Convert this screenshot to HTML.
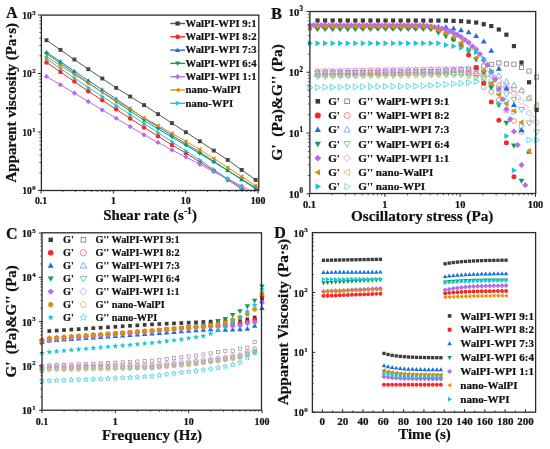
<!DOCTYPE html>
<html><head><meta charset="utf-8"><style>
html,body{margin:0;padding:0;background:#fff;}
svg{display:block;will-change:transform;filter:blur(0.3px);}
text{fill:#111;stroke:#111;stroke-width:0.22px;}
</style></head><body>
<svg width="550" height="449" viewBox="0 0 550 449" style="font-family:&quot;Liberation Serif&quot;,serif;font-weight:bold">
<rect width="550" height="449" fill="#fff"/>
<clipPath id="ca"><rect x="41" y="15" width="217" height="175.5"/></clipPath>
<g clip-path="url(#ca)">
<polyline points="46.50,40.20 87.90,68.90 115.80,87.60 144.00,105.10 171.30,122.70 199.00,140.70 227.80,160.00 255.50,179.80 270.00,190.16" fill="none" stroke="#555555" stroke-width="1.0"/>
<polyline points="46.50,62.40 87.90,90.90 144.00,127.40 171.30,144.60 185.80,153.10 227.80,179.70 241.50,188.70 270.00,207.42" fill="none" stroke="#f52828" stroke-width="1.0"/>
<polyline points="46.50,52.20 87.90,80.40 115.80,98.70 144.00,118.30 185.80,143.80 199.00,151.60 255.50,188.60 270.00,198.10" fill="none" stroke="#1a6fdf" stroke-width="1.0"/>
<polyline points="46.50,53.60 87.90,82.60 144.00,120.40 171.30,136.80 199.00,153.10 227.80,170.60 241.50,179.10 255.50,187.60 270.00,196.40" fill="none" stroke="#0f9d58" stroke-width="1.0"/>
<polyline points="46.50,76.50 144.00,134.90 171.30,149.70 185.80,157.00 241.50,186.00 270.00,200.84" fill="none" stroke="#b46ee8" stroke-width="1.0"/>
<polyline points="46.50,56.60 87.90,83.20 144.00,117.80 171.30,132.90 199.00,148.90 227.80,167.60 255.50,185.60 270.00,195.02" fill="none" stroke="#dc8e0c" stroke-width="1.0"/>
<polyline points="46.50,58.90 87.90,87.30 144.00,123.50 171.30,141.40 199.00,159.40 227.80,179.00 241.50,187.60 270.00,205.49" fill="none" stroke="#19c6d6" stroke-width="1.0"/>
<rect x="44.55" y="38.25" width="3.90" height="3.90" fill="#454545"/>
<rect x="58.49" y="47.91" width="3.90" height="3.90" fill="#454545"/>
<rect x="72.43" y="57.58" width="3.90" height="3.90" fill="#454545"/>
<rect x="86.37" y="67.23" width="3.90" height="3.90" fill="#454545"/>
<rect x="100.31" y="76.57" width="3.90" height="3.90" fill="#454545"/>
<rect x="114.25" y="85.90" width="3.90" height="3.90" fill="#454545"/>
<rect x="128.19" y="94.55" width="3.90" height="3.90" fill="#454545"/>
<rect x="142.13" y="103.20" width="3.90" height="3.90" fill="#454545"/>
<rect x="156.07" y="112.19" width="3.90" height="3.90" fill="#454545"/>
<rect x="170.01" y="121.18" width="3.90" height="3.90" fill="#454545"/>
<rect x="183.95" y="130.24" width="3.90" height="3.90" fill="#454545"/>
<rect x="197.89" y="139.31" width="3.90" height="3.90" fill="#454545"/>
<rect x="211.83" y="148.65" width="3.90" height="3.90" fill="#454545"/>
<rect x="225.77" y="158.00" width="3.90" height="3.90" fill="#454545"/>
<rect x="239.71" y="167.96" width="3.90" height="3.90" fill="#454545"/>
<rect x="253.65" y="177.92" width="3.90" height="3.90" fill="#454545"/>
<circle cx="46.50" cy="62.40" r="2.25" fill="#f52828"/>
<circle cx="60.44" cy="72.00" r="2.25" fill="#f52828"/>
<circle cx="74.38" cy="81.59" r="2.25" fill="#f52828"/>
<circle cx="88.32" cy="91.17" r="2.25" fill="#f52828"/>
<circle cx="102.26" cy="100.24" r="2.25" fill="#f52828"/>
<circle cx="116.20" cy="109.31" r="2.25" fill="#f52828"/>
<circle cx="130.14" cy="118.38" r="2.25" fill="#f52828"/>
<circle cx="144.08" cy="127.45" r="2.25" fill="#f52828"/>
<circle cx="158.02" cy="136.23" r="2.25" fill="#f52828"/>
<circle cx="171.96" cy="144.99" r="2.25" fill="#f52828"/>
<circle cx="185.90" cy="153.16" r="2.25" fill="#f52828"/>
<circle cx="199.84" cy="161.99" r="2.25" fill="#f52828"/>
<circle cx="213.78" cy="170.82" r="2.25" fill="#f52828"/>
<circle cx="227.72" cy="179.65" r="2.25" fill="#f52828"/>
<circle cx="241.66" cy="188.81" r="2.25" fill="#f52828"/>
<polygon points="46.50,49.73 48.86,53.89 44.14,53.89" fill="#1a6fdf"/>
<polygon points="60.44,59.22 62.80,63.38 58.08,63.38" fill="#1a6fdf"/>
<polygon points="74.38,68.72 76.74,72.88 72.02,72.88" fill="#1a6fdf"/>
<polygon points="88.32,78.20 90.68,82.36 85.96,82.36" fill="#1a6fdf"/>
<polygon points="102.26,87.34 104.62,91.51 99.90,91.51" fill="#1a6fdf"/>
<polygon points="116.20,96.50 118.56,100.67 113.84,100.67" fill="#1a6fdf"/>
<polygon points="130.14,106.19 132.50,110.35 127.78,110.35" fill="#1a6fdf"/>
<polygon points="144.08,115.87 146.44,120.04 141.72,120.04" fill="#1a6fdf"/>
<polygon points="158.02,124.38 160.38,128.54 155.66,128.54" fill="#1a6fdf"/>
<polygon points="171.96,132.88 174.32,137.04 169.60,137.04" fill="#1a6fdf"/>
<polygon points="185.90,141.38 188.26,145.55 183.54,145.55" fill="#1a6fdf"/>
<polygon points="199.84,149.68 202.20,153.84 197.48,153.84" fill="#1a6fdf"/>
<polygon points="213.78,158.80 216.14,162.97 211.42,162.97" fill="#1a6fdf"/>
<polygon points="227.72,167.93 230.08,172.10 225.36,172.10" fill="#1a6fdf"/>
<polygon points="241.66,177.06 244.02,181.22 239.30,181.22" fill="#1a6fdf"/>
<polygon points="255.60,186.19 257.96,190.35 253.24,190.35" fill="#1a6fdf"/>
<polygon points="46.50,56.08 48.86,51.91 44.14,51.91" fill="#0f9d58"/>
<polygon points="60.44,65.84 62.80,61.68 58.08,61.68" fill="#0f9d58"/>
<polygon points="74.38,75.60 76.74,71.44 72.02,71.44" fill="#0f9d58"/>
<polygon points="88.32,85.36 90.68,81.20 85.96,81.20" fill="#0f9d58"/>
<polygon points="102.26,94.75 104.62,90.59 99.90,90.59" fill="#0f9d58"/>
<polygon points="116.20,104.14 118.56,99.98 113.84,99.98" fill="#0f9d58"/>
<polygon points="130.14,113.54 132.50,109.37 127.78,109.37" fill="#0f9d58"/>
<polygon points="144.08,122.92 146.44,118.76 141.72,118.76" fill="#0f9d58"/>
<polygon points="158.02,131.30 160.38,127.13 155.66,127.13" fill="#0f9d58"/>
<polygon points="171.96,139.66 174.32,135.50 169.60,135.50" fill="#0f9d58"/>
<polygon points="185.90,147.87 188.26,143.70 183.54,143.70" fill="#0f9d58"/>
<polygon points="199.84,156.09 202.20,151.92 197.48,151.92" fill="#0f9d58"/>
<polygon points="213.78,164.56 216.14,160.39 211.42,160.39" fill="#0f9d58"/>
<polygon points="227.72,173.03 230.08,168.86 225.36,168.86" fill="#0f9d58"/>
<polygon points="241.66,181.67 244.02,177.51 239.30,177.51" fill="#0f9d58"/>
<polygon points="255.60,190.14 257.96,185.97 253.24,185.97" fill="#0f9d58"/>
<polygon points="46.50,73.91 49.09,76.50 46.50,79.09 43.91,76.50" fill="#b46ee8"/>
<polygon points="60.44,82.26 63.03,84.85 60.44,87.44 57.85,84.85" fill="#b46ee8"/>
<polygon points="74.38,90.61 76.97,93.20 74.38,95.79 71.79,93.20" fill="#b46ee8"/>
<polygon points="88.32,98.96 90.91,101.55 88.32,104.14 85.73,101.55" fill="#b46ee8"/>
<polygon points="102.26,107.31 104.85,109.90 102.26,112.49 99.67,109.90" fill="#b46ee8"/>
<polygon points="116.20,115.66 118.79,118.25 116.20,120.84 113.61,118.25" fill="#b46ee8"/>
<polygon points="130.14,124.01 132.73,126.60 130.14,129.19 127.55,126.60" fill="#b46ee8"/>
<polygon points="144.08,132.36 146.67,134.94 144.08,137.53 141.49,134.94" fill="#b46ee8"/>
<polygon points="158.02,139.91 160.61,142.50 158.02,145.09 155.43,142.50" fill="#b46ee8"/>
<polygon points="171.96,147.44 174.55,150.03 171.96,152.62 169.37,150.03" fill="#b46ee8"/>
<polygon points="185.90,154.46 188.49,157.05 185.90,159.64 183.31,157.05" fill="#b46ee8"/>
<polygon points="199.84,161.72 202.43,164.31 199.84,166.90 197.25,164.31" fill="#b46ee8"/>
<polygon points="213.78,168.98 216.37,171.57 213.78,174.16 211.19,171.57" fill="#b46ee8"/>
<polygon points="227.72,176.24 230.31,178.83 227.72,181.41 225.13,178.83" fill="#b46ee8"/>
<polygon points="241.66,183.50 244.25,186.08 241.66,188.67 239.07,186.08" fill="#b46ee8"/>
<polygon points="255.60,190.75 258.19,193.34 255.60,195.93 253.01,193.34" fill="#b46ee8"/>
<polygon points="44.02,56.60 48.19,54.24 48.19,58.96" fill="#dc8e0c"/>
<polygon points="57.96,65.56 62.13,63.19 62.13,67.92" fill="#dc8e0c"/>
<polygon points="71.91,74.51 76.07,72.15 76.07,76.88" fill="#dc8e0c"/>
<polygon points="85.84,83.46 90.01,81.10 90.01,85.82" fill="#dc8e0c"/>
<polygon points="99.78,92.06 103.95,89.69 103.95,94.42" fill="#dc8e0c"/>
<polygon points="113.73,100.65 117.89,98.29 117.89,103.02" fill="#dc8e0c"/>
<polygon points="127.66,109.25 131.83,106.89 131.83,111.61" fill="#dc8e0c"/>
<polygon points="141.60,117.84 145.77,115.48 145.77,120.21" fill="#dc8e0c"/>
<polygon points="155.54,125.55 159.71,123.19 159.71,127.92" fill="#dc8e0c"/>
<polygon points="169.48,133.28 173.65,130.92 173.65,135.64" fill="#dc8e0c"/>
<polygon points="183.43,141.33 187.59,138.97 187.59,143.70" fill="#dc8e0c"/>
<polygon points="197.37,149.45 201.53,147.08 201.53,151.81" fill="#dc8e0c"/>
<polygon points="211.31,158.50 215.47,156.13 215.47,160.86" fill="#dc8e0c"/>
<polygon points="225.25,167.55 229.41,165.19 229.41,169.91" fill="#dc8e0c"/>
<polygon points="239.19,176.61 243.35,174.24 243.35,178.97" fill="#dc8e0c"/>
<polygon points="253.12,185.66 257.29,183.30 257.29,188.03" fill="#dc8e0c"/>
<polygon points="48.98,58.90 44.81,56.54 44.81,61.26" fill="#19c6d6"/>
<polygon points="62.91,68.46 58.75,66.10 58.75,70.83" fill="#19c6d6"/>
<polygon points="76.85,78.03 72.69,75.66 72.69,80.39" fill="#19c6d6"/>
<polygon points="90.79,87.57 86.63,85.21 86.63,89.93" fill="#19c6d6"/>
<polygon points="104.73,96.57 100.57,94.20 100.57,98.93" fill="#19c6d6"/>
<polygon points="118.67,105.56 114.51,103.20 114.51,107.92" fill="#19c6d6"/>
<polygon points="132.61,114.56 128.45,112.19 128.45,116.92" fill="#19c6d6"/>
<polygon points="146.55,123.55 142.39,121.19 142.39,125.91" fill="#19c6d6"/>
<polygon points="160.49,132.69 156.33,130.33 156.33,135.06" fill="#19c6d6"/>
<polygon points="174.43,141.83 170.27,139.47 170.27,144.19" fill="#19c6d6"/>
<polygon points="188.38,150.89 184.21,148.52 184.21,153.25" fill="#19c6d6"/>
<polygon points="202.31,159.97 198.15,157.61 198.15,162.33" fill="#19c6d6"/>
<polygon points="216.25,169.46 212.09,167.10 212.09,171.82" fill="#19c6d6"/>
<polygon points="230.19,178.95 226.03,176.58 226.03,181.31" fill="#19c6d6"/>
<polygon points="244.13,187.70 239.97,185.34 239.97,190.06" fill="#19c6d6"/>
</g>
<rect x="41.4" y="15.1" width="217.40" height="175.40" fill="none" stroke="#2a2a2a" stroke-width="1.3"/>
<line x1="41.00" y1="190.50" x2="41.00" y2="193.50" stroke="#262626" stroke-width="1"/>
<line x1="62.77" y1="190.50" x2="62.77" y2="192.10" stroke="#262626" stroke-width="0.8"/>
<line x1="75.51" y1="190.50" x2="75.51" y2="192.10" stroke="#262626" stroke-width="0.8"/>
<line x1="84.55" y1="190.50" x2="84.55" y2="192.10" stroke="#262626" stroke-width="0.8"/>
<line x1="91.56" y1="190.50" x2="91.56" y2="192.10" stroke="#262626" stroke-width="0.8"/>
<line x1="97.29" y1="190.50" x2="97.29" y2="192.10" stroke="#262626" stroke-width="0.8"/>
<line x1="102.13" y1="190.50" x2="102.13" y2="192.10" stroke="#262626" stroke-width="0.8"/>
<line x1="106.32" y1="190.50" x2="106.32" y2="192.10" stroke="#262626" stroke-width="0.8"/>
<line x1="110.02" y1="190.50" x2="110.02" y2="192.10" stroke="#262626" stroke-width="0.8"/>
<line x1="113.33" y1="190.50" x2="113.33" y2="193.50" stroke="#262626" stroke-width="1"/>
<line x1="135.11" y1="190.50" x2="135.11" y2="192.10" stroke="#262626" stroke-width="0.8"/>
<line x1="147.85" y1="190.50" x2="147.85" y2="192.10" stroke="#262626" stroke-width="0.8"/>
<line x1="156.88" y1="190.50" x2="156.88" y2="192.10" stroke="#262626" stroke-width="0.8"/>
<line x1="163.89" y1="190.50" x2="163.89" y2="192.10" stroke="#262626" stroke-width="0.8"/>
<line x1="169.62" y1="190.50" x2="169.62" y2="192.10" stroke="#262626" stroke-width="0.8"/>
<line x1="174.46" y1="190.50" x2="174.46" y2="192.10" stroke="#262626" stroke-width="0.8"/>
<line x1="178.66" y1="190.50" x2="178.66" y2="192.10" stroke="#262626" stroke-width="0.8"/>
<line x1="182.36" y1="190.50" x2="182.36" y2="192.10" stroke="#262626" stroke-width="0.8"/>
<line x1="185.67" y1="190.50" x2="185.67" y2="193.50" stroke="#262626" stroke-width="1"/>
<line x1="207.44" y1="190.50" x2="207.44" y2="192.10" stroke="#262626" stroke-width="0.8"/>
<line x1="220.18" y1="190.50" x2="220.18" y2="192.10" stroke="#262626" stroke-width="0.8"/>
<line x1="229.22" y1="190.50" x2="229.22" y2="192.10" stroke="#262626" stroke-width="0.8"/>
<line x1="236.23" y1="190.50" x2="236.23" y2="192.10" stroke="#262626" stroke-width="0.8"/>
<line x1="241.95" y1="190.50" x2="241.95" y2="192.10" stroke="#262626" stroke-width="0.8"/>
<line x1="246.80" y1="190.50" x2="246.80" y2="192.10" stroke="#262626" stroke-width="0.8"/>
<line x1="250.99" y1="190.50" x2="250.99" y2="192.10" stroke="#262626" stroke-width="0.8"/>
<line x1="254.69" y1="190.50" x2="254.69" y2="192.10" stroke="#262626" stroke-width="0.8"/>
<line x1="258.00" y1="190.50" x2="258.00" y2="193.50" stroke="#262626" stroke-width="1"/>
<line x1="41.00" y1="190.50" x2="38.00" y2="190.50" stroke="#262626" stroke-width="1"/>
<line x1="41.00" y1="172.89" x2="39.40" y2="172.89" stroke="#262626" stroke-width="0.8"/>
<line x1="41.00" y1="162.59" x2="39.40" y2="162.59" stroke="#262626" stroke-width="0.8"/>
<line x1="41.00" y1="155.28" x2="39.40" y2="155.28" stroke="#262626" stroke-width="0.8"/>
<line x1="41.00" y1="149.61" x2="39.40" y2="149.61" stroke="#262626" stroke-width="0.8"/>
<line x1="41.00" y1="144.98" x2="39.40" y2="144.98" stroke="#262626" stroke-width="0.8"/>
<line x1="41.00" y1="141.06" x2="39.40" y2="141.06" stroke="#262626" stroke-width="0.8"/>
<line x1="41.00" y1="137.67" x2="39.40" y2="137.67" stroke="#262626" stroke-width="0.8"/>
<line x1="41.00" y1="134.68" x2="39.40" y2="134.68" stroke="#262626" stroke-width="0.8"/>
<line x1="41.00" y1="132.00" x2="38.00" y2="132.00" stroke="#262626" stroke-width="1"/>
<line x1="41.00" y1="114.39" x2="39.40" y2="114.39" stroke="#262626" stroke-width="0.8"/>
<line x1="41.00" y1="104.09" x2="39.40" y2="104.09" stroke="#262626" stroke-width="0.8"/>
<line x1="41.00" y1="96.78" x2="39.40" y2="96.78" stroke="#262626" stroke-width="0.8"/>
<line x1="41.00" y1="91.11" x2="39.40" y2="91.11" stroke="#262626" stroke-width="0.8"/>
<line x1="41.00" y1="86.48" x2="39.40" y2="86.48" stroke="#262626" stroke-width="0.8"/>
<line x1="41.00" y1="82.56" x2="39.40" y2="82.56" stroke="#262626" stroke-width="0.8"/>
<line x1="41.00" y1="79.17" x2="39.40" y2="79.17" stroke="#262626" stroke-width="0.8"/>
<line x1="41.00" y1="76.18" x2="39.40" y2="76.18" stroke="#262626" stroke-width="0.8"/>
<line x1="41.00" y1="73.50" x2="38.00" y2="73.50" stroke="#262626" stroke-width="1"/>
<line x1="41.00" y1="55.89" x2="39.40" y2="55.89" stroke="#262626" stroke-width="0.8"/>
<line x1="41.00" y1="45.59" x2="39.40" y2="45.59" stroke="#262626" stroke-width="0.8"/>
<line x1="41.00" y1="38.28" x2="39.40" y2="38.28" stroke="#262626" stroke-width="0.8"/>
<line x1="41.00" y1="32.61" x2="39.40" y2="32.61" stroke="#262626" stroke-width="0.8"/>
<line x1="41.00" y1="27.98" x2="39.40" y2="27.98" stroke="#262626" stroke-width="0.8"/>
<line x1="41.00" y1="24.06" x2="39.40" y2="24.06" stroke="#262626" stroke-width="0.8"/>
<line x1="41.00" y1="20.67" x2="39.40" y2="20.67" stroke="#262626" stroke-width="0.8"/>
<line x1="41.00" y1="17.68" x2="39.40" y2="17.68" stroke="#262626" stroke-width="0.8"/>
<line x1="41.00" y1="15.00" x2="38.00" y2="15.00" stroke="#262626" stroke-width="1"/>
<text x="35.50" y="194.37" font-size="9.6" text-anchor="end">10<tspan font-size="6.72" dx="0.4" dy="-4.32">0</tspan></text>
<text x="35.50" y="135.87" font-size="9.6" text-anchor="end">10<tspan font-size="6.72" dx="0.4" dy="-4.32">1</tspan></text>
<text x="35.50" y="77.37" font-size="9.6" text-anchor="end">10<tspan font-size="6.72" dx="0.4" dy="-4.32">2</tspan></text>
<text x="35.50" y="18.87" font-size="9.6" text-anchor="end">10<tspan font-size="6.72" dx="0.4" dy="-4.32">3</tspan></text>
<text x="41.00" y="204.30" font-size="9.8" text-anchor="middle" >0.1</text>
<text x="113.33" y="204.30" font-size="9.8" text-anchor="middle" >1</text>
<text x="185.67" y="204.30" font-size="9.8" text-anchor="middle" >10</text>
<text x="258.00" y="204.30" font-size="9.8" text-anchor="middle" >100</text>
<text x="150.00" y="219.70" font-size="14.9" text-anchor="middle" >Shear rate (s<tspan font-size="9.6" dy="-5.8">-1</tspan><tspan dy="5.8">)</tspan></text>
<text transform="translate(16.40,102.70) rotate(-90)" font-size="14.9" text-anchor="middle" >Apparent viscosity (Pa·s)</text>
<text x="6.00" y="17.70" font-size="16" text-anchor="start" >A</text>
<line x1="170.3" y1="23.50" x2="185" y2="23.50" stroke="#555" stroke-width="1.4"/>
<rect x="175.50" y="21.40" width="4.20" height="4.20" fill="#3a3a3a"/>
<text x="185.60" y="26.70" font-size="10.7" text-anchor="start" >WalPI-WPI 9:1</text>
<line x1="170.3" y1="36.80" x2="185" y2="36.80" stroke="#f52828" stroke-width="1.4"/>
<circle cx="177.60" cy="36.80" r="2.40" fill="#f52828"/>
<text x="185.60" y="40.00" font-size="10.7" text-anchor="start" >WalPI-WPI 8:2</text>
<line x1="170.3" y1="50.10" x2="185" y2="50.10" stroke="#1a6fdf" stroke-width="1.4"/>
<polygon points="177.60,47.46 180.12,51.90 175.08,51.90" fill="#1a6fdf"/>
<text x="185.60" y="53.30" font-size="10.7" text-anchor="start" >WalPI-WPI 7:3</text>
<line x1="170.3" y1="63.40" x2="185" y2="63.40" stroke="#0f9d58" stroke-width="1.4"/>
<polygon points="177.60,66.04 180.12,61.60 175.08,61.60" fill="#0f9d58"/>
<text x="185.60" y="66.60" font-size="10.7" text-anchor="start" >WalPI-WPI 6:4</text>
<line x1="170.3" y1="76.70" x2="185" y2="76.70" stroke="#b46ee8" stroke-width="1.4"/>
<polygon points="177.60,73.94 180.36,76.70 177.60,79.46 174.84,76.70" fill="#b46ee8"/>
<text x="185.60" y="79.90" font-size="10.7" text-anchor="start" >WalPI-WPI 1:1</text>
<line x1="170.3" y1="90.00" x2="185" y2="90.00" stroke="#dc8e0c" stroke-width="1.4"/>
<polygon points="174.96,90.00 179.40,87.48 179.40,92.52" fill="#dc8e0c"/>
<text x="185.60" y="93.20" font-size="10.7" text-anchor="start" >nano-WalPI</text>
<line x1="170.3" y1="103.30" x2="185" y2="103.30" stroke="#19c6d6" stroke-width="1.4"/>
<polygon points="180.24,103.30 175.80,100.78 175.80,105.82" fill="#19c6d6"/>
<text x="185.60" y="106.50" font-size="10.7" text-anchor="start" >nano-WPI</text>
<clipPath id="cb"><rect x="305.5" y="7.5" width="234.0" height="186.3"/></clipPath>
<g clip-path="url(#cb)">
<rect x="315.45" y="70.81" width="4.20" height="4.20" fill="none" stroke="#757575" stroke-width="0.75"/>
<rect x="323.01" y="70.72" width="4.20" height="4.20" fill="none" stroke="#757575" stroke-width="0.75"/>
<rect x="330.56" y="70.63" width="4.20" height="4.20" fill="none" stroke="#757575" stroke-width="0.75"/>
<rect x="338.11" y="70.55" width="4.20" height="4.20" fill="none" stroke="#757575" stroke-width="0.75"/>
<rect x="345.67" y="70.46" width="4.20" height="4.20" fill="none" stroke="#757575" stroke-width="0.75"/>
<rect x="353.22" y="70.37" width="4.20" height="4.20" fill="none" stroke="#757575" stroke-width="0.75"/>
<rect x="360.77" y="70.29" width="4.20" height="4.20" fill="none" stroke="#757575" stroke-width="0.75"/>
<rect x="368.33" y="70.20" width="4.20" height="4.20" fill="none" stroke="#757575" stroke-width="0.75"/>
<rect x="375.88" y="70.11" width="4.20" height="4.20" fill="none" stroke="#757575" stroke-width="0.75"/>
<rect x="383.43" y="70.03" width="4.20" height="4.20" fill="none" stroke="#757575" stroke-width="0.75"/>
<rect x="390.99" y="69.94" width="4.20" height="4.20" fill="none" stroke="#757575" stroke-width="0.75"/>
<rect x="398.54" y="69.85" width="4.20" height="4.20" fill="none" stroke="#757575" stroke-width="0.75"/>
<rect x="406.09" y="69.77" width="4.20" height="4.20" fill="none" stroke="#757575" stroke-width="0.75"/>
<rect x="413.65" y="69.68" width="4.20" height="4.20" fill="none" stroke="#757575" stroke-width="0.75"/>
<rect x="421.20" y="69.59" width="4.20" height="4.20" fill="none" stroke="#757575" stroke-width="0.75"/>
<rect x="428.75" y="69.51" width="4.20" height="4.20" fill="none" stroke="#757575" stroke-width="0.75"/>
<rect x="436.31" y="69.42" width="4.20" height="4.20" fill="none" stroke="#757575" stroke-width="0.75"/>
<rect x="443.86" y="68.90" width="4.20" height="4.20" fill="none" stroke="#757575" stroke-width="0.75"/>
<rect x="451.41" y="68.27" width="4.20" height="4.20" fill="none" stroke="#757575" stroke-width="0.75"/>
<rect x="458.97" y="67.64" width="4.20" height="4.20" fill="none" stroke="#757575" stroke-width="0.75"/>
<rect x="466.52" y="67.02" width="4.20" height="4.20" fill="none" stroke="#757575" stroke-width="0.75"/>
<rect x="474.07" y="65.56" width="4.20" height="4.20" fill="none" stroke="#757575" stroke-width="0.75"/>
<rect x="481.63" y="63.93" width="4.20" height="4.20" fill="none" stroke="#757575" stroke-width="0.75"/>
<rect x="489.18" y="62.29" width="4.20" height="4.20" fill="none" stroke="#757575" stroke-width="0.75"/>
<rect x="496.73" y="60.81" width="4.20" height="4.20" fill="none" stroke="#757575" stroke-width="0.75"/>
<rect x="504.29" y="61.80" width="4.20" height="4.20" fill="none" stroke="#757575" stroke-width="0.75"/>
<rect x="511.84" y="62.08" width="4.20" height="4.20" fill="none" stroke="#757575" stroke-width="0.75"/>
<rect x="519.39" y="65.33" width="4.20" height="4.20" fill="none" stroke="#757575" stroke-width="0.75"/>
<rect x="526.95" y="68.98" width="4.20" height="4.20" fill="none" stroke="#757575" stroke-width="0.75"/>
<rect x="534.50" y="74.90" width="4.20" height="4.20" fill="none" stroke="#757575" stroke-width="0.75"/>
<circle cx="317.55" cy="71.39" r="2.50" fill="none" stroke="#f86868" stroke-width="0.75"/>
<circle cx="325.11" cy="71.29" r="2.50" fill="none" stroke="#f86868" stroke-width="0.75"/>
<circle cx="332.66" cy="71.19" r="2.50" fill="none" stroke="#f86868" stroke-width="0.75"/>
<circle cx="340.21" cy="71.09" r="2.50" fill="none" stroke="#f86868" stroke-width="0.75"/>
<circle cx="347.77" cy="70.99" r="2.50" fill="none" stroke="#f86868" stroke-width="0.75"/>
<circle cx="355.32" cy="70.89" r="2.50" fill="none" stroke="#f86868" stroke-width="0.75"/>
<circle cx="362.87" cy="70.79" r="2.50" fill="none" stroke="#f86868" stroke-width="0.75"/>
<circle cx="370.43" cy="70.69" r="2.50" fill="none" stroke="#f86868" stroke-width="0.75"/>
<circle cx="377.98" cy="70.59" r="2.50" fill="none" stroke="#f86868" stroke-width="0.75"/>
<circle cx="385.53" cy="70.49" r="2.50" fill="none" stroke="#f86868" stroke-width="0.75"/>
<circle cx="393.09" cy="70.39" r="2.50" fill="none" stroke="#f86868" stroke-width="0.75"/>
<circle cx="400.64" cy="70.29" r="2.50" fill="none" stroke="#f86868" stroke-width="0.75"/>
<circle cx="408.19" cy="70.19" r="2.50" fill="none" stroke="#f86868" stroke-width="0.75"/>
<circle cx="415.75" cy="70.09" r="2.50" fill="none" stroke="#f86868" stroke-width="0.75"/>
<circle cx="423.30" cy="69.99" r="2.50" fill="none" stroke="#f86868" stroke-width="0.75"/>
<circle cx="430.85" cy="69.89" r="2.50" fill="none" stroke="#f86868" stroke-width="0.75"/>
<circle cx="438.41" cy="69.79" r="2.50" fill="none" stroke="#f86868" stroke-width="0.75"/>
<circle cx="445.96" cy="69.69" r="2.50" fill="none" stroke="#f86868" stroke-width="0.75"/>
<circle cx="453.51" cy="69.59" r="2.50" fill="none" stroke="#f86868" stroke-width="0.75"/>
<circle cx="461.07" cy="69.77" r="2.50" fill="none" stroke="#f86868" stroke-width="0.75"/>
<circle cx="468.62" cy="71.66" r="2.50" fill="none" stroke="#f86868" stroke-width="0.75"/>
<circle cx="476.17" cy="73.81" r="2.50" fill="none" stroke="#f86868" stroke-width="0.75"/>
<circle cx="483.73" cy="87.16" r="2.50" fill="none" stroke="#f86868" stroke-width="0.75"/>
<circle cx="491.28" cy="91.81" r="2.50" fill="none" stroke="#f86868" stroke-width="0.75"/>
<circle cx="498.83" cy="99.81" r="2.50" fill="none" stroke="#f86868" stroke-width="0.75"/>
<circle cx="506.39" cy="110.53" r="2.50" fill="none" stroke="#f86868" stroke-width="0.75"/>
<circle cx="513.94" cy="120.92" r="2.50" fill="none" stroke="#f86868" stroke-width="0.75"/>
<circle cx="521.49" cy="131.78" r="2.50" fill="none" stroke="#f86868" stroke-width="0.75"/>
<polygon points="317.55,71.31 320.49,76.49 314.61,76.49" fill="none" stroke="#5e9ae8" stroke-width="0.75"/>
<polygon points="325.11,71.21 328.05,76.39 322.17,76.39" fill="none" stroke="#5e9ae8" stroke-width="0.75"/>
<polygon points="332.66,71.11 335.60,76.29 329.72,76.29" fill="none" stroke="#5e9ae8" stroke-width="0.75"/>
<polygon points="340.21,71.01 343.15,76.19 337.27,76.19" fill="none" stroke="#5e9ae8" stroke-width="0.75"/>
<polygon points="347.77,70.91 350.71,76.09 344.83,76.09" fill="none" stroke="#5e9ae8" stroke-width="0.75"/>
<polygon points="355.32,70.81 358.26,75.99 352.38,75.99" fill="none" stroke="#5e9ae8" stroke-width="0.75"/>
<polygon points="362.87,70.71 365.81,75.89 359.93,75.89" fill="none" stroke="#5e9ae8" stroke-width="0.75"/>
<polygon points="370.43,70.61 373.37,75.79 367.49,75.79" fill="none" stroke="#5e9ae8" stroke-width="0.75"/>
<polygon points="377.98,70.51 380.92,75.69 375.04,75.69" fill="none" stroke="#5e9ae8" stroke-width="0.75"/>
<polygon points="385.53,70.41 388.47,75.59 382.59,75.59" fill="none" stroke="#5e9ae8" stroke-width="0.75"/>
<polygon points="393.09,70.31 396.03,75.49 390.15,75.49" fill="none" stroke="#5e9ae8" stroke-width="0.75"/>
<polygon points="400.64,70.21 403.58,75.39 397.70,75.39" fill="none" stroke="#5e9ae8" stroke-width="0.75"/>
<polygon points="408.19,70.11 411.13,75.29 405.25,75.29" fill="none" stroke="#5e9ae8" stroke-width="0.75"/>
<polygon points="415.75,70.01 418.69,75.19 412.81,75.19" fill="none" stroke="#5e9ae8" stroke-width="0.75"/>
<polygon points="423.30,69.91 426.24,75.09 420.36,75.09" fill="none" stroke="#5e9ae8" stroke-width="0.75"/>
<polygon points="430.85,69.81 433.79,74.99 427.91,74.99" fill="none" stroke="#5e9ae8" stroke-width="0.75"/>
<polygon points="438.41,69.71 441.35,74.89 435.47,74.89" fill="none" stroke="#5e9ae8" stroke-width="0.75"/>
<polygon points="445.96,69.61 448.90,74.79 443.02,74.79" fill="none" stroke="#5e9ae8" stroke-width="0.75"/>
<polygon points="453.51,69.51 456.45,74.69 450.57,74.69" fill="none" stroke="#5e9ae8" stroke-width="0.75"/>
<polygon points="461.07,69.47 464.01,74.65 458.13,74.65" fill="none" stroke="#5e9ae8" stroke-width="0.75"/>
<polygon points="468.62,69.85 471.56,75.03 465.68,75.03" fill="none" stroke="#5e9ae8" stroke-width="0.75"/>
<polygon points="476.17,70.23 479.11,75.41 473.23,75.41" fill="none" stroke="#5e9ae8" stroke-width="0.75"/>
<polygon points="483.73,70.61 486.67,75.79 480.79,75.79" fill="none" stroke="#5e9ae8" stroke-width="0.75"/>
<polygon points="491.28,71.18 494.22,76.36 488.34,76.36" fill="none" stroke="#5e9ae8" stroke-width="0.75"/>
<polygon points="498.83,72.82 501.77,78.00 495.89,78.00" fill="none" stroke="#5e9ae8" stroke-width="0.75"/>
<polygon points="506.39,78.75 509.33,83.93 503.45,83.93" fill="none" stroke="#5e9ae8" stroke-width="0.75"/>
<polygon points="513.94,82.34 516.88,87.52 511.00,87.52" fill="none" stroke="#5e9ae8" stroke-width="0.75"/>
<polygon points="521.49,87.13 524.43,92.31 518.55,92.31" fill="none" stroke="#5e9ae8" stroke-width="0.75"/>
<polygon points="529.05,95.21 531.99,100.39 526.11,100.39" fill="none" stroke="#5e9ae8" stroke-width="0.75"/>
<polygon points="536.60,102.92 539.54,108.10 533.66,108.10" fill="none" stroke="#5e9ae8" stroke-width="0.75"/>
<polygon points="317.55,79.47 320.49,74.29 314.61,74.29" fill="none" stroke="#57ba8a" stroke-width="0.75"/>
<polygon points="325.11,79.37 328.05,74.19 322.17,74.19" fill="none" stroke="#57ba8a" stroke-width="0.75"/>
<polygon points="332.66,79.27 335.60,74.09 329.72,74.09" fill="none" stroke="#57ba8a" stroke-width="0.75"/>
<polygon points="340.21,79.17 343.15,73.99 337.27,73.99" fill="none" stroke="#57ba8a" stroke-width="0.75"/>
<polygon points="347.77,79.07 350.71,73.89 344.83,73.89" fill="none" stroke="#57ba8a" stroke-width="0.75"/>
<polygon points="355.32,78.97 358.26,73.79 352.38,73.79" fill="none" stroke="#57ba8a" stroke-width="0.75"/>
<polygon points="362.87,78.87 365.81,73.69 359.93,73.69" fill="none" stroke="#57ba8a" stroke-width="0.75"/>
<polygon points="370.43,78.77 373.37,73.59 367.49,73.59" fill="none" stroke="#57ba8a" stroke-width="0.75"/>
<polygon points="377.98,78.67 380.92,73.49 375.04,73.49" fill="none" stroke="#57ba8a" stroke-width="0.75"/>
<polygon points="385.53,78.57 388.47,73.39 382.59,73.39" fill="none" stroke="#57ba8a" stroke-width="0.75"/>
<polygon points="393.09,78.47 396.03,73.29 390.15,73.29" fill="none" stroke="#57ba8a" stroke-width="0.75"/>
<polygon points="400.64,78.37 403.58,73.19 397.70,73.19" fill="none" stroke="#57ba8a" stroke-width="0.75"/>
<polygon points="408.19,78.27 411.13,73.09 405.25,73.09" fill="none" stroke="#57ba8a" stroke-width="0.75"/>
<polygon points="415.75,78.17 418.69,72.99 412.81,72.99" fill="none" stroke="#57ba8a" stroke-width="0.75"/>
<polygon points="423.30,78.07 426.24,72.89 420.36,72.89" fill="none" stroke="#57ba8a" stroke-width="0.75"/>
<polygon points="430.85,77.97 433.79,72.79 427.91,72.79" fill="none" stroke="#57ba8a" stroke-width="0.75"/>
<polygon points="438.41,77.87 441.35,72.69 435.47,72.69" fill="none" stroke="#57ba8a" stroke-width="0.75"/>
<polygon points="445.96,77.77 448.90,72.59 443.02,72.59" fill="none" stroke="#57ba8a" stroke-width="0.75"/>
<polygon points="453.51,77.67 456.45,72.49 450.57,72.49" fill="none" stroke="#57ba8a" stroke-width="0.75"/>
<polygon points="461.07,77.78 464.01,72.60 458.13,72.60" fill="none" stroke="#57ba8a" stroke-width="0.75"/>
<polygon points="468.62,79.20 471.56,74.02 465.68,74.02" fill="none" stroke="#57ba8a" stroke-width="0.75"/>
<polygon points="476.17,80.61 479.11,75.43 473.23,75.43" fill="none" stroke="#57ba8a" stroke-width="0.75"/>
<polygon points="483.73,82.03 486.67,76.85 480.79,76.85" fill="none" stroke="#57ba8a" stroke-width="0.75"/>
<polygon points="491.28,87.24 494.22,82.06 488.34,82.06" fill="none" stroke="#57ba8a" stroke-width="0.75"/>
<polygon points="498.83,91.49 501.77,86.31 495.89,86.31" fill="none" stroke="#57ba8a" stroke-width="0.75"/>
<polygon points="506.39,97.16 509.33,91.98 503.45,91.98" fill="none" stroke="#57ba8a" stroke-width="0.75"/>
<polygon points="513.94,102.63 516.88,97.45 511.00,97.45" fill="none" stroke="#57ba8a" stroke-width="0.75"/>
<polygon points="521.49,112.69 524.43,107.51 518.55,107.51" fill="none" stroke="#57ba8a" stroke-width="0.75"/>
<polygon points="529.05,126.15 531.99,120.97 526.11,120.97" fill="none" stroke="#57ba8a" stroke-width="0.75"/>
<polygon points="536.60,135.08 539.54,129.90 533.66,129.90" fill="none" stroke="#57ba8a" stroke-width="0.75"/>
<polygon points="314.47,75.39 319.65,72.45 319.65,78.33" fill="none" stroke="#e6af54" stroke-width="0.75"/>
<polygon points="322.03,75.29 327.21,72.35 327.21,78.23" fill="none" stroke="#e6af54" stroke-width="0.75"/>
<polygon points="329.58,75.19 334.76,72.25 334.76,78.13" fill="none" stroke="#e6af54" stroke-width="0.75"/>
<polygon points="337.13,75.09 342.31,72.15 342.31,78.03" fill="none" stroke="#e6af54" stroke-width="0.75"/>
<polygon points="344.69,74.99 349.87,72.05 349.87,77.93" fill="none" stroke="#e6af54" stroke-width="0.75"/>
<polygon points="352.24,74.89 357.42,71.95 357.42,77.83" fill="none" stroke="#e6af54" stroke-width="0.75"/>
<polygon points="359.79,74.79 364.97,71.85 364.97,77.73" fill="none" stroke="#e6af54" stroke-width="0.75"/>
<polygon points="367.35,74.69 372.53,71.75 372.53,77.63" fill="none" stroke="#e6af54" stroke-width="0.75"/>
<polygon points="374.90,74.59 380.08,71.65 380.08,77.53" fill="none" stroke="#e6af54" stroke-width="0.75"/>
<polygon points="382.45,74.49 387.63,71.55 387.63,77.43" fill="none" stroke="#e6af54" stroke-width="0.75"/>
<polygon points="390.01,74.39 395.19,71.45 395.19,77.33" fill="none" stroke="#e6af54" stroke-width="0.75"/>
<polygon points="397.56,74.29 402.74,71.35 402.74,77.23" fill="none" stroke="#e6af54" stroke-width="0.75"/>
<polygon points="405.11,74.19 410.29,71.25 410.29,77.13" fill="none" stroke="#e6af54" stroke-width="0.75"/>
<polygon points="412.67,74.09 417.85,71.15 417.85,77.03" fill="none" stroke="#e6af54" stroke-width="0.75"/>
<polygon points="420.22,73.99 425.40,71.05 425.40,76.93" fill="none" stroke="#e6af54" stroke-width="0.75"/>
<polygon points="427.77,73.89 432.95,70.95 432.95,76.83" fill="none" stroke="#e6af54" stroke-width="0.75"/>
<polygon points="435.33,73.79 440.51,70.85 440.51,76.73" fill="none" stroke="#e6af54" stroke-width="0.75"/>
<polygon points="442.88,73.69 448.06,70.75 448.06,76.63" fill="none" stroke="#e6af54" stroke-width="0.75"/>
<polygon points="450.43,73.59 455.61,70.65 455.61,76.53" fill="none" stroke="#e6af54" stroke-width="0.75"/>
<polygon points="457.99,73.61 463.17,70.67 463.17,76.55" fill="none" stroke="#e6af54" stroke-width="0.75"/>
<polygon points="465.54,74.40 470.72,71.46 470.72,77.34" fill="none" stroke="#e6af54" stroke-width="0.75"/>
<polygon points="473.09,75.18 478.27,72.24 478.27,78.12" fill="none" stroke="#e6af54" stroke-width="0.75"/>
<polygon points="480.65,75.97 485.83,73.03 485.83,78.91" fill="none" stroke="#e6af54" stroke-width="0.75"/>
<polygon points="488.20,80.18 493.38,77.24 493.38,83.12" fill="none" stroke="#e6af54" stroke-width="0.75"/>
<polygon points="495.75,84.90 500.93,81.96 500.93,87.84" fill="none" stroke="#e6af54" stroke-width="0.75"/>
<polygon points="503.31,88.10 508.49,85.16 508.49,91.04" fill="none" stroke="#e6af54" stroke-width="0.75"/>
<polygon points="510.86,89.98 516.04,87.04 516.04,92.92" fill="none" stroke="#e6af54" stroke-width="0.75"/>
<polygon points="518.41,91.24 523.59,88.30 523.59,94.18" fill="none" stroke="#e6af54" stroke-width="0.75"/>
<polygon points="525.97,97.52 531.15,94.58 531.15,100.46" fill="none" stroke="#e6af54" stroke-width="0.75"/>
<polygon points="533.52,105.00 538.70,102.06 538.70,107.94" fill="none" stroke="#e6af54" stroke-width="0.75"/>
<polygon points="313.08,87.49 307.90,84.55 307.90,90.43" fill="none" stroke="#34ccda" stroke-width="0.75"/>
<polygon points="320.63,87.39 315.45,84.45 315.45,90.33" fill="none" stroke="#34ccda" stroke-width="0.75"/>
<polygon points="328.19,87.29 323.01,84.35 323.01,90.23" fill="none" stroke="#34ccda" stroke-width="0.75"/>
<polygon points="335.74,87.19 330.56,84.25 330.56,90.13" fill="none" stroke="#34ccda" stroke-width="0.75"/>
<polygon points="343.29,87.09 338.11,84.15 338.11,90.03" fill="none" stroke="#34ccda" stroke-width="0.75"/>
<polygon points="350.85,86.99 345.67,84.05 345.67,89.93" fill="none" stroke="#34ccda" stroke-width="0.75"/>
<polygon points="358.40,86.89 353.22,83.95 353.22,89.83" fill="none" stroke="#34ccda" stroke-width="0.75"/>
<polygon points="365.95,86.79 360.77,83.85 360.77,89.73" fill="none" stroke="#34ccda" stroke-width="0.75"/>
<polygon points="373.51,86.69 368.33,83.75 368.33,89.63" fill="none" stroke="#34ccda" stroke-width="0.75"/>
<polygon points="381.06,86.59 375.88,83.65 375.88,89.53" fill="none" stroke="#34ccda" stroke-width="0.75"/>
<polygon points="388.61,86.49 383.43,83.55 383.43,89.43" fill="none" stroke="#34ccda" stroke-width="0.75"/>
<polygon points="396.17,86.39 390.99,83.45 390.99,89.33" fill="none" stroke="#34ccda" stroke-width="0.75"/>
<polygon points="403.72,86.28 398.54,83.34 398.54,89.22" fill="none" stroke="#34ccda" stroke-width="0.75"/>
<polygon points="411.27,86.18 406.09,83.24 406.09,89.12" fill="none" stroke="#34ccda" stroke-width="0.75"/>
<polygon points="418.83,86.08 413.65,83.14 413.65,89.02" fill="none" stroke="#34ccda" stroke-width="0.75"/>
<polygon points="426.38,85.91 421.20,82.97 421.20,88.85" fill="none" stroke="#34ccda" stroke-width="0.75"/>
<polygon points="433.93,85.38 428.75,82.44 428.75,88.32" fill="none" stroke="#34ccda" stroke-width="0.75"/>
<polygon points="441.49,84.86 436.31,81.92 436.31,87.80" fill="none" stroke="#34ccda" stroke-width="0.75"/>
<polygon points="449.04,84.33 443.86,81.39 443.86,87.27" fill="none" stroke="#34ccda" stroke-width="0.75"/>
<polygon points="456.59,83.81 451.41,80.87 451.41,86.75" fill="none" stroke="#34ccda" stroke-width="0.75"/>
<polygon points="464.15,83.28 458.97,80.34 458.97,86.22" fill="none" stroke="#34ccda" stroke-width="0.75"/>
<polygon points="471.70,82.69 466.52,79.75 466.52,85.63" fill="none" stroke="#34ccda" stroke-width="0.75"/>
<polygon points="479.25,81.40 474.07,78.46 474.07,84.34" fill="none" stroke="#34ccda" stroke-width="0.75"/>
<polygon points="486.81,81.51 481.63,78.57 481.63,84.45" fill="none" stroke="#34ccda" stroke-width="0.75"/>
<polygon points="494.36,85.25 489.18,82.31 489.18,88.19" fill="none" stroke="#34ccda" stroke-width="0.75"/>
<polygon points="501.91,91.85 496.73,88.91 496.73,94.79" fill="none" stroke="#34ccda" stroke-width="0.75"/>
<polygon points="509.47,100.58 504.29,97.64 504.29,103.52" fill="none" stroke="#34ccda" stroke-width="0.75"/>
<polygon points="517.02,111.91 511.84,108.97 511.84,114.85" fill="none" stroke="#34ccda" stroke-width="0.75"/>
<polygon points="524.57,126.06 519.39,123.12 519.39,129.00" fill="none" stroke="#34ccda" stroke-width="0.75"/>
<polygon points="532.13,140.00 526.95,137.06 526.95,142.94" fill="none" stroke="#34ccda" stroke-width="0.75"/>
<polygon points="539.68,140.00 534.50,137.06 534.50,142.94" fill="none" stroke="#34ccda" stroke-width="0.75"/>
<polygon points="317.55,68.38 320.54,71.37 317.55,74.36 314.56,71.37" fill="none" stroke="#ca99ee" stroke-width="0.75"/>
<polygon points="321.33,68.31 324.32,71.30 321.33,74.29 318.34,71.30" fill="none" stroke="#ca99ee" stroke-width="0.75"/>
<polygon points="325.11,68.25 328.10,71.24 325.11,74.23 322.12,71.24" fill="none" stroke="#ca99ee" stroke-width="0.75"/>
<polygon points="328.88,68.19 331.87,71.18 328.88,74.17 325.89,71.18" fill="none" stroke="#ca99ee" stroke-width="0.75"/>
<polygon points="332.66,68.13 335.65,71.12 332.66,74.11 329.67,71.12" fill="none" stroke="#ca99ee" stroke-width="0.75"/>
<polygon points="336.44,68.06 339.43,71.05 336.44,74.04 333.45,71.05" fill="none" stroke="#ca99ee" stroke-width="0.75"/>
<polygon points="340.21,68.00 343.20,70.99 340.21,73.98 337.22,70.99" fill="none" stroke="#ca99ee" stroke-width="0.75"/>
<polygon points="343.99,67.94 346.98,70.93 343.99,73.92 341.00,70.93" fill="none" stroke="#ca99ee" stroke-width="0.75"/>
<polygon points="347.77,67.87 350.76,70.86 347.77,73.85 344.78,70.86" fill="none" stroke="#ca99ee" stroke-width="0.75"/>
<polygon points="351.54,67.81 354.53,70.80 351.54,73.79 348.55,70.80" fill="none" stroke="#ca99ee" stroke-width="0.75"/>
<polygon points="355.32,67.75 358.31,70.74 355.32,73.73 352.33,70.74" fill="none" stroke="#ca99ee" stroke-width="0.75"/>
<polygon points="359.10,67.69 362.09,70.68 359.10,73.67 356.11,70.68" fill="none" stroke="#ca99ee" stroke-width="0.75"/>
<polygon points="362.87,67.62 365.86,70.61 362.87,73.60 359.88,70.61" fill="none" stroke="#ca99ee" stroke-width="0.75"/>
<polygon points="366.65,67.56 369.64,70.55 366.65,73.54 363.66,70.55" fill="none" stroke="#ca99ee" stroke-width="0.75"/>
<polygon points="370.43,67.50 373.42,70.49 370.43,73.48 367.44,70.49" fill="none" stroke="#ca99ee" stroke-width="0.75"/>
<polygon points="374.20,67.44 377.19,70.43 374.20,73.42 371.21,70.43" fill="none" stroke="#ca99ee" stroke-width="0.75"/>
<polygon points="377.98,67.37 380.97,70.36 377.98,73.35 374.99,70.36" fill="none" stroke="#ca99ee" stroke-width="0.75"/>
<polygon points="381.76,67.31 384.75,70.30 381.76,73.29 378.77,70.30" fill="none" stroke="#ca99ee" stroke-width="0.75"/>
<polygon points="385.53,67.25 388.52,70.24 385.53,73.23 382.54,70.24" fill="none" stroke="#ca99ee" stroke-width="0.75"/>
<polygon points="389.31,67.18 392.30,70.17 389.31,73.16 386.32,70.17" fill="none" stroke="#ca99ee" stroke-width="0.75"/>
<polygon points="393.09,67.12 396.08,70.11 393.09,73.10 390.10,70.11" fill="none" stroke="#ca99ee" stroke-width="0.75"/>
<polygon points="396.86,67.06 399.85,70.05 396.86,73.04 393.87,70.05" fill="none" stroke="#ca99ee" stroke-width="0.75"/>
<polygon points="400.64,67.00 403.63,69.99 400.64,72.98 397.65,69.99" fill="none" stroke="#ca99ee" stroke-width="0.75"/>
<polygon points="404.42,66.93 407.41,69.92 404.42,72.91 401.43,69.92" fill="none" stroke="#ca99ee" stroke-width="0.75"/>
<polygon points="408.19,66.87 411.18,69.86 408.19,72.85 405.20,69.86" fill="none" stroke="#ca99ee" stroke-width="0.75"/>
<polygon points="411.97,66.81 414.96,69.80 411.97,72.79 408.98,69.80" fill="none" stroke="#ca99ee" stroke-width="0.75"/>
<polygon points="415.75,66.75 418.74,69.74 415.75,72.73 412.76,69.74" fill="none" stroke="#ca99ee" stroke-width="0.75"/>
<polygon points="419.52,66.68 422.51,69.67 419.52,72.66 416.53,69.67" fill="none" stroke="#ca99ee" stroke-width="0.75"/>
<polygon points="423.30,66.62 426.29,69.61 423.30,72.60 420.31,69.61" fill="none" stroke="#ca99ee" stroke-width="0.75"/>
<polygon points="427.08,66.56 430.07,69.55 427.08,72.54 424.09,69.55" fill="none" stroke="#ca99ee" stroke-width="0.75"/>
<polygon points="430.85,66.49 433.84,69.48 430.85,72.47 427.86,69.48" fill="none" stroke="#ca99ee" stroke-width="0.75"/>
<polygon points="434.63,66.43 437.62,69.42 434.63,72.41 431.64,69.42" fill="none" stroke="#ca99ee" stroke-width="0.75"/>
<polygon points="438.41,66.37 441.40,69.36 438.41,72.35 435.42,69.36" fill="none" stroke="#ca99ee" stroke-width="0.75"/>
<polygon points="442.18,66.31 445.17,69.30 442.18,72.29 439.19,69.30" fill="none" stroke="#ca99ee" stroke-width="0.75"/>
<polygon points="445.96,66.24 448.95,69.23 445.96,72.22 442.97,69.23" fill="none" stroke="#ca99ee" stroke-width="0.75"/>
<polygon points="449.74,66.18 452.73,69.17 449.74,72.16 446.75,69.17" fill="none" stroke="#ca99ee" stroke-width="0.75"/>
<polygon points="453.51,66.12 456.50,69.11 453.51,72.10 450.52,69.11" fill="none" stroke="#ca99ee" stroke-width="0.75"/>
<polygon points="457.29,66.06 460.28,69.05 457.29,72.04 454.30,69.05" fill="none" stroke="#ca99ee" stroke-width="0.75"/>
<polygon points="461.07,66.14 464.06,69.13 461.07,72.12 458.08,69.13" fill="none" stroke="#ca99ee" stroke-width="0.75"/>
<polygon points="464.84,66.59 467.83,69.58 464.84,72.57 461.85,69.58" fill="none" stroke="#ca99ee" stroke-width="0.75"/>
<polygon points="468.62,67.04 471.61,70.03 468.62,73.02 465.63,70.03" fill="none" stroke="#ca99ee" stroke-width="0.75"/>
<polygon points="472.40,67.50 475.39,70.49 472.40,73.48 469.41,70.49" fill="none" stroke="#ca99ee" stroke-width="0.75"/>
<polygon points="476.17,67.95 479.16,70.94 476.17,73.93 473.18,70.94" fill="none" stroke="#ca99ee" stroke-width="0.75"/>
<polygon points="479.95,68.40 482.94,71.39 479.95,74.38 476.96,71.39" fill="none" stroke="#ca99ee" stroke-width="0.75"/>
<polygon points="483.73,68.86 486.72,71.85 483.73,74.84 480.74,71.85" fill="none" stroke="#ca99ee" stroke-width="0.75"/>
<polygon points="487.50,70.44 490.49,73.43 487.50,76.42 484.51,73.43" fill="none" stroke="#ca99ee" stroke-width="0.75"/>
<polygon points="491.28,72.60 494.27,75.59 491.28,78.58 488.29,75.59" fill="none" stroke="#ca99ee" stroke-width="0.75"/>
<polygon points="495.06,75.24 498.05,78.23 495.06,81.22 492.07,78.23" fill="none" stroke="#ca99ee" stroke-width="0.75"/>
<polygon points="498.83,78.00 501.82,80.99 498.83,83.98 495.84,80.99" fill="none" stroke="#ca99ee" stroke-width="0.75"/>
<polygon points="502.61,81.11 505.60,84.10 502.61,87.09 499.62,84.10" fill="none" stroke="#ca99ee" stroke-width="0.75"/>
<polygon points="506.39,84.65 509.38,87.64 506.39,90.63 503.40,87.64" fill="none" stroke="#ca99ee" stroke-width="0.75"/>
<polygon points="510.16,87.76 513.15,90.75 510.16,93.74 507.17,90.75" fill="none" stroke="#ca99ee" stroke-width="0.75"/>
<polygon points="513.94,90.35 516.93,93.34 513.94,96.33 510.95,93.34" fill="none" stroke="#ca99ee" stroke-width="0.75"/>
<polygon points="517.72,94.25 520.71,97.24 517.72,100.23 514.73,97.24" fill="none" stroke="#ca99ee" stroke-width="0.75"/>
<polygon points="521.49,98.75 524.48,101.74 521.49,104.73 518.50,101.74" fill="none" stroke="#ca99ee" stroke-width="0.75"/>
<polygon points="525.27,104.25 528.26,107.24 525.27,110.23 522.28,107.24" fill="none" stroke="#ca99ee" stroke-width="0.75"/>
<polygon points="529.05,110.04 532.04,113.03 529.05,116.02 526.06,113.03" fill="none" stroke="#ca99ee" stroke-width="0.75"/>
<polygon points="532.82,115.54 535.81,118.53 532.82,121.52 529.83,118.53" fill="none" stroke="#ca99ee" stroke-width="0.75"/>
<polygon points="536.60,119.41 539.59,122.40 536.60,125.39 533.61,122.40" fill="none" stroke="#ca99ee" stroke-width="0.75"/>
<rect x="315.45" y="18.41" width="4.20" height="4.20" fill="#3a3a3a"/>
<rect x="323.01" y="18.41" width="4.20" height="4.20" fill="#3a3a3a"/>
<rect x="330.56" y="18.42" width="4.20" height="4.20" fill="#3a3a3a"/>
<rect x="338.11" y="18.42" width="4.20" height="4.20" fill="#3a3a3a"/>
<rect x="345.67" y="18.43" width="4.20" height="4.20" fill="#3a3a3a"/>
<rect x="353.22" y="18.43" width="4.20" height="4.20" fill="#3a3a3a"/>
<rect x="360.77" y="18.44" width="4.20" height="4.20" fill="#3a3a3a"/>
<rect x="368.33" y="18.44" width="4.20" height="4.20" fill="#3a3a3a"/>
<rect x="375.88" y="18.45" width="4.20" height="4.20" fill="#3a3a3a"/>
<rect x="383.43" y="18.46" width="4.20" height="4.20" fill="#3a3a3a"/>
<rect x="390.99" y="18.46" width="4.20" height="4.20" fill="#3a3a3a"/>
<rect x="398.54" y="18.47" width="4.20" height="4.20" fill="#3a3a3a"/>
<rect x="406.09" y="18.47" width="4.20" height="4.20" fill="#3a3a3a"/>
<rect x="413.65" y="18.48" width="4.20" height="4.20" fill="#3a3a3a"/>
<rect x="421.20" y="18.48" width="4.20" height="4.20" fill="#3a3a3a"/>
<rect x="428.75" y="18.49" width="4.20" height="4.20" fill="#3a3a3a"/>
<rect x="436.31" y="18.50" width="4.20" height="4.20" fill="#3a3a3a"/>
<rect x="443.86" y="18.53" width="4.20" height="4.20" fill="#3a3a3a"/>
<rect x="451.41" y="18.78" width="4.20" height="4.20" fill="#3a3a3a"/>
<rect x="458.97" y="19.07" width="4.20" height="4.20" fill="#3a3a3a"/>
<rect x="466.52" y="19.65" width="4.20" height="4.20" fill="#3a3a3a"/>
<rect x="474.07" y="20.43" width="4.20" height="4.20" fill="#3a3a3a"/>
<rect x="481.63" y="22.12" width="4.20" height="4.20" fill="#3a3a3a"/>
<rect x="489.18" y="23.95" width="4.20" height="4.20" fill="#3a3a3a"/>
<rect x="496.73" y="27.42" width="4.20" height="4.20" fill="#3a3a3a"/>
<rect x="504.29" y="32.57" width="4.20" height="4.20" fill="#3a3a3a"/>
<rect x="511.84" y="43.97" width="4.20" height="4.20" fill="#3a3a3a"/>
<rect x="519.39" y="60.46" width="4.20" height="4.20" fill="#3a3a3a"/>
<rect x="526.95" y="80.18" width="4.20" height="4.20" fill="#3a3a3a"/>
<rect x="534.50" y="107.90" width="4.20" height="4.20" fill="#3a3a3a"/>
<circle cx="317.55" cy="27.52" r="2.50" fill="#f52828"/>
<circle cx="325.11" cy="27.54" r="2.50" fill="#f52828"/>
<circle cx="332.66" cy="27.56" r="2.50" fill="#f52828"/>
<circle cx="340.21" cy="27.58" r="2.50" fill="#f52828"/>
<circle cx="347.77" cy="27.60" r="2.50" fill="#f52828"/>
<circle cx="355.32" cy="27.61" r="2.50" fill="#f52828"/>
<circle cx="362.87" cy="27.63" r="2.50" fill="#f52828"/>
<circle cx="370.43" cy="27.65" r="2.50" fill="#f52828"/>
<circle cx="377.98" cy="27.67" r="2.50" fill="#f52828"/>
<circle cx="385.53" cy="27.69" r="2.50" fill="#f52828"/>
<circle cx="393.09" cy="27.71" r="2.50" fill="#f52828"/>
<circle cx="400.64" cy="27.73" r="2.50" fill="#f52828"/>
<circle cx="408.19" cy="27.75" r="2.50" fill="#f52828"/>
<circle cx="415.75" cy="27.76" r="2.50" fill="#f52828"/>
<circle cx="423.30" cy="27.78" r="2.50" fill="#f52828"/>
<circle cx="430.85" cy="28.10" r="2.50" fill="#f52828"/>
<circle cx="438.41" cy="30.71" r="2.50" fill="#f52828"/>
<circle cx="445.96" cy="33.70" r="2.50" fill="#f52828"/>
<circle cx="453.51" cy="39.24" r="2.50" fill="#f52828"/>
<circle cx="461.07" cy="45.33" r="2.50" fill="#f52828"/>
<circle cx="468.62" cy="54.88" r="2.50" fill="#f52828"/>
<circle cx="476.17" cy="67.85" r="2.50" fill="#f52828"/>
<circle cx="483.73" cy="83.24" r="2.50" fill="#f52828"/>
<circle cx="491.28" cy="101.90" r="2.50" fill="#f52828"/>
<circle cx="498.83" cy="120.21" r="2.50" fill="#f52828"/>
<circle cx="506.39" cy="142.86" r="2.50" fill="#f52828"/>
<circle cx="513.94" cy="176.75" r="2.50" fill="#f52828"/>
<polygon points="317.55,23.42 320.49,28.60 314.61,28.60" fill="#1a6fdf"/>
<polygon points="325.11,23.42 328.05,28.60 322.17,28.60" fill="#1a6fdf"/>
<polygon points="332.66,23.42 335.60,28.60 329.72,28.60" fill="#1a6fdf"/>
<polygon points="340.21,23.42 343.15,28.60 337.27,28.60" fill="#1a6fdf"/>
<polygon points="347.77,23.42 350.71,28.60 344.83,28.60" fill="#1a6fdf"/>
<polygon points="355.32,23.42 358.26,28.60 352.38,28.60" fill="#1a6fdf"/>
<polygon points="362.87,23.42 365.81,28.60 359.93,28.60" fill="#1a6fdf"/>
<polygon points="370.43,23.42 373.37,28.60 367.49,28.60" fill="#1a6fdf"/>
<polygon points="377.98,23.42 380.92,28.60 375.04,28.60" fill="#1a6fdf"/>
<polygon points="385.53,23.42 388.47,28.60 382.59,28.60" fill="#1a6fdf"/>
<polygon points="393.09,23.42 396.03,28.60 390.15,28.60" fill="#1a6fdf"/>
<polygon points="400.64,23.42 403.58,28.60 397.70,28.60" fill="#1a6fdf"/>
<polygon points="408.19,23.42 411.13,28.60 405.25,28.60" fill="#1a6fdf"/>
<polygon points="415.75,23.42 418.69,28.60 412.81,28.60" fill="#1a6fdf"/>
<polygon points="423.30,23.42 426.24,28.60 420.36,28.60" fill="#1a6fdf"/>
<polygon points="430.85,23.46 433.79,28.64 427.91,28.64" fill="#1a6fdf"/>
<polygon points="438.41,23.80 441.35,28.98 435.47,28.98" fill="#1a6fdf"/>
<polygon points="445.96,24.18 448.90,29.36 443.02,29.36" fill="#1a6fdf"/>
<polygon points="453.51,25.41 456.45,30.59 450.57,30.59" fill="#1a6fdf"/>
<polygon points="461.07,27.04 464.01,32.22 458.13,32.22" fill="#1a6fdf"/>
<polygon points="468.62,29.17 471.56,34.35 465.68,34.35" fill="#1a6fdf"/>
<polygon points="476.17,32.92 479.11,38.10 473.23,38.10" fill="#1a6fdf"/>
<polygon points="483.73,38.44 486.67,43.62 480.79,43.62" fill="#1a6fdf"/>
<polygon points="491.28,47.68 494.22,52.86 488.34,52.86" fill="#1a6fdf"/>
<polygon points="498.83,65.68 501.77,70.86 495.89,70.86" fill="#1a6fdf"/>
<polygon points="506.39,85.21 509.33,90.39 503.45,90.39" fill="#1a6fdf"/>
<polygon points="513.94,101.80 516.88,106.98 511.00,106.98" fill="#1a6fdf"/>
<polygon points="521.49,127.00 524.43,132.18 518.55,132.18" fill="#1a6fdf"/>
<polygon points="529.05,148.52 531.99,153.70 526.11,153.70" fill="#1a6fdf"/>
<polygon points="317.55,32.25 320.49,27.07 314.61,27.07" fill="#0f9d58"/>
<polygon points="325.11,32.23 328.05,27.05 322.17,27.05" fill="#0f9d58"/>
<polygon points="332.66,32.20 335.60,27.02 329.72,27.02" fill="#0f9d58"/>
<polygon points="340.21,32.18 343.15,27.00 337.27,27.00" fill="#0f9d58"/>
<polygon points="347.77,32.15 350.71,26.97 344.83,26.97" fill="#0f9d58"/>
<polygon points="355.32,32.13 358.26,26.95 352.38,26.95" fill="#0f9d58"/>
<polygon points="362.87,32.10 365.81,26.92 359.93,26.92" fill="#0f9d58"/>
<polygon points="370.43,32.08 373.37,26.90 367.49,26.90" fill="#0f9d58"/>
<polygon points="377.98,32.05 380.92,26.87 375.04,26.87" fill="#0f9d58"/>
<polygon points="385.53,32.03 388.47,26.85 382.59,26.85" fill="#0f9d58"/>
<polygon points="393.09,32.00 396.03,26.82 390.15,26.82" fill="#0f9d58"/>
<polygon points="400.64,31.98 403.58,26.80 397.70,26.80" fill="#0f9d58"/>
<polygon points="408.19,31.95 411.13,26.77 405.25,26.77" fill="#0f9d58"/>
<polygon points="415.75,31.93 418.69,26.75 412.81,26.75" fill="#0f9d58"/>
<polygon points="423.30,31.90 426.24,26.72 420.36,26.72" fill="#0f9d58"/>
<polygon points="430.85,32.27 433.79,27.09 427.91,27.09" fill="#0f9d58"/>
<polygon points="438.41,35.69 441.35,30.51 435.47,30.51" fill="#0f9d58"/>
<polygon points="445.96,39.14 448.90,33.96 443.02,33.96" fill="#0f9d58"/>
<polygon points="453.51,42.82 456.45,37.64 450.57,37.64" fill="#0f9d58"/>
<polygon points="461.07,47.40 464.01,42.22 458.13,42.22" fill="#0f9d58"/>
<polygon points="468.62,54.25 471.56,49.07 465.68,49.07" fill="#0f9d58"/>
<polygon points="476.17,62.55 479.11,57.37 473.23,57.37" fill="#0f9d58"/>
<polygon points="483.73,75.43 486.67,70.25 480.79,70.25" fill="#0f9d58"/>
<polygon points="491.28,90.45 494.22,85.27 488.34,85.27" fill="#0f9d58"/>
<polygon points="498.83,108.20 501.77,103.02 495.89,103.02" fill="#0f9d58"/>
<polygon points="506.39,126.05 509.33,120.87 503.45,120.87" fill="#0f9d58"/>
<polygon points="513.94,148.74 516.88,143.56 511.00,143.56" fill="#0f9d58"/>
<polygon points="521.49,183.83 524.43,178.65 518.55,178.65" fill="#0f9d58"/>
<polygon points="310.00,22.10 313.11,25.20 310.00,28.31 306.89,25.20" fill="#b46ee8"/>
<polygon points="313.78,22.10 316.88,25.21 313.78,28.31 310.67,25.21" fill="#b46ee8"/>
<polygon points="317.55,22.11 320.66,25.21 317.55,28.32 314.45,25.21" fill="#b46ee8"/>
<polygon points="321.33,22.12 324.44,25.22 321.33,28.33 318.22,25.22" fill="#b46ee8"/>
<polygon points="325.11,22.12 328.21,25.23 325.11,28.33 322.00,25.23" fill="#b46ee8"/>
<polygon points="328.88,22.13 331.99,25.23 328.88,28.34 325.78,25.23" fill="#b46ee8"/>
<polygon points="332.66,22.14 335.77,25.24 332.66,28.35 329.56,25.24" fill="#b46ee8"/>
<polygon points="336.44,22.14 339.54,25.25 336.44,28.35 333.33,25.25" fill="#b46ee8"/>
<polygon points="340.21,22.15 343.32,25.25 340.21,28.36 337.11,25.25" fill="#b46ee8"/>
<polygon points="343.99,22.15 347.09,25.26 343.99,28.36 340.88,25.26" fill="#b46ee8"/>
<polygon points="347.77,22.16 350.87,25.27 347.77,28.37 344.66,25.27" fill="#b46ee8"/>
<polygon points="351.54,22.17 354.65,25.27 351.54,28.38 348.44,25.27" fill="#b46ee8"/>
<polygon points="355.32,22.17 358.43,25.28 355.32,28.38 352.21,25.28" fill="#b46ee8"/>
<polygon points="359.10,22.18 362.20,25.29 359.10,28.39 355.99,25.29" fill="#b46ee8"/>
<polygon points="362.87,22.19 365.98,25.29 362.87,28.40 359.77,25.29" fill="#b46ee8"/>
<polygon points="366.65,22.19 369.75,25.30 366.65,28.40 363.54,25.30" fill="#b46ee8"/>
<polygon points="370.43,22.20 373.53,25.31 370.43,28.41 367.32,25.31" fill="#b46ee8"/>
<polygon points="374.20,22.21 377.31,25.31 374.20,28.42 371.10,25.31" fill="#b46ee8"/>
<polygon points="377.98,22.21 381.09,25.32 377.98,28.42 374.88,25.32" fill="#b46ee8"/>
<polygon points="381.76,22.22 384.86,25.33 381.76,28.43 378.65,25.33" fill="#b46ee8"/>
<polygon points="385.53,22.23 388.64,25.33 385.53,28.44 382.43,25.33" fill="#b46ee8"/>
<polygon points="389.31,22.23 392.42,25.34 389.31,28.44 386.20,25.34" fill="#b46ee8"/>
<polygon points="393.09,22.24 396.19,25.34 393.09,28.45 389.98,25.34" fill="#b46ee8"/>
<polygon points="396.86,22.25 399.97,25.35 396.86,28.46 393.76,25.35" fill="#b46ee8"/>
<polygon points="400.64,22.25 403.75,25.36 400.64,28.46 397.53,25.36" fill="#b46ee8"/>
<polygon points="404.42,22.26 407.52,25.36 404.42,28.47 401.31,25.36" fill="#b46ee8"/>
<polygon points="408.19,22.27 411.30,25.37 408.19,28.48 405.09,25.37" fill="#b46ee8"/>
<polygon points="411.97,22.27 415.07,25.38 411.97,28.48 408.86,25.38" fill="#b46ee8"/>
<polygon points="415.75,22.28 418.85,25.38 415.75,28.49 412.64,25.38" fill="#b46ee8"/>
<polygon points="419.52,22.29 422.63,25.39 419.52,28.50 416.42,25.39" fill="#b46ee8"/>
<polygon points="423.30,22.29 426.41,25.40 423.30,28.50 420.19,25.40" fill="#b46ee8"/>
<polygon points="427.08,22.67 430.18,25.77 427.08,28.88 423.97,25.77" fill="#b46ee8"/>
<polygon points="430.85,23.35 433.96,26.45 430.85,29.56 427.75,26.45" fill="#b46ee8"/>
<polygon points="434.63,24.02 437.74,27.13 434.63,30.23 431.52,27.13" fill="#b46ee8"/>
<polygon points="438.41,24.70 441.51,27.81 438.41,30.91 435.30,27.81" fill="#b46ee8"/>
<polygon points="442.18,25.47 445.29,28.57 442.18,31.68 439.08,28.57" fill="#b46ee8"/>
<polygon points="445.96,26.82 449.07,29.92 445.96,33.03 442.86,29.92" fill="#b46ee8"/>
<polygon points="449.74,28.11 452.84,31.21 449.74,34.32 446.63,31.21" fill="#b46ee8"/>
<polygon points="453.51,29.89 456.62,33.00 453.51,36.10 450.41,33.00" fill="#b46ee8"/>
<polygon points="457.29,31.73 460.39,34.83 457.29,37.94 454.18,34.83" fill="#b46ee8"/>
<polygon points="461.07,33.93 464.17,37.04 461.07,40.14 457.96,37.04" fill="#b46ee8"/>
<polygon points="464.84,36.64 467.95,39.75 464.84,42.85 461.74,39.75" fill="#b46ee8"/>
<polygon points="468.62,39.42 471.73,42.52 468.62,45.63 465.51,42.52" fill="#b46ee8"/>
<polygon points="472.40,43.18 475.50,46.28 472.40,49.39 469.29,46.28" fill="#b46ee8"/>
<polygon points="476.17,46.37 479.28,49.48 476.17,52.58 473.07,49.48" fill="#b46ee8"/>
<polygon points="479.95,50.98 483.06,54.09 479.95,57.19 476.84,54.09" fill="#b46ee8"/>
<polygon points="483.73,57.29 486.83,60.40 483.73,63.50 480.62,60.40" fill="#b46ee8"/>
<polygon points="487.50,61.91 490.61,65.02 487.50,68.12 484.40,65.02" fill="#b46ee8"/>
<polygon points="491.28,69.07 494.39,72.17 491.28,75.28 488.18,72.17" fill="#b46ee8"/>
<polygon points="495.06,76.35 498.16,79.46 495.06,82.56 491.95,79.46" fill="#b46ee8"/>
<polygon points="498.83,86.22 501.94,89.33 498.83,92.43 495.73,89.33" fill="#b46ee8"/>
<polygon points="502.61,96.14 505.72,99.24 502.61,102.35 499.50,99.24" fill="#b46ee8"/>
<polygon points="506.39,106.10 509.49,109.20 506.39,112.31 503.28,109.20" fill="#b46ee8"/>
<polygon points="510.16,116.10 513.27,119.20 510.16,122.31 507.06,119.20" fill="#b46ee8"/>
<polygon points="513.94,128.39 517.04,131.49 513.94,134.60 510.83,131.49" fill="#b46ee8"/>
<polygon points="517.72,141.91 520.82,145.02 517.72,148.12 514.61,145.02" fill="#b46ee8"/>
<polygon points="521.49,161.86 524.60,164.97 521.49,168.07 518.39,164.97" fill="#b46ee8"/>
<polygon points="525.27,182.10 528.38,185.21 525.27,188.31 522.17,185.21" fill="#b46ee8"/>
<polygon points="306.92,28.09 312.10,25.15 312.10,31.03" fill="#dc8e0c"/>
<polygon points="314.47,26.60 319.65,23.66 319.65,29.54" fill="#dc8e0c"/>
<polygon points="322.03,26.61 327.21,23.67 327.21,29.55" fill="#dc8e0c"/>
<polygon points="329.58,26.63 334.76,23.69 334.76,29.57" fill="#dc8e0c"/>
<polygon points="337.13,26.64 342.31,23.70 342.31,29.58" fill="#dc8e0c"/>
<polygon points="344.69,26.65 349.87,23.71 349.87,29.59" fill="#dc8e0c"/>
<polygon points="352.24,26.67 357.42,23.73 357.42,29.61" fill="#dc8e0c"/>
<polygon points="359.79,26.68 364.97,23.74 364.97,29.62" fill="#dc8e0c"/>
<polygon points="367.35,26.69 372.53,23.75 372.53,29.63" fill="#dc8e0c"/>
<polygon points="374.90,26.71 380.08,23.77 380.08,29.65" fill="#dc8e0c"/>
<polygon points="382.45,26.72 387.63,23.78 387.63,29.66" fill="#dc8e0c"/>
<polygon points="390.01,26.73 395.19,23.79 395.19,29.67" fill="#dc8e0c"/>
<polygon points="397.56,26.75 402.74,23.81 402.74,29.69" fill="#dc8e0c"/>
<polygon points="405.11,26.76 410.29,23.82 410.29,29.70" fill="#dc8e0c"/>
<polygon points="412.67,26.77 417.85,23.83 417.85,29.71" fill="#dc8e0c"/>
<polygon points="420.22,26.79 425.40,23.85 425.40,29.73" fill="#dc8e0c"/>
<polygon points="427.77,27.14 432.95,24.20 432.95,30.08" fill="#dc8e0c"/>
<polygon points="435.33,30.16 440.51,27.22 440.51,33.10" fill="#dc8e0c"/>
<polygon points="442.88,33.26 448.06,30.32 448.06,36.20" fill="#dc8e0c"/>
<polygon points="450.43,37.01 455.61,34.07 455.61,39.95" fill="#dc8e0c"/>
<polygon points="457.99,42.72 463.17,39.78 463.17,45.66" fill="#dc8e0c"/>
<polygon points="465.54,49.57 470.72,46.63 470.72,52.51" fill="#dc8e0c"/>
<polygon points="473.09,57.87 478.27,54.93 478.27,60.81" fill="#dc8e0c"/>
<polygon points="480.65,70.66 485.83,67.72 485.83,73.60" fill="#dc8e0c"/>
<polygon points="488.20,83.52 493.38,80.58 493.38,86.46" fill="#dc8e0c"/>
<polygon points="495.75,94.85 500.93,91.91 500.93,97.79" fill="#dc8e0c"/>
<polygon points="503.31,103.78 508.49,100.84 508.49,106.72" fill="#dc8e0c"/>
<polygon points="510.86,110.91 516.04,107.97 516.04,113.85" fill="#dc8e0c"/>
<polygon points="518.41,122.24 523.59,119.30 523.59,125.18" fill="#dc8e0c"/>
<polygon points="525.97,151.03 531.15,148.09 531.15,153.97" fill="#dc8e0c"/>
<polygon points="313.08,43.20 307.90,40.26 307.90,46.14" fill="#19c6d6"/>
<polygon points="320.63,43.20 315.45,40.26 315.45,46.14" fill="#19c6d6"/>
<polygon points="328.19,43.20 323.01,40.26 323.01,46.14" fill="#19c6d6"/>
<polygon points="335.74,43.20 330.56,40.26 330.56,46.14" fill="#19c6d6"/>
<polygon points="343.29,43.20 338.11,40.26 338.11,46.14" fill="#19c6d6"/>
<polygon points="350.85,43.20 345.67,40.26 345.67,46.14" fill="#19c6d6"/>
<polygon points="358.40,43.20 353.22,40.26 353.22,46.14" fill="#19c6d6"/>
<polygon points="365.95,43.20 360.77,40.26 360.77,46.14" fill="#19c6d6"/>
<polygon points="373.51,43.20 368.33,40.26 368.33,46.14" fill="#19c6d6"/>
<polygon points="381.06,43.20 375.88,40.26 375.88,46.14" fill="#19c6d6"/>
<polygon points="388.61,43.20 383.43,40.26 383.43,46.14" fill="#19c6d6"/>
<polygon points="396.17,43.20 390.99,40.26 390.99,46.14" fill="#19c6d6"/>
<polygon points="403.72,43.20 398.54,40.26 398.54,46.14" fill="#19c6d6"/>
<polygon points="411.27,43.20 406.09,40.26 406.09,46.14" fill="#19c6d6"/>
<polygon points="418.83,43.20 413.65,40.26 413.65,46.14" fill="#19c6d6"/>
<polygon points="426.38,43.20 421.20,40.26 421.20,46.14" fill="#19c6d6"/>
<polygon points="433.93,43.20 428.75,40.26 428.75,46.14" fill="#19c6d6"/>
<polygon points="441.49,43.20 436.31,40.26 436.31,46.14" fill="#19c6d6"/>
<polygon points="449.04,44.96 443.86,42.02 443.86,47.90" fill="#19c6d6"/>
<polygon points="456.59,46.14 451.41,43.20 451.41,49.08" fill="#19c6d6"/>
<polygon points="464.15,47.77 458.97,44.83 458.97,50.71" fill="#19c6d6"/>
<polygon points="471.70,49.48 466.52,46.54 466.52,52.42" fill="#19c6d6"/>
<polygon points="479.25,52.29 474.07,49.35 474.07,55.23" fill="#19c6d6"/>
<polygon points="486.81,58.57 481.63,55.63 481.63,61.51" fill="#19c6d6"/>
<polygon points="494.36,70.63 489.18,67.69 489.18,73.57" fill="#19c6d6"/>
<polygon points="501.91,103.78 496.73,100.84 496.73,106.72" fill="#19c6d6"/>
<polygon points="509.47,135.94 504.29,133.00 504.29,138.88" fill="#19c6d6"/>
<polygon points="517.02,170.33 511.84,167.39 511.84,173.27" fill="#19c6d6"/>
</g>
<rect x="309.9" y="11.5" width="225.80" height="182.00" fill="none" stroke="#2a2a2a" stroke-width="1.3"/>
<line x1="309.50" y1="193.80" x2="309.50" y2="196.80" stroke="#262626" stroke-width="1"/>
<line x1="332.18" y1="193.80" x2="332.18" y2="195.40" stroke="#262626" stroke-width="0.8"/>
<line x1="345.44" y1="193.80" x2="345.44" y2="195.40" stroke="#262626" stroke-width="0.8"/>
<line x1="354.86" y1="193.80" x2="354.86" y2="195.40" stroke="#262626" stroke-width="0.8"/>
<line x1="362.16" y1="193.80" x2="362.16" y2="195.40" stroke="#262626" stroke-width="0.8"/>
<line x1="368.12" y1="193.80" x2="368.12" y2="195.40" stroke="#262626" stroke-width="0.8"/>
<line x1="373.16" y1="193.80" x2="373.16" y2="195.40" stroke="#262626" stroke-width="0.8"/>
<line x1="377.53" y1="193.80" x2="377.53" y2="195.40" stroke="#262626" stroke-width="0.8"/>
<line x1="381.39" y1="193.80" x2="381.39" y2="195.40" stroke="#262626" stroke-width="0.8"/>
<line x1="384.83" y1="193.80" x2="384.83" y2="196.80" stroke="#262626" stroke-width="1"/>
<line x1="407.51" y1="193.80" x2="407.51" y2="195.40" stroke="#262626" stroke-width="0.8"/>
<line x1="420.78" y1="193.80" x2="420.78" y2="195.40" stroke="#262626" stroke-width="0.8"/>
<line x1="430.19" y1="193.80" x2="430.19" y2="195.40" stroke="#262626" stroke-width="0.8"/>
<line x1="437.49" y1="193.80" x2="437.49" y2="195.40" stroke="#262626" stroke-width="0.8"/>
<line x1="443.45" y1="193.80" x2="443.45" y2="195.40" stroke="#262626" stroke-width="0.8"/>
<line x1="448.50" y1="193.80" x2="448.50" y2="195.40" stroke="#262626" stroke-width="0.8"/>
<line x1="452.87" y1="193.80" x2="452.87" y2="195.40" stroke="#262626" stroke-width="0.8"/>
<line x1="456.72" y1="193.80" x2="456.72" y2="195.40" stroke="#262626" stroke-width="0.8"/>
<line x1="460.17" y1="193.80" x2="460.17" y2="196.80" stroke="#262626" stroke-width="1"/>
<line x1="482.84" y1="193.80" x2="482.84" y2="195.40" stroke="#262626" stroke-width="0.8"/>
<line x1="496.11" y1="193.80" x2="496.11" y2="195.40" stroke="#262626" stroke-width="0.8"/>
<line x1="505.52" y1="193.80" x2="505.52" y2="195.40" stroke="#262626" stroke-width="0.8"/>
<line x1="512.82" y1="193.80" x2="512.82" y2="195.40" stroke="#262626" stroke-width="0.8"/>
<line x1="518.79" y1="193.80" x2="518.79" y2="195.40" stroke="#262626" stroke-width="0.8"/>
<line x1="523.83" y1="193.80" x2="523.83" y2="195.40" stroke="#262626" stroke-width="0.8"/>
<line x1="528.20" y1="193.80" x2="528.20" y2="195.40" stroke="#262626" stroke-width="0.8"/>
<line x1="532.05" y1="193.80" x2="532.05" y2="195.40" stroke="#262626" stroke-width="0.8"/>
<line x1="535.50" y1="193.80" x2="535.50" y2="196.80" stroke="#262626" stroke-width="1"/>
<line x1="309.50" y1="193.80" x2="306.50" y2="193.80" stroke="#262626" stroke-width="1"/>
<line x1="309.50" y1="175.51" x2="307.90" y2="175.51" stroke="#262626" stroke-width="0.8"/>
<line x1="309.50" y1="164.81" x2="307.90" y2="164.81" stroke="#262626" stroke-width="0.8"/>
<line x1="309.50" y1="157.21" x2="307.90" y2="157.21" stroke="#262626" stroke-width="0.8"/>
<line x1="309.50" y1="151.33" x2="307.90" y2="151.33" stroke="#262626" stroke-width="0.8"/>
<line x1="309.50" y1="146.51" x2="307.90" y2="146.51" stroke="#262626" stroke-width="0.8"/>
<line x1="309.50" y1="142.45" x2="307.90" y2="142.45" stroke="#262626" stroke-width="0.8"/>
<line x1="309.50" y1="138.92" x2="307.90" y2="138.92" stroke="#262626" stroke-width="0.8"/>
<line x1="309.50" y1="135.81" x2="307.90" y2="135.81" stroke="#262626" stroke-width="0.8"/>
<line x1="309.50" y1="133.03" x2="306.50" y2="133.03" stroke="#262626" stroke-width="1"/>
<line x1="309.50" y1="114.74" x2="307.90" y2="114.74" stroke="#262626" stroke-width="0.8"/>
<line x1="309.50" y1="104.04" x2="307.90" y2="104.04" stroke="#262626" stroke-width="0.8"/>
<line x1="309.50" y1="96.45" x2="307.90" y2="96.45" stroke="#262626" stroke-width="0.8"/>
<line x1="309.50" y1="90.56" x2="307.90" y2="90.56" stroke="#262626" stroke-width="0.8"/>
<line x1="309.50" y1="85.75" x2="307.90" y2="85.75" stroke="#262626" stroke-width="0.8"/>
<line x1="309.50" y1="81.68" x2="307.90" y2="81.68" stroke="#262626" stroke-width="0.8"/>
<line x1="309.50" y1="78.16" x2="307.90" y2="78.16" stroke="#262626" stroke-width="0.8"/>
<line x1="309.50" y1="75.05" x2="307.90" y2="75.05" stroke="#262626" stroke-width="0.8"/>
<line x1="309.50" y1="72.27" x2="306.50" y2="72.27" stroke="#262626" stroke-width="1"/>
<line x1="309.50" y1="53.97" x2="307.90" y2="53.97" stroke="#262626" stroke-width="0.8"/>
<line x1="309.50" y1="43.27" x2="307.90" y2="43.27" stroke="#262626" stroke-width="0.8"/>
<line x1="309.50" y1="35.68" x2="307.90" y2="35.68" stroke="#262626" stroke-width="0.8"/>
<line x1="309.50" y1="29.79" x2="307.90" y2="29.79" stroke="#262626" stroke-width="0.8"/>
<line x1="309.50" y1="24.98" x2="307.90" y2="24.98" stroke="#262626" stroke-width="0.8"/>
<line x1="309.50" y1="20.91" x2="307.90" y2="20.91" stroke="#262626" stroke-width="0.8"/>
<line x1="309.50" y1="17.39" x2="307.90" y2="17.39" stroke="#262626" stroke-width="0.8"/>
<line x1="309.50" y1="14.28" x2="307.90" y2="14.28" stroke="#262626" stroke-width="0.8"/>
<line x1="309.50" y1="11.50" x2="306.50" y2="11.50" stroke="#262626" stroke-width="1"/>
<text x="303.20" y="198.00" font-size="10.6" text-anchor="end">10<tspan font-size="7.17" dx="0.4" dy="-4.77">0</tspan></text>
<text x="303.20" y="137.23" font-size="10.6" text-anchor="end">10<tspan font-size="7.17" dx="0.4" dy="-4.77">1</tspan></text>
<text x="303.20" y="76.46" font-size="10.6" text-anchor="end">10<tspan font-size="7.17" dx="0.4" dy="-4.77">2</tspan></text>
<text x="303.20" y="15.70" font-size="10.6" text-anchor="end">10<tspan font-size="7.17" dx="0.4" dy="-4.77">3</tspan></text>
<text x="309.50" y="207.60" font-size="10.4" text-anchor="middle" >0.1</text>
<text x="384.83" y="207.60" font-size="10.4" text-anchor="middle" >1</text>
<text x="460.17" y="207.60" font-size="10.4" text-anchor="middle" >10</text>
<text x="535.50" y="207.60" font-size="10.4" text-anchor="middle" >100</text>
<text x="422.20" y="221.30" font-size="15.2" text-anchor="middle" >Oscillatory stress (Pa)</text>
<text transform="translate(281.70,102.50) rotate(-90)" font-size="15.5" text-anchor="middle" xml:space="preserve">G'  (Pa)&amp;G'' (Pa)</text>
<text x="271.00" y="19.10" font-size="16.5" text-anchor="start" >B</text>
<rect x="315.50" y="99.00" width="4.60" height="4.60" fill="#3a3a3a"/>
<text x="328.20" y="105.00" font-size="11.1" text-anchor="start" >G'</text>
<rect x="344.80" y="99.00" width="4.60" height="4.60" fill="none" stroke="#757575" stroke-width="0.8"/>
<text x="358.30" y="105.00" font-size="11.1" text-anchor="start" xml:space="preserve">G'' WalPI-WPI 9:1</text>
<circle cx="317.80" cy="115.50" r="3.00" fill="#f52828"/>
<text x="328.20" y="119.20" font-size="11.1" text-anchor="start" >G'</text>
<circle cx="347.10" cy="115.50" r="3.00" fill="none" stroke="#f86868" stroke-width="0.8"/>
<text x="358.30" y="119.20" font-size="11.1" text-anchor="start" xml:space="preserve">G'' WalPI-WPI 8:2</text>
<polygon points="317.80,126.40 320.95,131.95 314.65,131.95" fill="#1a6fdf"/>
<text x="328.20" y="133.40" font-size="11.1" text-anchor="start" >G'</text>
<polygon points="347.10,126.40 350.25,131.95 343.95,131.95" fill="none" stroke="#5e9ae8" stroke-width="0.8"/>
<text x="358.30" y="133.40" font-size="11.1" text-anchor="start" xml:space="preserve">G'' WalPI-WPI 7:3</text>
<polygon points="317.80,147.20 320.95,141.65 314.65,141.65" fill="#0f9d58"/>
<text x="328.20" y="147.60" font-size="11.1" text-anchor="start" >G'</text>
<polygon points="347.10,147.20 350.25,141.65 343.95,141.65" fill="none" stroke="#57ba8a" stroke-width="0.8"/>
<text x="358.30" y="147.60" font-size="11.1" text-anchor="start" xml:space="preserve">G'' WalPI-WPI 6:4</text>
<polygon points="317.80,154.65 321.25,158.10 317.80,161.55 314.35,158.10" fill="#b46ee8"/>
<text x="328.20" y="161.80" font-size="11.1" text-anchor="start" >G'</text>
<polygon points="347.10,154.65 350.55,158.10 347.10,161.55 343.65,158.10" fill="none" stroke="#ca99ee" stroke-width="0.8"/>
<text x="358.30" y="161.80" font-size="11.1" text-anchor="start" xml:space="preserve">G'' WalPI-WPI 1:1</text>
<polygon points="314.50,172.30 320.05,169.15 320.05,175.45" fill="#dc8e0c"/>
<text x="328.20" y="176.00" font-size="11.1" text-anchor="start" >G'</text>
<polygon points="343.80,172.30 349.35,169.15 349.35,175.45" fill="none" stroke="#e6af54" stroke-width="0.8"/>
<text x="358.30" y="176.00" font-size="11.1" text-anchor="start" xml:space="preserve">G'' nano-WalPI</text>
<polygon points="321.10,186.50 315.55,183.35 315.55,189.65" fill="#19c6d6"/>
<text x="328.20" y="190.20" font-size="11.1" text-anchor="start" >G'</text>
<polygon points="350.40,186.50 344.85,183.35 344.85,189.65" fill="none" stroke="#5ed7e2" stroke-width="0.8"/>
<text x="358.30" y="190.20" font-size="11.1" text-anchor="start" xml:space="preserve">G'' nano-WPI</text>
<clipPath id="cc"><rect x="38" y="233" width="228" height="177.2"/></clipPath>
<g clip-path="url(#cc)">
<rect x="40.43" y="364.43" width="3.15" height="3.15" fill="none" stroke="#929292" stroke-width="0.7"/>
<rect x="47.76" y="363.95" width="3.15" height="3.15" fill="none" stroke="#929292" stroke-width="0.7"/>
<rect x="55.09" y="363.65" width="3.15" height="3.15" fill="none" stroke="#929292" stroke-width="0.7"/>
<rect x="62.43" y="363.36" width="3.15" height="3.15" fill="none" stroke="#929292" stroke-width="0.7"/>
<rect x="69.76" y="363.07" width="3.15" height="3.15" fill="none" stroke="#929292" stroke-width="0.7"/>
<rect x="77.09" y="362.77" width="3.15" height="3.15" fill="none" stroke="#929292" stroke-width="0.7"/>
<rect x="84.43" y="362.48" width="3.15" height="3.15" fill="none" stroke="#929292" stroke-width="0.7"/>
<rect x="91.76" y="362.19" width="3.15" height="3.15" fill="none" stroke="#929292" stroke-width="0.7"/>
<rect x="99.09" y="361.89" width="3.15" height="3.15" fill="none" stroke="#929292" stroke-width="0.7"/>
<rect x="106.43" y="361.50" width="3.15" height="3.15" fill="none" stroke="#929292" stroke-width="0.7"/>
<rect x="113.76" y="361.10" width="3.15" height="3.15" fill="none" stroke="#929292" stroke-width="0.7"/>
<rect x="121.09" y="360.71" width="3.15" height="3.15" fill="none" stroke="#929292" stroke-width="0.7"/>
<rect x="128.43" y="360.31" width="3.15" height="3.15" fill="none" stroke="#929292" stroke-width="0.7"/>
<rect x="135.76" y="359.92" width="3.15" height="3.15" fill="none" stroke="#929292" stroke-width="0.7"/>
<rect x="143.09" y="359.52" width="3.15" height="3.15" fill="none" stroke="#929292" stroke-width="0.7"/>
<rect x="150.43" y="359.13" width="3.15" height="3.15" fill="none" stroke="#929292" stroke-width="0.7"/>
<rect x="157.76" y="358.28" width="3.15" height="3.15" fill="none" stroke="#929292" stroke-width="0.7"/>
<rect x="165.09" y="357.43" width="3.15" height="3.15" fill="none" stroke="#929292" stroke-width="0.7"/>
<rect x="172.43" y="356.58" width="3.15" height="3.15" fill="none" stroke="#929292" stroke-width="0.7"/>
<rect x="179.76" y="355.73" width="3.15" height="3.15" fill="none" stroke="#929292" stroke-width="0.7"/>
<rect x="187.09" y="354.88" width="3.15" height="3.15" fill="none" stroke="#929292" stroke-width="0.7"/>
<rect x="194.43" y="354.03" width="3.15" height="3.15" fill="none" stroke="#929292" stroke-width="0.7"/>
<rect x="201.76" y="352.95" width="3.15" height="3.15" fill="none" stroke="#929292" stroke-width="0.7"/>
<rect x="209.09" y="351.86" width="3.15" height="3.15" fill="none" stroke="#929292" stroke-width="0.7"/>
<rect x="216.43" y="350.56" width="3.15" height="3.15" fill="none" stroke="#929292" stroke-width="0.7"/>
<rect x="223.76" y="349.33" width="3.15" height="3.15" fill="none" stroke="#929292" stroke-width="0.7"/>
<rect x="231.09" y="349.19" width="3.15" height="3.15" fill="none" stroke="#929292" stroke-width="0.7"/>
<rect x="238.43" y="347.08" width="3.15" height="3.15" fill="none" stroke="#929292" stroke-width="0.7"/>
<rect x="245.76" y="346.07" width="3.15" height="3.15" fill="none" stroke="#929292" stroke-width="0.7"/>
<rect x="253.09" y="340.43" width="3.15" height="3.15" fill="none" stroke="#929292" stroke-width="0.7"/>
<circle cx="42.00" cy="368.00" r="2.04" fill="none" stroke="#f87373" stroke-width="0.7"/>
<circle cx="49.33" cy="367.04" r="2.04" fill="none" stroke="#f87373" stroke-width="0.7"/>
<circle cx="56.67" cy="366.90" r="2.04" fill="none" stroke="#f87373" stroke-width="0.7"/>
<circle cx="64.00" cy="366.79" r="2.04" fill="none" stroke="#f87373" stroke-width="0.7"/>
<circle cx="71.33" cy="366.68" r="2.04" fill="none" stroke="#f87373" stroke-width="0.7"/>
<circle cx="78.67" cy="366.57" r="2.04" fill="none" stroke="#f87373" stroke-width="0.7"/>
<circle cx="86.00" cy="366.47" r="2.04" fill="none" stroke="#f87373" stroke-width="0.7"/>
<circle cx="93.33" cy="366.36" r="2.04" fill="none" stroke="#f87373" stroke-width="0.7"/>
<circle cx="100.67" cy="366.25" r="2.04" fill="none" stroke="#f87373" stroke-width="0.7"/>
<circle cx="108.00" cy="366.14" r="2.04" fill="none" stroke="#f87373" stroke-width="0.7"/>
<circle cx="115.33" cy="366.04" r="2.04" fill="none" stroke="#f87373" stroke-width="0.7"/>
<circle cx="122.67" cy="365.93" r="2.04" fill="none" stroke="#f87373" stroke-width="0.7"/>
<circle cx="130.00" cy="365.82" r="2.04" fill="none" stroke="#f87373" stroke-width="0.7"/>
<circle cx="137.33" cy="365.71" r="2.04" fill="none" stroke="#f87373" stroke-width="0.7"/>
<circle cx="144.67" cy="365.61" r="2.04" fill="none" stroke="#f87373" stroke-width="0.7"/>
<circle cx="152.00" cy="365.50" r="2.04" fill="none" stroke="#f87373" stroke-width="0.7"/>
<circle cx="159.33" cy="364.83" r="2.04" fill="none" stroke="#f87373" stroke-width="0.7"/>
<circle cx="166.67" cy="364.17" r="2.04" fill="none" stroke="#f87373" stroke-width="0.7"/>
<circle cx="174.00" cy="363.50" r="2.04" fill="none" stroke="#f87373" stroke-width="0.7"/>
<circle cx="181.33" cy="362.83" r="2.04" fill="none" stroke="#f87373" stroke-width="0.7"/>
<circle cx="188.67" cy="362.17" r="2.04" fill="none" stroke="#f87373" stroke-width="0.7"/>
<circle cx="196.00" cy="361.50" r="2.04" fill="none" stroke="#f87373" stroke-width="0.7"/>
<circle cx="203.33" cy="360.61" r="2.04" fill="none" stroke="#f87373" stroke-width="0.7"/>
<circle cx="210.67" cy="359.72" r="2.04" fill="none" stroke="#f87373" stroke-width="0.7"/>
<circle cx="218.00" cy="358.84" r="2.04" fill="none" stroke="#f87373" stroke-width="0.7"/>
<circle cx="225.33" cy="357.91" r="2.04" fill="none" stroke="#f87373" stroke-width="0.7"/>
<circle cx="232.67" cy="356.40" r="2.04" fill="none" stroke="#f87373" stroke-width="0.7"/>
<circle cx="240.00" cy="354.80" r="2.04" fill="none" stroke="#f87373" stroke-width="0.7"/>
<circle cx="247.33" cy="351.80" r="2.04" fill="none" stroke="#f87373" stroke-width="0.7"/>
<circle cx="254.67" cy="349.00" r="2.04" fill="none" stroke="#f87373" stroke-width="0.7"/>
<polygon points="42.00,366.57 44.32,370.66 39.68,370.66" fill="none" stroke="#6aa1ea" stroke-width="0.7"/>
<polygon points="49.33,365.60 51.65,369.69 47.01,369.69" fill="none" stroke="#6aa1ea" stroke-width="0.7"/>
<polygon points="56.67,365.50 58.99,369.59 54.35,369.59" fill="none" stroke="#6aa1ea" stroke-width="0.7"/>
<polygon points="64.00,365.43 66.32,369.52 61.68,369.52" fill="none" stroke="#6aa1ea" stroke-width="0.7"/>
<polygon points="71.33,365.36 73.65,369.45 69.01,369.45" fill="none" stroke="#6aa1ea" stroke-width="0.7"/>
<polygon points="78.67,365.29 80.99,369.37 76.35,369.37" fill="none" stroke="#6aa1ea" stroke-width="0.7"/>
<polygon points="86.00,365.21 88.32,369.30 83.68,369.30" fill="none" stroke="#6aa1ea" stroke-width="0.7"/>
<polygon points="93.33,365.14 95.65,369.23 91.01,369.23" fill="none" stroke="#6aa1ea" stroke-width="0.7"/>
<polygon points="100.67,365.07 102.99,369.16 98.35,369.16" fill="none" stroke="#6aa1ea" stroke-width="0.7"/>
<polygon points="108.00,365.00 110.32,369.09 105.68,369.09" fill="none" stroke="#6aa1ea" stroke-width="0.7"/>
<polygon points="115.33,364.93 117.65,369.02 113.01,369.02" fill="none" stroke="#6aa1ea" stroke-width="0.7"/>
<polygon points="122.67,364.86 124.99,368.94 120.35,368.94" fill="none" stroke="#6aa1ea" stroke-width="0.7"/>
<polygon points="130.00,364.78 132.32,368.87 127.68,368.87" fill="none" stroke="#6aa1ea" stroke-width="0.7"/>
<polygon points="137.33,364.71 139.65,368.80 135.01,368.80" fill="none" stroke="#6aa1ea" stroke-width="0.7"/>
<polygon points="144.67,364.64 146.99,368.73 142.35,368.73" fill="none" stroke="#6aa1ea" stroke-width="0.7"/>
<polygon points="152.00,364.57 154.32,368.66 149.68,368.66" fill="none" stroke="#6aa1ea" stroke-width="0.7"/>
<polygon points="159.33,363.90 161.65,367.99 157.01,367.99" fill="none" stroke="#6aa1ea" stroke-width="0.7"/>
<polygon points="166.67,363.24 168.99,367.32 164.35,367.32" fill="none" stroke="#6aa1ea" stroke-width="0.7"/>
<polygon points="174.00,362.57 176.32,366.66 171.68,366.66" fill="none" stroke="#6aa1ea" stroke-width="0.7"/>
<polygon points="181.33,361.90 183.65,365.99 179.01,365.99" fill="none" stroke="#6aa1ea" stroke-width="0.7"/>
<polygon points="188.67,361.24 190.99,365.32 186.35,365.32" fill="none" stroke="#6aa1ea" stroke-width="0.7"/>
<polygon points="196.00,360.57 198.32,364.66 193.68,364.66" fill="none" stroke="#6aa1ea" stroke-width="0.7"/>
<polygon points="203.33,359.55 205.65,363.64 201.01,363.64" fill="none" stroke="#6aa1ea" stroke-width="0.7"/>
<polygon points="210.67,358.54 212.99,362.63 208.35,362.63" fill="none" stroke="#6aa1ea" stroke-width="0.7"/>
<polygon points="218.00,357.52 220.32,361.61 215.68,361.61" fill="none" stroke="#6aa1ea" stroke-width="0.7"/>
<polygon points="225.33,356.49 227.65,360.58 223.01,360.58" fill="none" stroke="#6aa1ea" stroke-width="0.7"/>
<polygon points="232.67,355.24 234.99,359.33 230.35,359.33" fill="none" stroke="#6aa1ea" stroke-width="0.7"/>
<polygon points="240.00,353.88 242.32,357.97 237.68,357.97" fill="none" stroke="#6aa1ea" stroke-width="0.7"/>
<polygon points="247.33,351.14 249.65,355.23 245.01,355.23" fill="none" stroke="#6aa1ea" stroke-width="0.7"/>
<polygon points="254.67,348.57 256.99,352.66 252.35,352.66" fill="none" stroke="#6aa1ea" stroke-width="0.7"/>
<polygon points="42.00,372.43 44.32,368.34 39.68,368.34" fill="none" stroke="#63bf92" stroke-width="0.7"/>
<polygon points="49.33,371.47 51.65,367.38 47.01,367.38" fill="none" stroke="#63bf92" stroke-width="0.7"/>
<polygon points="56.67,371.33 58.99,367.24 54.35,367.24" fill="none" stroke="#63bf92" stroke-width="0.7"/>
<polygon points="64.00,371.22 66.32,367.13 61.68,367.13" fill="none" stroke="#63bf92" stroke-width="0.7"/>
<polygon points="71.33,371.11 73.65,367.02 69.01,367.02" fill="none" stroke="#63bf92" stroke-width="0.7"/>
<polygon points="78.67,371.01 80.99,366.92 76.35,366.92" fill="none" stroke="#63bf92" stroke-width="0.7"/>
<polygon points="86.00,370.90 88.32,366.81 83.68,366.81" fill="none" stroke="#63bf92" stroke-width="0.7"/>
<polygon points="93.33,370.79 95.65,366.70 91.01,366.70" fill="none" stroke="#63bf92" stroke-width="0.7"/>
<polygon points="100.67,370.68 102.99,366.59 98.35,366.59" fill="none" stroke="#63bf92" stroke-width="0.7"/>
<polygon points="108.00,370.58 110.32,366.49 105.68,366.49" fill="none" stroke="#63bf92" stroke-width="0.7"/>
<polygon points="115.33,370.47 117.65,366.38 113.01,366.38" fill="none" stroke="#63bf92" stroke-width="0.7"/>
<polygon points="122.67,370.36 124.99,366.27 120.35,366.27" fill="none" stroke="#63bf92" stroke-width="0.7"/>
<polygon points="130.00,370.25 132.32,366.16 127.68,366.16" fill="none" stroke="#63bf92" stroke-width="0.7"/>
<polygon points="137.33,370.15 139.65,366.06 135.01,366.06" fill="none" stroke="#63bf92" stroke-width="0.7"/>
<polygon points="144.67,370.04 146.99,365.95 142.35,365.95" fill="none" stroke="#63bf92" stroke-width="0.7"/>
<polygon points="152.00,369.93 154.32,365.84 149.68,365.84" fill="none" stroke="#63bf92" stroke-width="0.7"/>
<polygon points="159.33,369.26 161.65,365.18 157.01,365.18" fill="none" stroke="#63bf92" stroke-width="0.7"/>
<polygon points="166.67,368.60 168.99,364.51 164.35,364.51" fill="none" stroke="#63bf92" stroke-width="0.7"/>
<polygon points="174.00,367.93 176.32,363.84 171.68,363.84" fill="none" stroke="#63bf92" stroke-width="0.7"/>
<polygon points="181.33,367.26 183.65,363.18 179.01,363.18" fill="none" stroke="#63bf92" stroke-width="0.7"/>
<polygon points="188.67,366.60 190.99,362.51 186.35,362.51" fill="none" stroke="#63bf92" stroke-width="0.7"/>
<polygon points="196.00,365.93 198.32,361.84 193.68,361.84" fill="none" stroke="#63bf92" stroke-width="0.7"/>
<polygon points="203.33,364.92 205.65,360.83 201.01,360.83" fill="none" stroke="#63bf92" stroke-width="0.7"/>
<polygon points="210.67,363.90 212.99,359.81 208.35,359.81" fill="none" stroke="#63bf92" stroke-width="0.7"/>
<polygon points="218.00,362.89 220.32,358.80 215.68,358.80" fill="none" stroke="#63bf92" stroke-width="0.7"/>
<polygon points="225.33,361.86 227.65,357.77 223.01,357.77" fill="none" stroke="#63bf92" stroke-width="0.7"/>
<polygon points="232.67,360.60 234.99,356.51 230.35,356.51" fill="none" stroke="#63bf92" stroke-width="0.7"/>
<polygon points="240.00,359.26 242.32,355.17 237.68,355.17" fill="none" stroke="#63bf92" stroke-width="0.7"/>
<polygon points="247.33,356.77 249.65,352.68 245.01,352.68" fill="none" stroke="#63bf92" stroke-width="0.7"/>
<polygon points="254.67,354.43 256.99,350.34 252.35,350.34" fill="none" stroke="#63bf92" stroke-width="0.7"/>
<polygon points="42.00,363.46 44.54,366.00 42.00,368.54 39.46,366.00" fill="none" stroke="#cea0f0" stroke-width="0.7"/>
<polygon points="49.33,362.49 51.87,365.04 49.33,367.58 46.79,365.04" fill="none" stroke="#cea0f0" stroke-width="0.7"/>
<polygon points="56.67,362.42 59.21,364.97 56.67,367.51 54.13,364.97" fill="none" stroke="#cea0f0" stroke-width="0.7"/>
<polygon points="64.00,362.39 66.54,364.93 64.00,367.47 61.46,364.93" fill="none" stroke="#cea0f0" stroke-width="0.7"/>
<polygon points="71.33,362.35 73.87,364.89 71.33,367.44 68.79,364.89" fill="none" stroke="#cea0f0" stroke-width="0.7"/>
<polygon points="78.67,362.32 81.21,364.86 78.67,367.40 76.13,364.86" fill="none" stroke="#cea0f0" stroke-width="0.7"/>
<polygon points="86.00,362.28 88.54,364.82 86.00,367.36 83.46,364.82" fill="none" stroke="#cea0f0" stroke-width="0.7"/>
<polygon points="93.33,362.24 95.87,364.79 93.33,367.33 90.79,364.79" fill="none" stroke="#cea0f0" stroke-width="0.7"/>
<polygon points="100.67,362.21 103.21,364.75 100.67,367.29 98.13,364.75" fill="none" stroke="#cea0f0" stroke-width="0.7"/>
<polygon points="108.00,362.17 110.54,364.71 108.00,367.26 105.46,364.71" fill="none" stroke="#cea0f0" stroke-width="0.7"/>
<polygon points="115.33,362.14 117.87,364.68 115.33,367.22 112.79,364.68" fill="none" stroke="#cea0f0" stroke-width="0.7"/>
<polygon points="122.67,362.10 125.21,364.64 122.67,367.18 120.13,364.64" fill="none" stroke="#cea0f0" stroke-width="0.7"/>
<polygon points="130.00,362.07 132.54,364.61 130.00,367.15 127.46,364.61" fill="none" stroke="#cea0f0" stroke-width="0.7"/>
<polygon points="137.33,362.03 139.87,364.57 137.33,367.11 134.79,364.57" fill="none" stroke="#cea0f0" stroke-width="0.7"/>
<polygon points="144.67,361.99 147.21,364.54 144.67,367.08 142.13,364.54" fill="none" stroke="#cea0f0" stroke-width="0.7"/>
<polygon points="152.00,361.96 154.54,364.50 152.00,367.04 149.46,364.50" fill="none" stroke="#cea0f0" stroke-width="0.7"/>
<polygon points="159.33,361.29 161.87,363.83 159.33,366.37 156.79,363.83" fill="none" stroke="#cea0f0" stroke-width="0.7"/>
<polygon points="166.67,360.63 169.21,363.17 166.67,365.71 164.13,363.17" fill="none" stroke="#cea0f0" stroke-width="0.7"/>
<polygon points="174.00,359.96 176.54,362.50 174.00,365.04 171.46,362.50" fill="none" stroke="#cea0f0" stroke-width="0.7"/>
<polygon points="181.33,359.29 183.87,361.83 181.33,364.37 178.79,361.83" fill="none" stroke="#cea0f0" stroke-width="0.7"/>
<polygon points="188.67,358.63 191.21,361.17 188.67,363.71 186.13,361.17" fill="none" stroke="#cea0f0" stroke-width="0.7"/>
<polygon points="196.00,357.96 198.54,360.50 196.00,363.04 193.46,360.50" fill="none" stroke="#cea0f0" stroke-width="0.7"/>
<polygon points="203.33,357.07 205.87,359.61 203.33,362.15 200.79,359.61" fill="none" stroke="#cea0f0" stroke-width="0.7"/>
<polygon points="210.67,356.18 213.21,358.72 210.67,361.27 208.13,358.72" fill="none" stroke="#cea0f0" stroke-width="0.7"/>
<polygon points="218.00,355.29 220.54,357.84 218.00,360.38 215.46,357.84" fill="none" stroke="#cea0f0" stroke-width="0.7"/>
<polygon points="225.33,354.38 227.87,356.93 225.33,359.47 222.79,356.93" fill="none" stroke="#cea0f0" stroke-width="0.7"/>
<polygon points="232.67,353.13 235.21,355.67 232.67,358.21 230.13,355.67" fill="none" stroke="#cea0f0" stroke-width="0.7"/>
<polygon points="240.00,351.75 242.54,354.30 240.00,356.84 237.46,354.30" fill="none" stroke="#cea0f0" stroke-width="0.7"/>
<polygon points="247.33,348.76 249.87,351.30 247.33,353.84 244.79,351.30" fill="none" stroke="#cea0f0" stroke-width="0.7"/>
<polygon points="254.67,345.96 257.21,348.50 254.67,351.04 252.13,348.50" fill="none" stroke="#cea0f0" stroke-width="0.7"/>
<polygon points="42.00,368.68 44.21,370.28 43.36,372.88 40.64,372.88 39.79,370.28" fill="none" stroke="#e8b561" stroke-width="0.7"/>
<polygon points="49.33,367.71 51.54,369.32 50.70,371.91 47.97,371.91 47.13,369.32" fill="none" stroke="#e8b561" stroke-width="0.7"/>
<polygon points="56.67,367.54 58.87,369.14 58.03,371.74 55.30,371.74 54.46,369.14" fill="none" stroke="#e8b561" stroke-width="0.7"/>
<polygon points="64.00,367.40 66.21,369.00 65.36,371.60 62.64,371.60 61.79,369.00" fill="none" stroke="#e8b561" stroke-width="0.7"/>
<polygon points="71.33,367.26 73.54,368.86 72.70,371.45 69.97,371.45 69.13,368.86" fill="none" stroke="#e8b561" stroke-width="0.7"/>
<polygon points="78.67,367.11 80.87,368.72 80.03,371.31 77.30,371.31 76.46,368.72" fill="none" stroke="#e8b561" stroke-width="0.7"/>
<polygon points="86.00,366.97 88.21,368.57 87.36,371.17 84.64,371.17 83.79,368.57" fill="none" stroke="#e8b561" stroke-width="0.7"/>
<polygon points="93.33,366.83 95.54,368.43 94.70,371.02 91.97,371.02 91.13,368.43" fill="none" stroke="#e8b561" stroke-width="0.7"/>
<polygon points="100.67,366.68 102.87,368.29 102.03,370.88 99.30,370.88 98.46,368.29" fill="none" stroke="#e8b561" stroke-width="0.7"/>
<polygon points="108.00,366.54 110.21,368.14 109.36,370.74 106.64,370.74 105.79,368.14" fill="none" stroke="#e8b561" stroke-width="0.7"/>
<polygon points="115.33,366.40 117.54,368.00 116.70,370.59 113.97,370.59 113.13,368.00" fill="none" stroke="#e8b561" stroke-width="0.7"/>
<polygon points="122.67,366.25 124.87,367.86 124.03,370.45 121.30,370.45 120.46,367.86" fill="none" stroke="#e8b561" stroke-width="0.7"/>
<polygon points="130.00,366.11 132.21,367.71 131.36,370.31 128.64,370.31 127.79,367.71" fill="none" stroke="#e8b561" stroke-width="0.7"/>
<polygon points="137.33,365.97 139.54,367.57 138.70,370.16 135.97,370.16 135.13,367.57" fill="none" stroke="#e8b561" stroke-width="0.7"/>
<polygon points="144.67,365.82 146.87,367.43 146.03,370.02 143.30,370.02 142.46,367.43" fill="none" stroke="#e8b561" stroke-width="0.7"/>
<polygon points="152.00,365.68 154.21,367.28 153.36,369.88 150.64,369.88 149.79,367.28" fill="none" stroke="#e8b561" stroke-width="0.7"/>
<polygon points="159.33,365.01 161.54,366.62 160.70,369.21 157.97,369.21 157.13,366.62" fill="none" stroke="#e8b561" stroke-width="0.7"/>
<polygon points="166.67,364.35 168.87,365.95 168.03,368.54 165.30,368.54 164.46,365.95" fill="none" stroke="#e8b561" stroke-width="0.7"/>
<polygon points="174.00,363.68 176.21,365.28 175.36,367.88 172.64,367.88 171.79,365.28" fill="none" stroke="#e8b561" stroke-width="0.7"/>
<polygon points="181.33,363.01 183.54,364.62 182.70,367.21 179.97,367.21 179.13,364.62" fill="none" stroke="#e8b561" stroke-width="0.7"/>
<polygon points="188.67,362.35 190.87,363.95 190.03,366.54 187.30,366.54 186.46,363.95" fill="none" stroke="#e8b561" stroke-width="0.7"/>
<polygon points="196.00,361.68 198.21,363.28 197.36,365.88 194.64,365.88 193.79,363.28" fill="none" stroke="#e8b561" stroke-width="0.7"/>
<polygon points="203.33,360.66 205.54,362.27 204.70,364.86 201.97,364.86 201.13,362.27" fill="none" stroke="#e8b561" stroke-width="0.7"/>
<polygon points="210.67,359.65 212.87,361.25 212.03,363.85 209.30,363.85 208.46,361.25" fill="none" stroke="#e8b561" stroke-width="0.7"/>
<polygon points="218.00,358.63 220.21,360.24 219.36,362.83 216.64,362.83 215.79,360.24" fill="none" stroke="#e8b561" stroke-width="0.7"/>
<polygon points="225.33,357.61 227.54,359.21 226.70,361.80 223.97,361.80 223.13,359.21" fill="none" stroke="#e8b561" stroke-width="0.7"/>
<polygon points="232.67,356.35 234.87,357.95 234.03,360.55 231.30,360.55 230.46,357.95" fill="none" stroke="#e8b561" stroke-width="0.7"/>
<polygon points="240.00,354.99 242.21,356.60 241.36,359.19 238.64,359.19 237.79,356.60" fill="none" stroke="#e8b561" stroke-width="0.7"/>
<polygon points="247.33,352.25 249.54,353.85 248.70,356.45 245.97,356.45 245.13,353.85" fill="none" stroke="#e8b561" stroke-width="0.7"/>
<polygon points="254.67,349.68 256.87,351.28 256.03,353.88 253.30,353.88 252.46,351.28" fill="none" stroke="#e8b561" stroke-width="0.7"/>
<polygon points="42.00,378.35 42.65,380.11 44.52,380.18 43.05,381.34 43.56,383.15 42.00,382.11 40.44,383.15 40.95,381.34 39.48,380.18 41.35,380.11" fill="none" stroke="#34ccda" stroke-width="0.7"/>
<polygon points="49.33,378.06 49.98,379.82 51.86,379.89 50.38,381.05 50.89,382.86 49.33,381.82 47.77,382.86 48.28,381.05 46.81,379.89 48.68,379.82" fill="none" stroke="#34ccda" stroke-width="0.7"/>
<polygon points="56.67,377.81 57.32,379.57 59.19,379.64 57.72,380.80 58.23,382.61 56.67,381.57 55.11,382.61 55.62,380.80 54.14,379.64 56.02,379.57" fill="none" stroke="#34ccda" stroke-width="0.7"/>
<polygon points="64.00,377.56 64.65,379.32 66.52,379.39 65.05,380.56 65.56,382.36 64.00,381.32 62.44,382.36 62.95,380.56 61.48,379.39 63.35,379.32" fill="none" stroke="#34ccda" stroke-width="0.7"/>
<polygon points="71.33,377.31 71.98,379.07 73.86,379.15 72.38,380.31 72.89,382.11 71.33,381.07 69.77,382.11 70.28,380.31 68.81,379.15 70.68,379.07" fill="none" stroke="#34ccda" stroke-width="0.7"/>
<polygon points="78.67,377.07 79.32,378.83 81.19,378.90 79.72,380.06 80.23,381.87 78.67,380.82 77.11,381.87 77.62,380.06 76.14,378.90 78.02,378.83" fill="none" stroke="#34ccda" stroke-width="0.7"/>
<polygon points="86.00,376.82 86.65,378.58 88.52,378.65 87.05,379.81 87.56,381.62 86.00,380.58 84.44,381.62 84.95,379.81 83.48,378.65 85.35,378.58" fill="none" stroke="#34ccda" stroke-width="0.7"/>
<polygon points="93.33,376.57 93.98,378.33 95.86,378.41 94.38,379.57 94.89,381.37 93.33,380.33 91.77,381.37 92.28,379.57 90.81,378.41 92.68,378.33" fill="none" stroke="#34ccda" stroke-width="0.7"/>
<polygon points="100.67,376.31 101.32,378.07 103.19,378.14 101.72,379.31 102.23,381.11 100.67,380.07 99.11,381.11 99.62,379.31 98.14,378.14 100.02,378.07" fill="none" stroke="#34ccda" stroke-width="0.7"/>
<polygon points="108.00,375.92 108.65,377.68 110.52,377.75 109.05,378.91 109.56,380.71 108.00,379.67 106.44,380.71 106.95,378.91 105.48,377.75 107.35,377.68" fill="none" stroke="#34ccda" stroke-width="0.7"/>
<polygon points="115.33,375.52 115.98,377.28 117.86,377.35 116.38,378.52 116.89,380.32 115.33,379.28 113.77,380.32 114.28,378.52 112.81,377.35 114.68,377.28" fill="none" stroke="#34ccda" stroke-width="0.7"/>
<polygon points="122.67,375.13 123.32,376.89 125.19,376.96 123.72,378.12 124.23,379.93 122.67,378.88 121.11,379.93 121.62,378.12 120.14,376.96 122.02,376.89" fill="none" stroke="#34ccda" stroke-width="0.7"/>
<polygon points="130.00,374.73 130.65,376.49 132.52,376.57 131.05,377.73 131.56,379.53 130.00,378.49 128.44,379.53 128.95,377.73 127.48,376.57 129.35,376.49" fill="none" stroke="#34ccda" stroke-width="0.7"/>
<polygon points="137.33,374.34 137.98,376.10 139.86,376.17 138.38,377.33 138.89,379.14 137.33,378.09 135.77,379.14 136.28,377.33 134.81,376.17 136.68,376.10" fill="none" stroke="#34ccda" stroke-width="0.7"/>
<polygon points="144.67,373.94 145.32,375.70 147.19,375.78 145.72,376.94 146.23,378.74 144.67,377.70 143.11,378.74 143.62,376.94 142.14,375.78 144.02,375.70" fill="none" stroke="#34ccda" stroke-width="0.7"/>
<polygon points="152.00,373.55 152.65,375.31 154.52,375.38 153.05,376.54 153.56,378.35 152.00,377.31 150.44,378.35 150.95,376.54 149.48,375.38 151.35,375.31" fill="none" stroke="#34ccda" stroke-width="0.7"/>
<polygon points="159.33,372.62 159.98,374.37 161.86,374.45 160.38,375.61 160.89,377.41 159.33,376.37 157.77,377.41 158.28,375.61 156.81,374.45 158.68,374.37" fill="none" stroke="#34ccda" stroke-width="0.7"/>
<polygon points="166.67,371.68 167.32,373.44 169.19,373.52 167.72,374.68 168.23,376.48 166.67,375.44 165.11,376.48 165.62,374.68 164.14,373.52 166.02,373.44" fill="none" stroke="#34ccda" stroke-width="0.7"/>
<polygon points="174.00,370.75 174.65,372.51 176.52,372.58 175.05,373.74 175.56,375.55 174.00,374.51 172.44,375.55 172.95,373.74 171.48,372.58 173.35,372.51" fill="none" stroke="#34ccda" stroke-width="0.7"/>
<polygon points="181.33,369.82 181.98,371.58 183.86,371.66 182.38,372.82 182.89,374.62 181.33,373.58 179.77,374.62 180.28,372.82 178.81,371.66 180.68,371.58" fill="none" stroke="#34ccda" stroke-width="0.7"/>
<polygon points="188.67,369.04 189.32,370.79 191.19,370.87 189.72,372.03 190.23,373.83 188.67,372.79 187.11,373.83 187.62,372.03 186.14,370.87 188.02,370.79" fill="none" stroke="#34ccda" stroke-width="0.7"/>
<polygon points="196.00,368.25 196.65,370.01 198.52,370.08 197.05,371.24 197.56,373.05 196.00,372.00 194.44,373.05 194.95,371.24 193.48,370.08 195.35,370.01" fill="none" stroke="#34ccda" stroke-width="0.7"/>
<polygon points="203.33,367.32 203.98,369.08 205.86,369.16 204.38,370.32 204.89,372.12 203.33,371.08 201.77,372.12 202.28,370.32 200.81,369.16 202.68,369.08" fill="none" stroke="#34ccda" stroke-width="0.7"/>
<polygon points="210.67,366.39 211.32,368.14 213.19,368.22 211.72,369.38 212.23,371.18 210.67,370.14 209.11,371.18 209.62,369.38 208.14,368.22 210.02,368.14" fill="none" stroke="#34ccda" stroke-width="0.7"/>
<polygon points="218.00,365.13 218.65,366.89 220.52,366.96 219.05,368.12 219.56,369.93 218.00,368.89 216.44,369.93 216.95,368.12 215.48,366.96 217.35,366.89" fill="none" stroke="#34ccda" stroke-width="0.7"/>
<polygon points="225.33,363.85 225.98,365.61 227.86,365.68 226.38,366.84 226.89,368.64 225.33,367.60 223.77,368.64 224.28,366.84 222.81,365.68 224.68,365.61" fill="none" stroke="#34ccda" stroke-width="0.7"/>
<polygon points="232.67,362.11 233.32,363.87 235.19,363.94 233.72,365.10 234.23,366.90 232.67,365.86 231.11,366.90 231.62,365.10 230.14,363.94 232.02,363.87" fill="none" stroke="#34ccda" stroke-width="0.7"/>
<polygon points="240.00,359.72 240.65,361.48 242.52,361.56 241.05,362.72 241.56,364.52 240.00,363.48 238.44,364.52 238.95,362.72 237.48,361.56 239.35,361.48" fill="none" stroke="#34ccda" stroke-width="0.7"/>
<polygon points="247.33,354.95 247.98,356.70 249.86,356.78 248.38,357.94 248.89,359.74 247.33,358.70 245.77,359.74 246.28,357.94 244.81,356.78 246.68,356.70" fill="none" stroke="#34ccda" stroke-width="0.7"/>
<polygon points="254.67,350.15 255.32,351.91 257.19,351.98 255.72,353.14 256.23,354.95 254.67,353.91 253.11,354.95 253.62,353.14 252.14,351.98 254.02,351.91" fill="none" stroke="#34ccda" stroke-width="0.7"/>
<rect x="47.48" y="329.17" width="3.70" height="3.70" fill="#3a3a3a"/>
<rect x="54.82" y="328.69" width="3.70" height="3.70" fill="#3a3a3a"/>
<rect x="62.15" y="328.22" width="3.70" height="3.70" fill="#3a3a3a"/>
<rect x="69.48" y="327.75" width="3.70" height="3.70" fill="#3a3a3a"/>
<rect x="76.82" y="327.28" width="3.70" height="3.70" fill="#3a3a3a"/>
<rect x="84.15" y="326.80" width="3.70" height="3.70" fill="#3a3a3a"/>
<rect x="91.48" y="326.33" width="3.70" height="3.70" fill="#3a3a3a"/>
<rect x="98.82" y="325.86" width="3.70" height="3.70" fill="#3a3a3a"/>
<rect x="106.15" y="325.39" width="3.70" height="3.70" fill="#3a3a3a"/>
<rect x="113.48" y="324.91" width="3.70" height="3.70" fill="#3a3a3a"/>
<rect x="120.82" y="324.44" width="3.70" height="3.70" fill="#3a3a3a"/>
<rect x="128.15" y="323.97" width="3.70" height="3.70" fill="#3a3a3a"/>
<rect x="135.48" y="323.50" width="3.70" height="3.70" fill="#3a3a3a"/>
<rect x="142.82" y="323.02" width="3.70" height="3.70" fill="#3a3a3a"/>
<rect x="150.15" y="322.55" width="3.70" height="3.70" fill="#3a3a3a"/>
<rect x="157.48" y="322.21" width="3.70" height="3.70" fill="#3a3a3a"/>
<rect x="164.82" y="321.87" width="3.70" height="3.70" fill="#3a3a3a"/>
<rect x="172.15" y="321.53" width="3.70" height="3.70" fill="#3a3a3a"/>
<rect x="179.48" y="321.19" width="3.70" height="3.70" fill="#3a3a3a"/>
<rect x="186.82" y="320.85" width="3.70" height="3.70" fill="#3a3a3a"/>
<rect x="194.15" y="320.51" width="3.70" height="3.70" fill="#3a3a3a"/>
<rect x="201.48" y="320.16" width="3.70" height="3.70" fill="#3a3a3a"/>
<rect x="208.82" y="319.82" width="3.70" height="3.70" fill="#3a3a3a"/>
<rect x="216.15" y="319.44" width="3.70" height="3.70" fill="#3a3a3a"/>
<rect x="223.48" y="318.96" width="3.70" height="3.70" fill="#3a3a3a"/>
<rect x="230.82" y="318.49" width="3.70" height="3.70" fill="#3a3a3a"/>
<rect x="238.15" y="318.02" width="3.70" height="3.70" fill="#3a3a3a"/>
<rect x="245.48" y="317.50" width="3.70" height="3.70" fill="#3a3a3a"/>
<rect x="252.82" y="315.62" width="3.70" height="3.70" fill="#3a3a3a"/>
<rect x="260.15" y="296.95" width="3.70" height="3.70" fill="#3a3a3a"/>
<circle cx="42.00" cy="341.00" r="2.40" fill="#f52828"/>
<circle cx="49.33" cy="339.55" r="2.40" fill="#f52828"/>
<circle cx="56.67" cy="338.91" r="2.40" fill="#f52828"/>
<circle cx="64.00" cy="338.29" r="2.40" fill="#f52828"/>
<circle cx="71.33" cy="337.68" r="2.40" fill="#f52828"/>
<circle cx="78.67" cy="337.06" r="2.40" fill="#f52828"/>
<circle cx="86.00" cy="336.45" r="2.40" fill="#f52828"/>
<circle cx="93.33" cy="335.83" r="2.40" fill="#f52828"/>
<circle cx="100.67" cy="335.22" r="2.40" fill="#f52828"/>
<circle cx="108.00" cy="334.60" r="2.40" fill="#f52828"/>
<circle cx="115.33" cy="333.99" r="2.40" fill="#f52828"/>
<circle cx="122.67" cy="333.38" r="2.40" fill="#f52828"/>
<circle cx="130.00" cy="332.76" r="2.40" fill="#f52828"/>
<circle cx="137.33" cy="332.15" r="2.40" fill="#f52828"/>
<circle cx="144.67" cy="331.53" r="2.40" fill="#f52828"/>
<circle cx="152.00" cy="330.92" r="2.40" fill="#f52828"/>
<circle cx="159.33" cy="330.29" r="2.40" fill="#f52828"/>
<circle cx="166.67" cy="329.67" r="2.40" fill="#f52828"/>
<circle cx="174.00" cy="329.05" r="2.40" fill="#f52828"/>
<circle cx="181.33" cy="328.43" r="2.40" fill="#f52828"/>
<circle cx="188.67" cy="327.81" r="2.40" fill="#f52828"/>
<circle cx="196.00" cy="327.19" r="2.40" fill="#f52828"/>
<circle cx="203.33" cy="326.57" r="2.40" fill="#f52828"/>
<circle cx="210.67" cy="325.95" r="2.40" fill="#f52828"/>
<circle cx="218.00" cy="325.25" r="2.40" fill="#f52828"/>
<circle cx="225.33" cy="324.55" r="2.40" fill="#f52828"/>
<circle cx="232.67" cy="323.85" r="2.40" fill="#f52828"/>
<circle cx="240.00" cy="323.13" r="2.40" fill="#f52828"/>
<circle cx="247.33" cy="322.04" r="2.40" fill="#f52828"/>
<circle cx="254.67" cy="319.81" r="2.40" fill="#f52828"/>
<circle cx="262.00" cy="296.00" r="2.40" fill="#f52828"/>
<polygon points="42.00,339.14 44.73,343.95 39.27,343.95" fill="#1a6fdf"/>
<polygon points="49.33,337.69 52.06,342.50 46.60,342.50" fill="#1a6fdf"/>
<polygon points="56.67,337.16 59.40,341.97 53.94,341.97" fill="#1a6fdf"/>
<polygon points="64.00,336.66 66.73,341.47 61.27,341.47" fill="#1a6fdf"/>
<polygon points="71.33,336.16 74.06,340.97 68.60,340.97" fill="#1a6fdf"/>
<polygon points="78.67,335.66 81.40,340.47 75.94,340.47" fill="#1a6fdf"/>
<polygon points="86.00,335.16 88.73,339.97 83.27,339.97" fill="#1a6fdf"/>
<polygon points="93.33,334.66 96.06,339.47 90.60,339.47" fill="#1a6fdf"/>
<polygon points="100.67,334.17 103.40,338.98 97.94,338.98" fill="#1a6fdf"/>
<polygon points="108.00,333.67 110.73,338.48 105.27,338.48" fill="#1a6fdf"/>
<polygon points="115.33,333.17 118.06,337.98 112.60,337.98" fill="#1a6fdf"/>
<polygon points="122.67,332.67 125.40,337.48 119.94,337.48" fill="#1a6fdf"/>
<polygon points="130.00,332.17 132.73,336.98 127.27,336.98" fill="#1a6fdf"/>
<polygon points="137.33,331.67 140.06,336.48 134.60,336.48" fill="#1a6fdf"/>
<polygon points="144.67,331.17 147.40,335.98 141.94,335.98" fill="#1a6fdf"/>
<polygon points="152.00,330.67 154.73,335.48 149.27,335.48" fill="#1a6fdf"/>
<polygon points="159.33,330.13 162.06,334.94 156.60,334.94" fill="#1a6fdf"/>
<polygon points="166.67,329.60 169.40,334.41 163.94,334.41" fill="#1a6fdf"/>
<polygon points="174.00,329.07 176.73,333.88 171.27,333.88" fill="#1a6fdf"/>
<polygon points="181.33,328.53 184.06,333.34 178.60,333.34" fill="#1a6fdf"/>
<polygon points="188.67,328.00 191.40,332.81 185.94,332.81" fill="#1a6fdf"/>
<polygon points="196.00,327.47 198.73,332.28 193.27,332.28" fill="#1a6fdf"/>
<polygon points="203.33,326.93 206.06,331.74 200.60,331.74" fill="#1a6fdf"/>
<polygon points="210.67,326.49 213.40,331.30 207.94,331.30" fill="#1a6fdf"/>
<polygon points="218.00,327.13 220.73,331.94 215.27,331.94" fill="#1a6fdf"/>
<polygon points="225.33,326.88 228.06,331.69 222.60,331.69" fill="#1a6fdf"/>
<polygon points="232.67,326.63 235.40,331.44 229.94,331.44" fill="#1a6fdf"/>
<polygon points="240.00,326.38 242.73,331.19 237.27,331.19" fill="#1a6fdf"/>
<polygon points="247.33,326.03 250.06,330.84 244.60,330.84" fill="#1a6fdf"/>
<polygon points="254.67,322.95 257.40,327.76 251.94,327.76" fill="#1a6fdf"/>
<polygon points="262.00,305.14 264.73,309.95 259.27,309.95" fill="#1a6fdf"/>
<polygon points="42.00,343.86 44.73,339.05 39.27,339.05" fill="#0f9d58"/>
<polygon points="49.33,341.93 52.06,337.12 46.60,337.12" fill="#0f9d58"/>
<polygon points="56.67,341.30 59.40,336.49 53.94,336.49" fill="#0f9d58"/>
<polygon points="64.00,340.72 66.73,335.91 61.27,335.91" fill="#0f9d58"/>
<polygon points="71.33,340.15 74.06,335.34 68.60,335.34" fill="#0f9d58"/>
<polygon points="78.67,339.57 81.40,334.76 75.94,334.76" fill="#0f9d58"/>
<polygon points="86.00,338.99 88.73,334.18 83.27,334.18" fill="#0f9d58"/>
<polygon points="93.33,338.41 96.06,333.60 90.60,333.60" fill="#0f9d58"/>
<polygon points="100.67,337.83 103.40,333.02 97.94,333.02" fill="#0f9d58"/>
<polygon points="108.00,337.25 110.73,332.44 105.27,332.44" fill="#0f9d58"/>
<polygon points="115.33,336.67 118.06,331.86 112.60,331.86" fill="#0f9d58"/>
<polygon points="122.67,336.10 125.40,331.29 119.94,331.29" fill="#0f9d58"/>
<polygon points="130.00,335.52 132.73,330.71 127.27,330.71" fill="#0f9d58"/>
<polygon points="137.33,334.94 140.06,330.13 134.60,330.13" fill="#0f9d58"/>
<polygon points="144.67,334.36 147.40,329.55 141.94,329.55" fill="#0f9d58"/>
<polygon points="152.00,333.76 154.73,328.95 149.27,328.95" fill="#0f9d58"/>
<polygon points="159.33,333.01 162.06,328.20 156.60,328.20" fill="#0f9d58"/>
<polygon points="166.67,332.27 169.40,327.46 163.94,327.46" fill="#0f9d58"/>
<polygon points="174.00,331.52 176.73,326.71 171.27,326.71" fill="#0f9d58"/>
<polygon points="181.33,330.78 184.06,325.97 178.60,325.97" fill="#0f9d58"/>
<polygon points="188.67,330.04 191.40,325.23 185.94,325.23" fill="#0f9d58"/>
<polygon points="196.00,329.29 198.73,324.48 193.27,324.48" fill="#0f9d58"/>
<polygon points="203.33,328.55 206.06,323.74 200.60,323.74" fill="#0f9d58"/>
<polygon points="210.67,327.57 213.40,322.76 207.94,322.76" fill="#0f9d58"/>
<polygon points="218.00,323.81 220.73,319.00 215.27,319.00" fill="#0f9d58"/>
<polygon points="225.33,321.78 228.06,316.97 222.60,316.97" fill="#0f9d58"/>
<polygon points="232.67,317.83 235.40,313.02 229.94,313.02" fill="#0f9d58"/>
<polygon points="240.00,314.12 242.73,309.31 237.27,309.31" fill="#0f9d58"/>
<polygon points="247.33,309.13 250.06,304.32 244.60,304.32" fill="#0f9d58"/>
<polygon points="254.67,303.55 257.40,298.74 251.94,298.74" fill="#0f9d58"/>
<polygon points="262.00,289.36 264.73,284.55 259.27,284.55" fill="#0f9d58"/>
<polygon points="42.00,338.51 44.99,341.50 42.00,344.49 39.01,341.50" fill="#b46ee8"/>
<polygon points="49.33,336.77 52.32,339.76 49.33,342.75 46.34,339.76" fill="#b46ee8"/>
<polygon points="56.67,336.14 59.66,339.13 56.67,342.12 53.68,339.13" fill="#b46ee8"/>
<polygon points="64.00,335.55 66.99,338.54 64.00,341.53 61.01,338.54" fill="#b46ee8"/>
<polygon points="71.33,334.95 74.32,337.94 71.33,340.93 68.34,337.94" fill="#b46ee8"/>
<polygon points="78.67,334.36 81.66,337.35 78.67,340.34 75.68,337.35" fill="#b46ee8"/>
<polygon points="86.00,333.77 88.99,336.76 86.00,339.75 83.01,336.76" fill="#b46ee8"/>
<polygon points="93.33,333.17 96.32,336.16 93.33,339.15 90.34,336.16" fill="#b46ee8"/>
<polygon points="100.67,332.58 103.66,335.57 100.67,338.56 97.68,335.57" fill="#b46ee8"/>
<polygon points="108.00,331.99 110.99,334.98 108.00,337.97 105.01,334.98" fill="#b46ee8"/>
<polygon points="115.33,331.39 118.32,334.38 115.33,337.37 112.34,334.38" fill="#b46ee8"/>
<polygon points="122.67,330.80 125.66,333.79 122.67,336.78 119.68,333.79" fill="#b46ee8"/>
<polygon points="130.00,330.21 132.99,333.20 130.00,336.19 127.01,333.20" fill="#b46ee8"/>
<polygon points="137.33,329.62 140.32,332.61 137.33,335.60 134.34,332.61" fill="#b46ee8"/>
<polygon points="144.67,329.02 147.66,332.01 144.67,335.00 141.68,332.01" fill="#b46ee8"/>
<polygon points="152.00,328.43 154.99,331.42 152.00,334.41 149.01,331.42" fill="#b46ee8"/>
<polygon points="159.33,327.83 162.32,330.82 159.33,333.81 156.34,330.82" fill="#b46ee8"/>
<polygon points="166.67,327.24 169.66,330.23 166.67,333.22 163.68,330.23" fill="#b46ee8"/>
<polygon points="174.00,326.64 176.99,329.63 174.00,332.62 171.01,329.63" fill="#b46ee8"/>
<polygon points="181.33,326.05 184.32,329.04 181.33,332.03 178.34,329.04" fill="#b46ee8"/>
<polygon points="188.67,325.45 191.66,328.44 188.67,331.43 185.68,328.44" fill="#b46ee8"/>
<polygon points="196.00,324.86 198.99,327.85 196.00,330.84 193.01,327.85" fill="#b46ee8"/>
<polygon points="203.33,324.26 206.32,327.25 203.33,330.24 200.34,327.25" fill="#b46ee8"/>
<polygon points="210.67,323.69 213.66,326.68 210.67,329.67 207.68,326.68" fill="#b46ee8"/>
<polygon points="218.00,323.40 220.99,326.39 218.00,329.38 215.01,326.39" fill="#b46ee8"/>
<polygon points="225.33,323.17 228.32,326.16 225.33,329.15 222.34,326.16" fill="#b46ee8"/>
<polygon points="232.67,322.93 235.66,325.92 232.67,328.91 229.68,325.92" fill="#b46ee8"/>
<polygon points="240.00,322.54 242.99,325.53 240.00,328.52 237.01,325.53" fill="#b46ee8"/>
<polygon points="247.33,320.21 250.32,323.20 247.33,326.19 244.34,323.20" fill="#b46ee8"/>
<polygon points="254.67,319.22 257.66,322.21 254.67,325.20 251.68,322.21" fill="#b46ee8"/>
<polygon points="262.00,299.51 264.99,302.50 262.00,305.49 259.01,302.50" fill="#b46ee8"/>
<polygon points="42.00,337.27 44.60,339.16 43.60,342.21 40.40,342.21 39.40,339.16" fill="#dc8e0c"/>
<polygon points="49.33,335.34 51.93,337.23 50.94,340.28 47.73,340.28 46.74,337.23" fill="#dc8e0c"/>
<polygon points="56.67,334.75 59.26,336.64 58.27,339.69 55.06,339.69 54.07,336.64" fill="#dc8e0c"/>
<polygon points="64.00,334.22 66.60,336.11 65.60,339.16 62.40,339.16 61.40,336.11" fill="#dc8e0c"/>
<polygon points="71.33,333.68 73.93,335.57 72.94,338.62 69.73,338.62 68.74,335.57" fill="#dc8e0c"/>
<polygon points="78.67,333.15 81.26,335.04 80.27,338.09 77.06,338.09 76.07,335.04" fill="#dc8e0c"/>
<polygon points="86.00,332.61 88.60,334.50 87.60,337.55 84.40,337.55 83.40,334.50" fill="#dc8e0c"/>
<polygon points="93.33,332.08 95.93,333.96 94.94,337.02 91.73,337.02 90.74,333.96" fill="#dc8e0c"/>
<polygon points="100.67,331.54 103.26,333.43 102.27,336.48 99.06,336.48 98.07,333.43" fill="#dc8e0c"/>
<polygon points="108.00,331.01 110.60,332.89 109.60,335.95 106.40,335.95 105.40,332.89" fill="#dc8e0c"/>
<polygon points="115.33,330.47 117.93,332.36 116.94,335.41 113.73,335.41 112.74,332.36" fill="#dc8e0c"/>
<polygon points="122.67,329.94 125.26,331.82 124.27,334.88 121.06,334.88 120.07,331.82" fill="#dc8e0c"/>
<polygon points="130.00,329.40 132.60,331.29 131.60,334.34 128.40,334.34 127.40,331.29" fill="#dc8e0c"/>
<polygon points="137.33,328.87 139.93,330.75 138.94,333.81 135.73,333.81 134.74,330.75" fill="#dc8e0c"/>
<polygon points="144.67,328.33 147.26,330.22 146.27,333.27 143.06,333.27 142.07,330.22" fill="#dc8e0c"/>
<polygon points="152.00,327.79 154.60,329.67 153.60,332.73 150.40,332.73 149.40,329.67" fill="#dc8e0c"/>
<polygon points="159.33,327.18 161.93,329.07 160.94,332.12 157.73,332.12 156.74,329.07" fill="#dc8e0c"/>
<polygon points="166.67,326.57 169.26,328.46 168.27,331.51 165.06,331.51 164.07,328.46" fill="#dc8e0c"/>
<polygon points="174.00,325.96 176.60,327.85 175.60,330.90 172.40,330.90 171.40,327.85" fill="#dc8e0c"/>
<polygon points="181.33,325.36 183.93,327.24 182.94,330.29 179.73,330.29 178.74,327.24" fill="#dc8e0c"/>
<polygon points="188.67,324.75 191.26,326.63 190.27,329.69 187.06,329.69 186.07,326.63" fill="#dc8e0c"/>
<polygon points="196.00,324.14 198.60,326.03 197.60,329.08 194.40,329.08 193.40,326.03" fill="#dc8e0c"/>
<polygon points="203.33,323.53 205.93,325.42 204.94,328.47 201.73,328.47 200.74,325.42" fill="#dc8e0c"/>
<polygon points="210.67,322.86 213.26,324.75 212.27,327.80 209.06,327.80 208.07,324.75" fill="#dc8e0c"/>
<polygon points="218.00,321.43 220.60,323.32 219.60,326.37 216.40,326.37 215.40,323.32" fill="#dc8e0c"/>
<polygon points="225.33,319.94 227.93,321.82 226.94,324.87 223.73,324.87 222.74,321.82" fill="#dc8e0c"/>
<polygon points="232.67,317.01 235.26,318.90 234.27,321.95 231.06,321.95 230.07,318.90" fill="#dc8e0c"/>
<polygon points="240.00,314.46 242.60,316.35 241.60,319.40 238.40,319.40 237.40,316.35" fill="#dc8e0c"/>
<polygon points="247.33,311.37 249.93,313.26 248.94,316.31 245.73,316.31 244.74,313.26" fill="#dc8e0c"/>
<polygon points="254.67,306.50 257.26,308.38 256.27,311.44 253.06,311.44 252.07,308.38" fill="#dc8e0c"/>
<polygon points="262.00,291.07 264.60,292.96 263.60,296.01 260.40,296.01 259.40,292.96" fill="#dc8e0c"/>
<polygon points="42.00,349.88 42.76,351.95 44.97,352.04 43.24,353.40 43.83,355.52 42.00,354.30 40.17,355.52 40.76,353.40 39.03,352.04 41.24,351.95" fill="#19c6d6"/>
<polygon points="49.33,348.92 50.10,350.98 52.30,351.07 50.57,352.44 51.17,354.56 49.33,353.34 47.50,354.56 48.10,352.44 46.37,351.07 48.57,350.98" fill="#19c6d6"/>
<polygon points="56.67,348.25 57.43,350.32 59.63,350.41 57.90,351.77 58.50,353.90 56.67,352.67 54.83,353.90 55.43,351.77 53.70,350.41 55.90,350.32" fill="#19c6d6"/>
<polygon points="64.00,347.60 64.76,349.67 66.97,349.76 65.24,351.12 65.83,353.25 64.00,352.02 62.17,353.25 62.76,351.12 61.03,349.76 63.24,349.67" fill="#19c6d6"/>
<polygon points="71.33,346.95 72.10,349.02 74.30,349.11 72.57,350.47 73.17,352.60 71.33,351.37 69.50,352.60 70.10,350.47 68.37,349.11 70.57,349.02" fill="#19c6d6"/>
<polygon points="78.67,346.30 79.43,348.37 81.63,348.46 79.90,349.82 80.50,351.94 78.67,350.72 76.83,351.94 77.43,349.82 75.70,348.46 77.90,348.37" fill="#19c6d6"/>
<polygon points="86.00,345.65 86.76,347.72 88.97,347.81 87.24,349.17 87.83,351.29 86.00,350.07 84.17,351.29 84.76,349.17 83.03,347.81 85.24,347.72" fill="#19c6d6"/>
<polygon points="93.33,345.00 94.10,347.07 96.30,347.15 94.57,348.52 95.17,350.64 93.33,349.42 91.50,350.64 92.10,348.52 90.37,347.15 92.57,347.07" fill="#19c6d6"/>
<polygon points="100.67,344.35 101.43,346.42 103.63,346.50 101.90,347.87 102.50,349.99 100.67,348.77 98.83,349.99 99.43,347.87 97.70,346.50 99.90,346.42" fill="#19c6d6"/>
<polygon points="108.00,343.70 108.76,345.76 110.97,345.85 109.24,347.22 109.83,349.34 108.00,348.12 106.17,349.34 106.76,347.22 105.03,345.85 107.24,345.76" fill="#19c6d6"/>
<polygon points="115.33,343.05 116.10,345.11 118.30,345.20 116.57,346.57 117.17,348.69 115.33,347.47 113.50,348.69 114.10,346.57 112.37,345.20 114.57,345.11" fill="#19c6d6"/>
<polygon points="122.67,342.39 123.43,344.46 125.63,344.55 123.90,345.92 124.50,348.04 122.67,346.81 120.83,348.04 121.43,345.92 119.70,344.55 121.90,344.46" fill="#19c6d6"/>
<polygon points="130.00,341.74 130.76,343.81 132.97,343.90 131.24,345.27 131.83,347.39 130.00,346.16 128.17,347.39 128.76,345.27 127.03,343.90 129.24,343.81" fill="#19c6d6"/>
<polygon points="137.33,341.09 138.10,343.16 140.30,343.25 138.57,344.61 139.17,346.74 137.33,345.51 135.50,346.74 136.10,344.61 134.37,343.25 136.57,343.16" fill="#19c6d6"/>
<polygon points="144.67,340.44 145.43,342.51 147.63,342.60 145.90,343.96 146.50,346.09 144.67,344.86 142.83,346.09 143.43,343.96 141.70,342.60 143.90,342.51" fill="#19c6d6"/>
<polygon points="152.00,339.76 152.76,341.83 154.97,341.92 153.24,343.28 153.83,345.40 152.00,344.18 150.17,345.40 150.76,343.28 149.03,341.92 151.24,341.83" fill="#19c6d6"/>
<polygon points="159.33,338.88 160.10,340.95 162.30,341.04 160.57,342.41 161.17,344.53 159.33,343.30 157.50,344.53 158.10,342.41 156.37,341.04 158.57,340.95" fill="#19c6d6"/>
<polygon points="166.67,338.01 167.43,340.07 169.63,340.16 167.90,341.53 168.50,343.65 166.67,342.43 164.83,343.65 165.43,341.53 163.70,340.16 165.90,340.07" fill="#19c6d6"/>
<polygon points="174.00,337.13 174.76,339.20 176.97,339.29 175.24,340.65 175.83,342.77 174.00,341.55 172.17,342.77 172.76,340.65 171.03,339.29 173.24,339.20" fill="#19c6d6"/>
<polygon points="181.33,336.25 182.10,338.31 184.30,338.40 182.57,339.77 183.17,341.89 181.33,340.67 179.50,341.89 180.10,339.77 178.37,338.40 180.57,338.31" fill="#19c6d6"/>
<polygon points="188.67,335.18 189.43,337.25 191.63,337.34 189.90,338.71 190.50,340.83 188.67,339.60 186.83,340.83 187.43,338.71 185.70,337.34 187.90,337.25" fill="#19c6d6"/>
<polygon points="196.00,334.12 196.76,336.19 198.97,336.28 197.24,337.64 197.83,339.77 196.00,338.54 194.17,339.77 194.76,337.64 193.03,336.28 195.24,336.19" fill="#19c6d6"/>
<polygon points="203.33,333.04 204.10,335.10 206.30,335.19 204.57,336.56 205.17,338.68 203.33,337.46 201.50,338.68 202.10,336.56 200.37,335.19 202.57,335.10" fill="#19c6d6"/>
<polygon points="210.67,330.49 211.43,332.56 213.63,332.65 211.90,334.01 212.50,336.14 210.67,334.91 208.83,336.14 209.43,334.01 207.70,332.65 209.90,332.56" fill="#19c6d6"/>
<polygon points="218.00,326.82 218.76,328.89 220.97,328.97 219.24,330.34 219.83,332.46 218.00,331.24 216.17,332.46 216.76,330.34 215.03,328.97 217.24,328.89" fill="#19c6d6"/>
<polygon points="225.33,324.46 226.10,326.53 228.30,326.61 226.57,327.98 227.17,330.10 225.33,328.88 223.50,330.10 224.10,327.98 222.37,326.61 224.57,326.53" fill="#19c6d6"/>
<polygon points="232.67,319.59 233.43,321.65 235.63,321.74 233.90,323.11 234.50,325.23 232.67,324.01 230.83,325.23 231.43,323.11 229.70,321.74 231.90,321.65" fill="#19c6d6"/>
<polygon points="240.00,314.85 240.76,316.91 242.97,317.00 241.24,318.37 241.83,320.49 240.00,319.27 238.17,320.49 238.76,318.37 237.03,317.00 239.24,316.91" fill="#19c6d6"/>
<polygon points="247.33,308.50 248.10,310.57 250.30,310.66 248.57,312.02 249.17,314.15 247.33,312.92 245.50,314.15 246.10,312.02 244.37,310.66 246.57,310.57" fill="#19c6d6"/>
<polygon points="254.67,301.90 255.43,303.97 257.63,304.05 255.90,305.42 256.50,307.54 254.67,306.32 252.83,307.54 253.43,305.42 251.70,304.05 253.90,303.97" fill="#19c6d6"/>
<polygon points="262.00,286.28 262.76,288.35 264.97,288.44 263.24,289.80 263.83,291.92 262.00,290.70 260.17,291.92 260.76,289.80 259.03,288.44 261.24,288.35" fill="#19c6d6"/>
</g>
<rect x="42.0" y="232.8" width="219.50" height="177.40" fill="none" stroke="#2a2a2a" stroke-width="1.3"/>
<line x1="42.00" y1="410.20" x2="42.00" y2="413.20" stroke="#262626" stroke-width="1"/>
<line x1="64.08" y1="410.20" x2="64.08" y2="411.80" stroke="#262626" stroke-width="0.8"/>
<line x1="76.99" y1="410.20" x2="76.99" y2="411.80" stroke="#262626" stroke-width="0.8"/>
<line x1="86.15" y1="410.20" x2="86.15" y2="411.80" stroke="#262626" stroke-width="0.8"/>
<line x1="93.26" y1="410.20" x2="93.26" y2="411.80" stroke="#262626" stroke-width="0.8"/>
<line x1="99.06" y1="410.20" x2="99.06" y2="411.80" stroke="#262626" stroke-width="0.8"/>
<line x1="103.97" y1="410.20" x2="103.97" y2="411.80" stroke="#262626" stroke-width="0.8"/>
<line x1="108.23" y1="410.20" x2="108.23" y2="411.80" stroke="#262626" stroke-width="0.8"/>
<line x1="111.98" y1="410.20" x2="111.98" y2="411.80" stroke="#262626" stroke-width="0.8"/>
<line x1="115.33" y1="410.20" x2="115.33" y2="413.20" stroke="#262626" stroke-width="1"/>
<line x1="137.41" y1="410.20" x2="137.41" y2="411.80" stroke="#262626" stroke-width="0.8"/>
<line x1="150.32" y1="410.20" x2="150.32" y2="411.80" stroke="#262626" stroke-width="0.8"/>
<line x1="159.48" y1="410.20" x2="159.48" y2="411.80" stroke="#262626" stroke-width="0.8"/>
<line x1="166.59" y1="410.20" x2="166.59" y2="411.80" stroke="#262626" stroke-width="0.8"/>
<line x1="172.40" y1="410.20" x2="172.40" y2="411.80" stroke="#262626" stroke-width="0.8"/>
<line x1="177.31" y1="410.20" x2="177.31" y2="411.80" stroke="#262626" stroke-width="0.8"/>
<line x1="181.56" y1="410.20" x2="181.56" y2="411.80" stroke="#262626" stroke-width="0.8"/>
<line x1="185.31" y1="410.20" x2="185.31" y2="411.80" stroke="#262626" stroke-width="0.8"/>
<line x1="188.67" y1="410.20" x2="188.67" y2="413.20" stroke="#262626" stroke-width="1"/>
<line x1="210.74" y1="410.20" x2="210.74" y2="411.80" stroke="#262626" stroke-width="0.8"/>
<line x1="223.66" y1="410.20" x2="223.66" y2="411.80" stroke="#262626" stroke-width="0.8"/>
<line x1="232.82" y1="410.20" x2="232.82" y2="411.80" stroke="#262626" stroke-width="0.8"/>
<line x1="239.92" y1="410.20" x2="239.92" y2="411.80" stroke="#262626" stroke-width="0.8"/>
<line x1="245.73" y1="410.20" x2="245.73" y2="411.80" stroke="#262626" stroke-width="0.8"/>
<line x1="250.64" y1="410.20" x2="250.64" y2="411.80" stroke="#262626" stroke-width="0.8"/>
<line x1="254.89" y1="410.20" x2="254.89" y2="411.80" stroke="#262626" stroke-width="0.8"/>
<line x1="258.64" y1="410.20" x2="258.64" y2="411.80" stroke="#262626" stroke-width="0.8"/>
<line x1="262.00" y1="410.20" x2="262.00" y2="413.20" stroke="#262626" stroke-width="1"/>
<line x1="42.00" y1="410.20" x2="39.00" y2="410.20" stroke="#262626" stroke-width="1"/>
<line x1="42.00" y1="396.86" x2="40.40" y2="396.86" stroke="#262626" stroke-width="0.8"/>
<line x1="42.00" y1="389.06" x2="40.40" y2="389.06" stroke="#262626" stroke-width="0.8"/>
<line x1="42.00" y1="383.53" x2="40.40" y2="383.53" stroke="#262626" stroke-width="0.8"/>
<line x1="42.00" y1="379.24" x2="40.40" y2="379.24" stroke="#262626" stroke-width="0.8"/>
<line x1="42.00" y1="375.73" x2="40.40" y2="375.73" stroke="#262626" stroke-width="0.8"/>
<line x1="42.00" y1="372.76" x2="40.40" y2="372.76" stroke="#262626" stroke-width="0.8"/>
<line x1="42.00" y1="370.19" x2="40.40" y2="370.19" stroke="#262626" stroke-width="0.8"/>
<line x1="42.00" y1="367.93" x2="40.40" y2="367.93" stroke="#262626" stroke-width="0.8"/>
<line x1="42.00" y1="365.90" x2="39.00" y2="365.90" stroke="#262626" stroke-width="1"/>
<line x1="42.00" y1="352.56" x2="40.40" y2="352.56" stroke="#262626" stroke-width="0.8"/>
<line x1="42.00" y1="344.76" x2="40.40" y2="344.76" stroke="#262626" stroke-width="0.8"/>
<line x1="42.00" y1="339.23" x2="40.40" y2="339.23" stroke="#262626" stroke-width="0.8"/>
<line x1="42.00" y1="334.94" x2="40.40" y2="334.94" stroke="#262626" stroke-width="0.8"/>
<line x1="42.00" y1="331.43" x2="40.40" y2="331.43" stroke="#262626" stroke-width="0.8"/>
<line x1="42.00" y1="328.46" x2="40.40" y2="328.46" stroke="#262626" stroke-width="0.8"/>
<line x1="42.00" y1="325.89" x2="40.40" y2="325.89" stroke="#262626" stroke-width="0.8"/>
<line x1="42.00" y1="323.63" x2="40.40" y2="323.63" stroke="#262626" stroke-width="0.8"/>
<line x1="42.00" y1="321.60" x2="39.00" y2="321.60" stroke="#262626" stroke-width="1"/>
<line x1="42.00" y1="308.26" x2="40.40" y2="308.26" stroke="#262626" stroke-width="0.8"/>
<line x1="42.00" y1="300.46" x2="40.40" y2="300.46" stroke="#262626" stroke-width="0.8"/>
<line x1="42.00" y1="294.93" x2="40.40" y2="294.93" stroke="#262626" stroke-width="0.8"/>
<line x1="42.00" y1="290.64" x2="40.40" y2="290.64" stroke="#262626" stroke-width="0.8"/>
<line x1="42.00" y1="287.13" x2="40.40" y2="287.13" stroke="#262626" stroke-width="0.8"/>
<line x1="42.00" y1="284.16" x2="40.40" y2="284.16" stroke="#262626" stroke-width="0.8"/>
<line x1="42.00" y1="281.59" x2="40.40" y2="281.59" stroke="#262626" stroke-width="0.8"/>
<line x1="42.00" y1="279.33" x2="40.40" y2="279.33" stroke="#262626" stroke-width="0.8"/>
<line x1="42.00" y1="277.30" x2="39.00" y2="277.30" stroke="#262626" stroke-width="1"/>
<line x1="42.00" y1="263.96" x2="40.40" y2="263.96" stroke="#262626" stroke-width="0.8"/>
<line x1="42.00" y1="256.16" x2="40.40" y2="256.16" stroke="#262626" stroke-width="0.8"/>
<line x1="42.00" y1="250.63" x2="40.40" y2="250.63" stroke="#262626" stroke-width="0.8"/>
<line x1="42.00" y1="246.34" x2="40.40" y2="246.34" stroke="#262626" stroke-width="0.8"/>
<line x1="42.00" y1="242.83" x2="40.40" y2="242.83" stroke="#262626" stroke-width="0.8"/>
<line x1="42.00" y1="239.86" x2="40.40" y2="239.86" stroke="#262626" stroke-width="0.8"/>
<line x1="42.00" y1="237.29" x2="40.40" y2="237.29" stroke="#262626" stroke-width="0.8"/>
<line x1="42.00" y1="235.03" x2="40.40" y2="235.03" stroke="#262626" stroke-width="0.8"/>
<line x1="42.00" y1="233.00" x2="39.00" y2="233.00" stroke="#262626" stroke-width="1"/>
<text x="35.50" y="414.13" font-size="9.8" text-anchor="end">10<tspan font-size="6.72" dx="0.4" dy="-4.41">1</tspan></text>
<text x="35.50" y="369.83" font-size="9.8" text-anchor="end">10<tspan font-size="6.72" dx="0.4" dy="-4.41">2</tspan></text>
<text x="35.50" y="325.53" font-size="9.8" text-anchor="end">10<tspan font-size="6.72" dx="0.4" dy="-4.41">3</tspan></text>
<text x="35.50" y="281.23" font-size="9.8" text-anchor="end">10<tspan font-size="6.72" dx="0.4" dy="-4.41">4</tspan></text>
<text x="35.50" y="236.93" font-size="9.8" text-anchor="end">10<tspan font-size="6.72" dx="0.4" dy="-4.41">5</tspan></text>
<text x="42.00" y="424.80" font-size="10" text-anchor="middle" >0.1</text>
<text x="115.33" y="424.80" font-size="10" text-anchor="middle" >1</text>
<text x="188.67" y="424.80" font-size="10" text-anchor="middle" >10</text>
<text x="262.00" y="424.80" font-size="10" text-anchor="middle" >100</text>
<text x="152.00" y="439.50" font-size="15" text-anchor="middle" >Frequency (Hz)</text>
<text transform="translate(16.00,321.40) rotate(-90)" font-size="14.9" text-anchor="middle" xml:space="preserve">G'  (Pa)&amp;G'' (Pa)</text>
<text x="6.00" y="238.60" font-size="16" text-anchor="start" >C</text>
<rect x="48.50" y="237.60" width="4.40" height="4.40" fill="#3a3a3a"/>
<text x="63.00" y="243.20" font-size="10.25" text-anchor="start" >G'</text>
<rect x="81.10" y="237.50" width="4.60" height="4.60" fill="none" stroke="#757575" stroke-width="0.8"/>
<text x="95.50" y="243.20" font-size="10.25" text-anchor="start" xml:space="preserve">G'' WalPI-WPI 9:1</text>
<circle cx="50.70" cy="252.75" r="2.80" fill="#f52828"/>
<text x="63.00" y="256.15" font-size="10.25" text-anchor="start" >G'</text>
<circle cx="83.40" cy="252.75" r="3.10" fill="none" stroke="#f86868" stroke-width="0.8"/>
<text x="95.50" y="256.15" font-size="10.25" text-anchor="start" xml:space="preserve">G'' WalPI-WPI 8:2</text>
<polygon points="50.70,262.62 53.64,267.80 47.76,267.80" fill="#1a6fdf"/>
<text x="63.00" y="269.10" font-size="10.25" text-anchor="start" >G'</text>
<polygon points="83.40,262.29 86.66,268.02 80.15,268.02" fill="none" stroke="#5e9ae8" stroke-width="0.8"/>
<text x="95.50" y="269.10" font-size="10.25" text-anchor="start" xml:space="preserve">G'' WalPI-WPI 7:3</text>
<polygon points="50.70,281.73 53.64,276.55 47.76,276.55" fill="#0f9d58"/>
<text x="63.00" y="282.05" font-size="10.25" text-anchor="start" >G'</text>
<polygon points="83.40,282.06 86.66,276.32 80.15,276.32" fill="none" stroke="#57ba8a" stroke-width="0.8"/>
<text x="95.50" y="282.05" font-size="10.25" text-anchor="start" xml:space="preserve">G'' WalPI-WPI 6:4</text>
<polygon points="50.70,288.38 53.92,291.60 50.70,294.82 47.48,291.60" fill="#b46ee8"/>
<text x="63.00" y="295.00" font-size="10.25" text-anchor="start" >G'</text>
<polygon points="83.40,288.04 86.97,291.60 83.40,295.17 79.84,291.60" fill="none" stroke="#ca99ee" stroke-width="0.8"/>
<text x="95.50" y="295.00" font-size="10.25" text-anchor="start" xml:space="preserve">G'' WalPI-WPI 1:1</text>
<polygon points="50.70,301.61 53.50,303.64 52.43,306.93 48.97,306.93 47.90,303.64" fill="#dc8e0c"/>
<text x="63.00" y="307.95" font-size="10.25" text-anchor="start" >G'</text>
<polygon points="83.40,301.30 86.50,303.54 85.31,307.18 81.49,307.18 80.30,303.54" fill="none" stroke="#e6af54" stroke-width="0.8"/>
<text x="95.50" y="307.95" font-size="10.25" text-anchor="start" xml:space="preserve">G'' nano-WalPI</text>
<polygon points="50.70,314.14 51.52,316.37 53.90,316.46 52.03,317.93 52.67,320.22 50.70,318.90 48.73,320.22 49.37,317.93 47.50,316.46 49.88,316.37" fill="#19c6d6"/>
<text x="63.00" y="320.90" font-size="10.25" text-anchor="start" >G'</text>
<polygon points="83.40,313.78 84.31,316.25 86.94,316.35 84.87,317.98 85.59,320.51 83.40,319.05 81.21,320.51 81.93,317.98 79.86,316.35 82.49,316.25" fill="none" stroke="#5ed7e2" stroke-width="0.8"/>
<text x="95.50" y="320.90" font-size="10.25" text-anchor="start" xml:space="preserve">G'' nano-WPI</text>
<clipPath id="cd"><rect x="312.3" y="232.6" width="223.3" height="179.6"/></clipPath>
<g clip-path="url(#cd)">
<rect x="321.82" y="258.65" width="3.30" height="3.30" fill="#3a3a3a"/>
<rect x="325.88" y="258.58" width="3.30" height="3.30" fill="#3a3a3a"/>
<rect x="329.94" y="258.51" width="3.30" height="3.30" fill="#3a3a3a"/>
<rect x="334.00" y="258.44" width="3.30" height="3.30" fill="#3a3a3a"/>
<rect x="338.07" y="258.36" width="3.30" height="3.30" fill="#3a3a3a"/>
<rect x="342.13" y="258.29" width="3.30" height="3.30" fill="#3a3a3a"/>
<rect x="346.19" y="258.22" width="3.30" height="3.30" fill="#3a3a3a"/>
<rect x="350.25" y="258.15" width="3.30" height="3.30" fill="#3a3a3a"/>
<rect x="354.31" y="258.08" width="3.30" height="3.30" fill="#3a3a3a"/>
<rect x="358.38" y="258.01" width="3.30" height="3.30" fill="#3a3a3a"/>
<rect x="362.44" y="257.94" width="3.30" height="3.30" fill="#3a3a3a"/>
<rect x="366.50" y="257.86" width="3.30" height="3.30" fill="#3a3a3a"/>
<rect x="370.56" y="257.79" width="3.30" height="3.30" fill="#3a3a3a"/>
<rect x="374.62" y="257.72" width="3.30" height="3.30" fill="#3a3a3a"/>
<rect x="378.69" y="257.65" width="3.30" height="3.30" fill="#3a3a3a"/>
<circle cx="323.47" cy="295.90" r="1.95" fill="#f52828"/>
<circle cx="327.53" cy="295.74" r="1.95" fill="#f52828"/>
<circle cx="331.59" cy="295.59" r="1.95" fill="#f52828"/>
<circle cx="335.65" cy="295.43" r="1.95" fill="#f52828"/>
<circle cx="339.72" cy="295.27" r="1.95" fill="#f52828"/>
<circle cx="343.78" cy="295.11" r="1.95" fill="#f52828"/>
<circle cx="347.84" cy="294.96" r="1.95" fill="#f52828"/>
<circle cx="351.90" cy="294.80" r="1.95" fill="#f52828"/>
<circle cx="355.96" cy="294.64" r="1.95" fill="#f52828"/>
<circle cx="360.03" cy="294.49" r="1.95" fill="#f52828"/>
<circle cx="364.09" cy="294.33" r="1.95" fill="#f52828"/>
<circle cx="368.15" cy="294.17" r="1.95" fill="#f52828"/>
<circle cx="372.21" cy="294.01" r="1.95" fill="#f52828"/>
<circle cx="376.27" cy="293.86" r="1.95" fill="#f52828"/>
<circle cx="380.34" cy="293.70" r="1.95" fill="#f52828"/>
<polygon points="323.47,269.94 325.72,273.91 321.21,273.91" fill="#1a6fdf"/>
<polygon points="327.53,269.91 329.79,273.89 325.27,273.89" fill="#1a6fdf"/>
<polygon points="331.59,269.89 333.85,273.87 329.33,273.87" fill="#1a6fdf"/>
<polygon points="335.65,269.87 337.91,273.85 333.40,273.85" fill="#1a6fdf"/>
<polygon points="339.72,269.85 341.97,273.83 337.46,273.83" fill="#1a6fdf"/>
<polygon points="343.78,269.83 346.03,273.81 341.52,273.81" fill="#1a6fdf"/>
<polygon points="347.84,269.81 350.10,273.78 345.58,273.78" fill="#1a6fdf"/>
<polygon points="351.90,269.78 354.16,273.76 349.64,273.76" fill="#1a6fdf"/>
<polygon points="355.96,269.76 358.22,273.74 353.71,273.74" fill="#1a6fdf"/>
<polygon points="360.03,269.74 362.28,273.72 357.77,273.72" fill="#1a6fdf"/>
<polygon points="364.09,269.72 366.34,273.70 361.83,273.70" fill="#1a6fdf"/>
<polygon points="368.15,269.70 370.41,273.68 365.89,273.68" fill="#1a6fdf"/>
<polygon points="372.21,269.68 374.47,273.66 369.95,273.66" fill="#1a6fdf"/>
<polygon points="376.27,269.66 378.53,273.63 374.02,273.63" fill="#1a6fdf"/>
<polygon points="380.34,269.63 382.59,273.61 378.08,273.61" fill="#1a6fdf"/>
<polygon points="323.47,285.17 325.72,281.19 321.21,281.19" fill="#0f9d58"/>
<polygon points="327.53,284.96 329.79,280.98 325.27,280.98" fill="#0f9d58"/>
<polygon points="331.59,284.75 333.85,280.77 329.33,280.77" fill="#0f9d58"/>
<polygon points="335.65,284.54 337.91,280.57 333.40,280.57" fill="#0f9d58"/>
<polygon points="339.72,284.34 341.97,280.36 337.46,280.36" fill="#0f9d58"/>
<polygon points="343.78,284.13 346.03,280.15 341.52,280.15" fill="#0f9d58"/>
<polygon points="347.84,283.92 350.10,279.94 345.58,279.94" fill="#0f9d58"/>
<polygon points="351.90,283.72 354.16,279.74 349.64,279.74" fill="#0f9d58"/>
<polygon points="355.96,283.51 358.22,279.53 353.71,279.53" fill="#0f9d58"/>
<polygon points="360.03,283.30 362.28,279.32 357.77,279.32" fill="#0f9d58"/>
<polygon points="364.09,283.09 366.34,279.12 361.83,279.12" fill="#0f9d58"/>
<polygon points="368.15,282.89 370.41,278.91 365.89,278.91" fill="#0f9d58"/>
<polygon points="372.21,282.68 374.47,278.70 369.95,278.70" fill="#0f9d58"/>
<polygon points="376.27,282.47 378.53,278.49 374.02,278.49" fill="#0f9d58"/>
<polygon points="380.34,282.26 382.59,278.29 378.08,278.29" fill="#0f9d58"/>
<polygon points="323.47,288.97 326.00,291.50 323.47,294.03 320.94,291.50" fill="#b46ee8"/>
<polygon points="327.53,288.76 330.06,291.29 327.53,293.82 325.00,291.29" fill="#b46ee8"/>
<polygon points="331.59,288.56 334.12,291.09 331.59,293.62 329.06,291.09" fill="#b46ee8"/>
<polygon points="335.65,288.35 338.18,290.88 335.65,293.41 333.12,290.88" fill="#b46ee8"/>
<polygon points="339.72,288.14 342.25,290.67 339.72,293.20 337.19,290.67" fill="#b46ee8"/>
<polygon points="343.78,287.93 346.31,290.46 343.78,292.99 341.25,290.46" fill="#b46ee8"/>
<polygon points="347.84,287.73 350.37,290.26 347.84,292.79 345.31,290.26" fill="#b46ee8"/>
<polygon points="351.90,287.52 354.43,290.05 351.90,292.58 349.37,290.05" fill="#b46ee8"/>
<polygon points="355.96,287.31 358.49,289.84 355.96,292.37 353.43,289.84" fill="#b46ee8"/>
<polygon points="360.03,287.11 362.56,289.64 360.03,292.17 357.50,289.64" fill="#b46ee8"/>
<polygon points="364.09,286.90 366.62,289.43 364.09,291.96 361.56,289.43" fill="#b46ee8"/>
<polygon points="368.15,286.69 370.68,289.22 368.15,291.75 365.62,289.22" fill="#b46ee8"/>
<polygon points="372.21,286.48 374.74,289.01 372.21,291.54 369.68,289.01" fill="#b46ee8"/>
<polygon points="376.27,286.28 378.80,288.81 376.27,291.34 373.74,288.81" fill="#b46ee8"/>
<polygon points="380.34,286.07 382.87,288.60 380.34,291.13 377.81,288.60" fill="#b46ee8"/>
<polygon points="321.10,291.80 325.08,289.54 325.08,294.06" fill="#dc8e0c"/>
<polygon points="325.16,291.63 329.14,289.37 329.14,293.89" fill="#dc8e0c"/>
<polygon points="329.23,291.46 333.20,289.20 333.20,293.71" fill="#dc8e0c"/>
<polygon points="333.29,291.29 337.27,289.03 337.27,293.54" fill="#dc8e0c"/>
<polygon points="337.35,291.11 341.33,288.86 341.33,293.37" fill="#dc8e0c"/>
<polygon points="341.41,290.94 345.39,288.69 345.39,293.20" fill="#dc8e0c"/>
<polygon points="345.47,290.77 349.45,288.51 349.45,293.03" fill="#dc8e0c"/>
<polygon points="349.54,290.60 353.51,288.34 353.51,292.86" fill="#dc8e0c"/>
<polygon points="353.60,290.43 357.58,288.17 357.58,292.69" fill="#dc8e0c"/>
<polygon points="357.66,290.26 361.64,288.00 361.64,292.51" fill="#dc8e0c"/>
<polygon points="361.72,290.09 365.70,287.83 365.70,292.34" fill="#dc8e0c"/>
<polygon points="365.78,289.91 369.76,287.66 369.76,292.17" fill="#dc8e0c"/>
<polygon points="369.85,289.74 373.82,287.49 373.82,292.00" fill="#dc8e0c"/>
<polygon points="373.91,289.57 377.89,287.31 377.89,291.83" fill="#dc8e0c"/>
<polygon points="377.97,289.40 381.95,287.14 381.95,291.66" fill="#dc8e0c"/>
<polygon points="325.83,279.20 321.85,276.94 321.85,281.46" fill="#19c6d6"/>
<polygon points="329.89,279.19 325.92,276.93 325.92,281.44" fill="#19c6d6"/>
<polygon points="333.96,279.17 329.98,276.91 329.98,281.43" fill="#19c6d6"/>
<polygon points="338.02,279.16 334.04,276.90 334.04,281.41" fill="#19c6d6"/>
<polygon points="342.08,279.14 338.10,276.89 338.10,281.40" fill="#19c6d6"/>
<polygon points="346.14,279.13 342.16,276.87 342.16,281.39" fill="#19c6d6"/>
<polygon points="350.20,279.11 346.23,276.86 346.23,281.37" fill="#19c6d6"/>
<polygon points="354.27,279.10 350.29,276.84 350.29,281.36" fill="#19c6d6"/>
<polygon points="358.33,279.09 354.35,276.83 354.35,281.34" fill="#19c6d6"/>
<polygon points="362.39,279.07 358.41,276.81 358.41,281.33" fill="#19c6d6"/>
<polygon points="366.45,279.06 362.47,276.80 362.47,281.31" fill="#19c6d6"/>
<polygon points="370.51,279.04 366.54,276.79 366.54,281.30" fill="#19c6d6"/>
<polygon points="374.58,279.03 370.60,276.77 370.60,281.29" fill="#19c6d6"/>
<polygon points="378.64,279.01 374.66,276.76 374.66,281.27" fill="#19c6d6"/>
<polygon points="382.70,279.00 378.72,276.74 378.72,281.26" fill="#19c6d6"/>
<rect x="382.34" y="351.75" width="3.30" height="3.30" fill="#3a3a3a"/>
<rect x="386.40" y="352.84" width="3.30" height="3.30" fill="#3a3a3a"/>
<rect x="390.46" y="353.66" width="3.30" height="3.30" fill="#3a3a3a"/>
<rect x="394.53" y="354.27" width="3.30" height="3.30" fill="#3a3a3a"/>
<rect x="398.59" y="354.73" width="3.30" height="3.30" fill="#3a3a3a"/>
<rect x="402.65" y="355.08" width="3.30" height="3.30" fill="#3a3a3a"/>
<rect x="406.71" y="355.34" width="3.30" height="3.30" fill="#3a3a3a"/>
<rect x="410.77" y="355.54" width="3.30" height="3.30" fill="#3a3a3a"/>
<rect x="414.84" y="355.68" width="3.30" height="3.30" fill="#3a3a3a"/>
<rect x="418.90" y="355.80" width="3.30" height="3.30" fill="#3a3a3a"/>
<rect x="422.96" y="355.88" width="3.30" height="3.30" fill="#3a3a3a"/>
<rect x="427.02" y="355.94" width="3.30" height="3.30" fill="#3a3a3a"/>
<rect x="431.08" y="355.99" width="3.30" height="3.30" fill="#3a3a3a"/>
<rect x="435.15" y="356.02" width="3.30" height="3.30" fill="#3a3a3a"/>
<rect x="439.21" y="356.05" width="3.30" height="3.30" fill="#3a3a3a"/>
<circle cx="383.99" cy="384.70" r="1.95" fill="#f52828"/>
<circle cx="388.05" cy="384.70" r="1.95" fill="#f52828"/>
<circle cx="392.11" cy="384.70" r="1.95" fill="#f52828"/>
<circle cx="396.18" cy="384.70" r="1.95" fill="#f52828"/>
<circle cx="400.24" cy="384.70" r="1.95" fill="#f52828"/>
<circle cx="404.30" cy="384.70" r="1.95" fill="#f52828"/>
<circle cx="408.36" cy="384.70" r="1.95" fill="#f52828"/>
<circle cx="412.42" cy="384.70" r="1.95" fill="#f52828"/>
<circle cx="416.49" cy="384.70" r="1.95" fill="#f52828"/>
<circle cx="420.55" cy="384.70" r="1.95" fill="#f52828"/>
<circle cx="424.61" cy="384.70" r="1.95" fill="#f52828"/>
<circle cx="428.67" cy="384.70" r="1.95" fill="#f52828"/>
<circle cx="432.73" cy="384.70" r="1.95" fill="#f52828"/>
<circle cx="436.80" cy="384.70" r="1.95" fill="#f52828"/>
<circle cx="440.86" cy="384.70" r="1.95" fill="#f52828"/>
<polygon points="383.99,363.24 386.25,367.21 381.73,367.21" fill="#1a6fdf"/>
<polygon points="388.05,364.27 390.31,368.25 385.80,368.25" fill="#1a6fdf"/>
<polygon points="392.11,365.05 394.37,369.03 389.86,369.03" fill="#1a6fdf"/>
<polygon points="396.18,365.64 398.43,369.62 393.92,369.62" fill="#1a6fdf"/>
<polygon points="400.24,366.08 402.50,370.06 397.98,370.06" fill="#1a6fdf"/>
<polygon points="404.30,366.41 406.56,370.39 402.04,370.39" fill="#1a6fdf"/>
<polygon points="408.36,366.66 410.62,370.64 406.11,370.64" fill="#1a6fdf"/>
<polygon points="412.42,366.85 414.68,370.82 410.17,370.82" fill="#1a6fdf"/>
<polygon points="416.49,366.99 418.74,370.96 414.23,370.96" fill="#1a6fdf"/>
<polygon points="420.55,367.09 422.81,371.07 418.29,371.07" fill="#1a6fdf"/>
<polygon points="424.61,367.17 426.87,371.15 422.35,371.15" fill="#1a6fdf"/>
<polygon points="428.67,367.23 430.93,371.21 426.42,371.21" fill="#1a6fdf"/>
<polygon points="432.73,367.28 434.99,371.25 430.48,371.25" fill="#1a6fdf"/>
<polygon points="436.80,367.31 439.05,371.29 434.54,371.29" fill="#1a6fdf"/>
<polygon points="440.86,367.33 443.12,371.31 438.60,371.31" fill="#1a6fdf"/>
<polygon points="383.99,373.87 386.25,369.89 381.73,369.89" fill="#0f9d58"/>
<polygon points="388.05,374.88 390.31,370.90 385.80,370.90" fill="#0f9d58"/>
<polygon points="392.11,375.64 394.37,371.66 389.86,371.66" fill="#0f9d58"/>
<polygon points="396.18,376.21 398.43,372.23 393.92,372.23" fill="#0f9d58"/>
<polygon points="400.24,376.64 402.50,372.66 397.98,372.66" fill="#0f9d58"/>
<polygon points="404.30,376.96 406.56,372.99 402.04,372.99" fill="#0f9d58"/>
<polygon points="408.36,377.21 410.62,373.23 406.11,373.23" fill="#0f9d58"/>
<polygon points="412.42,377.39 414.68,373.41 410.17,373.41" fill="#0f9d58"/>
<polygon points="416.49,377.53 418.74,373.55 414.23,373.55" fill="#0f9d58"/>
<polygon points="420.55,377.63 422.81,373.65 418.29,373.65" fill="#0f9d58"/>
<polygon points="424.61,377.71 426.87,373.73 422.35,373.73" fill="#0f9d58"/>
<polygon points="428.67,377.76 430.93,373.79 426.42,373.79" fill="#0f9d58"/>
<polygon points="432.73,377.81 434.99,373.83 430.48,373.83" fill="#0f9d58"/>
<polygon points="436.80,377.84 439.05,373.86 434.54,373.86" fill="#0f9d58"/>
<polygon points="440.86,377.87 443.12,373.89 438.60,373.89" fill="#0f9d58"/>
<polygon points="383.99,374.27 386.52,376.80 383.99,379.33 381.46,376.80" fill="#b46ee8"/>
<polygon points="388.05,374.80 390.58,377.33 388.05,379.86 385.52,377.33" fill="#b46ee8"/>
<polygon points="392.11,375.20 394.64,377.73 392.11,380.26 389.58,377.73" fill="#b46ee8"/>
<polygon points="396.18,375.50 398.71,378.03 396.18,380.56 393.65,378.03" fill="#b46ee8"/>
<polygon points="400.24,375.73 402.77,378.26 400.24,380.79 397.71,378.26" fill="#b46ee8"/>
<polygon points="404.30,375.90 406.83,378.43 404.30,380.96 401.77,378.43" fill="#b46ee8"/>
<polygon points="408.36,376.02 410.89,378.55 408.36,381.08 405.83,378.55" fill="#b46ee8"/>
<polygon points="412.42,376.12 414.95,378.65 412.42,381.18 409.89,378.65" fill="#b46ee8"/>
<polygon points="416.49,376.19 419.02,378.72 416.49,381.25 413.96,378.72" fill="#b46ee8"/>
<polygon points="420.55,376.25 423.08,378.78 420.55,381.31 418.02,378.78" fill="#b46ee8"/>
<polygon points="424.61,376.29 427.14,378.82 424.61,381.35 422.08,378.82" fill="#b46ee8"/>
<polygon points="428.67,376.32 431.20,378.85 428.67,381.38 426.14,378.85" fill="#b46ee8"/>
<polygon points="432.73,376.34 435.26,378.87 432.73,381.40 430.20,378.87" fill="#b46ee8"/>
<polygon points="436.80,376.36 439.33,378.89 436.80,381.42 434.27,378.89" fill="#b46ee8"/>
<polygon points="440.86,376.37 443.39,378.90 440.86,381.43 438.33,378.90" fill="#b46ee8"/>
<polygon points="381.63,370.30 385.60,368.04 385.60,372.56" fill="#dc8e0c"/>
<polygon points="385.69,371.44 389.67,369.18 389.67,373.70" fill="#dc8e0c"/>
<polygon points="389.75,372.30 393.73,370.04 393.73,374.55" fill="#dc8e0c"/>
<polygon points="393.81,372.94 397.79,370.68 397.79,375.20" fill="#dc8e0c"/>
<polygon points="397.87,373.42 401.85,371.16 401.85,375.68" fill="#dc8e0c"/>
<polygon points="401.94,373.79 405.91,371.53 405.91,376.04" fill="#dc8e0c"/>
<polygon points="406.00,374.06 409.98,371.80 409.98,376.32" fill="#dc8e0c"/>
<polygon points="410.06,374.26 414.04,372.01 414.04,376.52" fill="#dc8e0c"/>
<polygon points="414.12,374.42 418.10,372.16 418.10,376.68" fill="#dc8e0c"/>
<polygon points="418.18,374.53 422.16,372.28 422.16,376.79" fill="#dc8e0c"/>
<polygon points="422.25,374.62 426.22,372.36 426.22,376.88" fill="#dc8e0c"/>
<polygon points="426.31,374.69 430.29,372.43 430.29,376.94" fill="#dc8e0c"/>
<polygon points="430.37,374.74 434.35,372.48 434.35,376.99" fill="#dc8e0c"/>
<polygon points="434.43,374.77 438.41,372.51 438.41,377.03" fill="#dc8e0c"/>
<polygon points="438.49,374.80 442.47,372.54 442.47,377.06" fill="#dc8e0c"/>
<polygon points="386.36,373.40 382.38,371.14 382.38,375.66" fill="#19c6d6"/>
<polygon points="390.42,374.44 386.44,372.18 386.44,376.70" fill="#19c6d6"/>
<polygon points="394.48,375.22 390.50,372.96 390.50,377.48" fill="#19c6d6"/>
<polygon points="398.54,375.80 394.56,373.55 394.56,378.06" fill="#19c6d6"/>
<polygon points="402.60,376.24 398.63,373.99 398.63,378.50" fill="#19c6d6"/>
<polygon points="406.67,376.58 402.69,374.32 402.69,378.83" fill="#19c6d6"/>
<polygon points="410.73,376.82 406.75,374.57 406.75,379.08" fill="#19c6d6"/>
<polygon points="414.79,377.01 410.81,374.75 410.81,379.27" fill="#19c6d6"/>
<polygon points="418.85,377.15 414.87,374.89 414.87,379.41" fill="#19c6d6"/>
<polygon points="422.91,377.26 418.94,375.00 418.94,379.51" fill="#19c6d6"/>
<polygon points="426.98,377.34 423.00,375.08 423.00,379.59" fill="#19c6d6"/>
<polygon points="431.04,377.40 427.06,375.14 427.06,379.65" fill="#19c6d6"/>
<polygon points="435.10,377.44 431.12,375.18 431.12,379.70" fill="#19c6d6"/>
<polygon points="439.16,377.47 435.18,375.22 435.18,379.73" fill="#19c6d6"/>
<polygon points="443.22,377.50 439.25,375.24 439.25,379.76" fill="#19c6d6"/>
<rect x="443.47" y="262.15" width="3.30" height="3.30" fill="#3a3a3a"/>
<rect x="447.54" y="261.46" width="3.30" height="3.30" fill="#3a3a3a"/>
<rect x="451.60" y="260.90" width="3.30" height="3.30" fill="#3a3a3a"/>
<rect x="455.66" y="260.44" width="3.30" height="3.30" fill="#3a3a3a"/>
<rect x="459.72" y="260.06" width="3.30" height="3.30" fill="#3a3a3a"/>
<rect x="463.78" y="259.76" width="3.30" height="3.30" fill="#3a3a3a"/>
<rect x="467.85" y="259.50" width="3.30" height="3.30" fill="#3a3a3a"/>
<rect x="471.91" y="259.30" width="3.30" height="3.30" fill="#3a3a3a"/>
<rect x="475.97" y="259.13" width="3.30" height="3.30" fill="#3a3a3a"/>
<rect x="480.03" y="258.99" width="3.30" height="3.30" fill="#3a3a3a"/>
<rect x="484.09" y="258.87" width="3.30" height="3.30" fill="#3a3a3a"/>
<rect x="488.16" y="258.78" width="3.30" height="3.30" fill="#3a3a3a"/>
<rect x="492.22" y="258.71" width="3.30" height="3.30" fill="#3a3a3a"/>
<rect x="496.28" y="258.64" width="3.30" height="3.30" fill="#3a3a3a"/>
<rect x="500.34" y="258.59" width="3.30" height="3.30" fill="#3a3a3a"/>
<rect x="504.40" y="258.55" width="3.30" height="3.30" fill="#3a3a3a"/>
<circle cx="445.12" cy="293.30" r="1.95" fill="#f52828"/>
<circle cx="449.19" cy="292.86" r="1.95" fill="#f52828"/>
<circle cx="453.25" cy="292.50" r="1.95" fill="#f52828"/>
<circle cx="457.31" cy="292.21" r="1.95" fill="#f52828"/>
<circle cx="461.37" cy="291.97" r="1.95" fill="#f52828"/>
<circle cx="465.43" cy="291.77" r="1.95" fill="#f52828"/>
<circle cx="469.50" cy="291.61" r="1.95" fill="#f52828"/>
<circle cx="473.56" cy="291.48" r="1.95" fill="#f52828"/>
<circle cx="477.62" cy="291.37" r="1.95" fill="#f52828"/>
<circle cx="481.68" cy="291.28" r="1.95" fill="#f52828"/>
<circle cx="485.74" cy="291.21" r="1.95" fill="#f52828"/>
<circle cx="489.81" cy="291.15" r="1.95" fill="#f52828"/>
<circle cx="493.87" cy="291.10" r="1.95" fill="#f52828"/>
<circle cx="497.93" cy="291.06" r="1.95" fill="#f52828"/>
<circle cx="501.99" cy="291.03" r="1.95" fill="#f52828"/>
<circle cx="506.05" cy="291.00" r="1.95" fill="#f52828"/>
<polygon points="445.12,274.13 447.38,278.11 442.87,278.11" fill="#1a6fdf"/>
<polygon points="449.19,273.58 451.44,277.56 446.93,277.56" fill="#1a6fdf"/>
<polygon points="453.25,273.13 455.51,277.11 450.99,277.11" fill="#1a6fdf"/>
<polygon points="457.31,272.76 459.57,276.74 455.05,276.74" fill="#1a6fdf"/>
<polygon points="461.37,272.45 463.63,276.43 459.11,276.43" fill="#1a6fdf"/>
<polygon points="465.43,272.21 467.69,276.18 463.18,276.18" fill="#1a6fdf"/>
<polygon points="469.50,272.00 471.75,275.98 467.24,275.98" fill="#1a6fdf"/>
<polygon points="473.56,271.84 475.82,275.81 471.30,275.81" fill="#1a6fdf"/>
<polygon points="477.62,271.70 479.88,275.68 475.36,275.68" fill="#1a6fdf"/>
<polygon points="481.68,271.59 483.94,275.57 479.42,275.57" fill="#1a6fdf"/>
<polygon points="485.74,271.50 488.00,275.47 483.49,275.47" fill="#1a6fdf"/>
<polygon points="489.81,271.42 492.06,275.40 487.55,275.40" fill="#1a6fdf"/>
<polygon points="493.87,271.36 496.13,275.34 491.61,275.34" fill="#1a6fdf"/>
<polygon points="497.93,271.31 500.19,275.29 495.67,275.29" fill="#1a6fdf"/>
<polygon points="501.99,271.27 504.25,275.25 499.73,275.25" fill="#1a6fdf"/>
<polygon points="506.05,271.24 508.31,275.21 503.80,275.21" fill="#1a6fdf"/>
<polygon points="445.12,284.37 447.38,280.39 442.87,280.39" fill="#0f9d58"/>
<polygon points="449.19,283.98 451.44,280.01 446.93,280.01" fill="#0f9d58"/>
<polygon points="453.25,283.67 455.51,279.69 450.99,279.69" fill="#0f9d58"/>
<polygon points="457.31,283.42 459.57,279.44 455.05,279.44" fill="#0f9d58"/>
<polygon points="461.37,283.21 463.63,279.23 459.11,279.23" fill="#0f9d58"/>
<polygon points="465.43,283.03 467.69,279.06 463.18,279.06" fill="#0f9d58"/>
<polygon points="469.50,282.89 471.75,278.92 467.24,278.92" fill="#0f9d58"/>
<polygon points="473.56,282.78 475.82,278.80 471.30,278.80" fill="#0f9d58"/>
<polygon points="477.62,282.69 479.88,278.71 475.36,278.71" fill="#0f9d58"/>
<polygon points="481.68,282.61 483.94,278.63 479.42,278.63" fill="#0f9d58"/>
<polygon points="485.74,282.55 488.00,278.57 483.49,278.57" fill="#0f9d58"/>
<polygon points="489.81,282.49 492.06,278.52 487.55,278.52" fill="#0f9d58"/>
<polygon points="493.87,282.45 496.13,278.47 491.61,278.47" fill="#0f9d58"/>
<polygon points="497.93,282.42 500.19,278.44 495.67,278.44" fill="#0f9d58"/>
<polygon points="501.99,282.39 504.25,278.41 499.73,278.41" fill="#0f9d58"/>
<polygon points="506.05,282.37 508.31,278.39 503.80,278.39" fill="#0f9d58"/>
<polygon points="445.12,287.47 447.65,290.00 445.12,292.53 442.59,290.00" fill="#b46ee8"/>
<polygon points="449.19,286.63 451.72,289.16 449.19,291.69 446.66,289.16" fill="#b46ee8"/>
<polygon points="453.25,285.94 455.78,288.47 453.25,291.00 450.72,288.47" fill="#b46ee8"/>
<polygon points="457.31,285.38 459.84,287.91 457.31,290.44 454.78,287.91" fill="#b46ee8"/>
<polygon points="461.37,284.92 463.90,287.45 461.37,289.98 458.84,287.45" fill="#b46ee8"/>
<polygon points="465.43,284.54 467.96,287.07 465.43,289.60 462.90,287.07" fill="#b46ee8"/>
<polygon points="469.50,284.23 472.03,286.76 469.50,289.29 466.97,286.76" fill="#b46ee8"/>
<polygon points="473.56,283.98 476.09,286.51 473.56,289.04 471.03,286.51" fill="#b46ee8"/>
<polygon points="477.62,283.77 480.15,286.30 477.62,288.83 475.09,286.30" fill="#b46ee8"/>
<polygon points="481.68,283.60 484.21,286.13 481.68,288.66 479.15,286.13" fill="#b46ee8"/>
<polygon points="485.74,283.47 488.27,286.00 485.74,288.53 483.21,286.00" fill="#b46ee8"/>
<polygon points="489.81,283.35 492.34,285.88 489.81,288.41 487.28,285.88" fill="#b46ee8"/>
<polygon points="493.87,283.26 496.40,285.79 493.87,288.32 491.34,285.79" fill="#b46ee8"/>
<polygon points="497.93,283.18 500.46,285.71 497.93,288.24 495.40,285.71" fill="#b46ee8"/>
<polygon points="501.99,283.12 504.52,285.65 501.99,288.18 499.46,285.65" fill="#b46ee8"/>
<polygon points="506.05,283.07 508.58,285.60 506.05,288.13 503.52,285.60" fill="#b46ee8"/>
<polygon points="442.76,297.30 446.74,295.04 446.74,299.56" fill="#dc8e0c"/>
<polygon points="446.82,297.01 450.80,294.76 450.80,299.27" fill="#dc8e0c"/>
<polygon points="450.88,296.78 454.86,294.52 454.86,299.04" fill="#dc8e0c"/>
<polygon points="454.94,296.59 458.92,294.33 458.92,298.85" fill="#dc8e0c"/>
<polygon points="459.01,296.43 462.98,294.17 462.98,298.69" fill="#dc8e0c"/>
<polygon points="463.07,296.30 467.05,294.04 467.05,298.56" fill="#dc8e0c"/>
<polygon points="467.13,296.20 471.11,293.94 471.11,298.45" fill="#dc8e0c"/>
<polygon points="471.19,296.11 475.17,293.85 475.17,298.37" fill="#dc8e0c"/>
<polygon points="475.25,296.04 479.23,293.78 479.23,298.30" fill="#dc8e0c"/>
<polygon points="479.32,295.98 483.29,293.72 483.29,298.24" fill="#dc8e0c"/>
<polygon points="483.38,295.94 487.36,293.68 487.36,298.19" fill="#dc8e0c"/>
<polygon points="487.44,295.90 491.42,293.64 491.42,298.15" fill="#dc8e0c"/>
<polygon points="491.50,295.86 495.48,293.61 495.48,298.12" fill="#dc8e0c"/>
<polygon points="495.56,295.84 499.54,293.58 499.54,298.10" fill="#dc8e0c"/>
<polygon points="499.63,295.82 503.60,293.56 503.60,298.07" fill="#dc8e0c"/>
<polygon points="503.69,295.80 507.67,293.54 507.67,298.06" fill="#dc8e0c"/>
<polygon points="447.49,282.70 443.51,280.44 443.51,284.96" fill="#19c6d6"/>
<polygon points="451.55,282.28 447.57,280.02 447.57,284.54" fill="#19c6d6"/>
<polygon points="455.61,281.94 451.64,279.68 451.64,284.19" fill="#19c6d6"/>
<polygon points="459.67,281.66 455.70,279.40 455.70,283.91" fill="#19c6d6"/>
<polygon points="463.74,281.43 459.76,279.17 459.76,283.68" fill="#19c6d6"/>
<polygon points="467.80,281.24 463.82,278.98 463.82,283.49" fill="#19c6d6"/>
<polygon points="471.86,281.08 467.88,278.82 467.88,283.34" fill="#19c6d6"/>
<polygon points="475.92,280.96 471.95,278.70 471.95,283.21" fill="#19c6d6"/>
<polygon points="479.98,280.85 476.01,278.59 476.01,283.11" fill="#19c6d6"/>
<polygon points="484.05,280.77 480.07,278.51 480.07,283.02" fill="#19c6d6"/>
<polygon points="488.11,280.70 484.13,278.44 484.13,282.96" fill="#19c6d6"/>
<polygon points="492.17,280.64 488.19,278.38 488.19,282.90" fill="#19c6d6"/>
<polygon points="496.23,280.59 492.26,278.34 492.26,282.85" fill="#19c6d6"/>
<polygon points="500.29,280.56 496.32,278.30 496.32,282.81" fill="#19c6d6"/>
<polygon points="504.36,280.53 500.38,278.27 500.38,282.78" fill="#19c6d6"/>
<polygon points="508.42,280.50 504.44,278.24 504.44,282.76" fill="#19c6d6"/>
</g>
<rect x="312.4" y="232.6" width="223.20" height="179.60" fill="none" stroke="#2a2a2a" stroke-width="1.3"/>
<line x1="322.35" y1="412.2" x2="322.35" y2="409.2" stroke="#262626" stroke-width="1"/>
<line x1="332.50" y1="412.2" x2="332.50" y2="410.59999999999997" stroke="#262626" stroke-width="1"/>
<line x1="342.66" y1="412.2" x2="342.66" y2="409.2" stroke="#262626" stroke-width="1"/>
<line x1="352.82" y1="412.2" x2="352.82" y2="410.59999999999997" stroke="#262626" stroke-width="1"/>
<line x1="362.97" y1="412.2" x2="362.97" y2="409.2" stroke="#262626" stroke-width="1"/>
<line x1="373.12" y1="412.2" x2="373.12" y2="410.59999999999997" stroke="#262626" stroke-width="1"/>
<line x1="383.28" y1="412.2" x2="383.28" y2="409.2" stroke="#262626" stroke-width="1"/>
<line x1="393.44" y1="412.2" x2="393.44" y2="410.59999999999997" stroke="#262626" stroke-width="1"/>
<line x1="403.59" y1="412.2" x2="403.59" y2="409.2" stroke="#262626" stroke-width="1"/>
<line x1="413.75" y1="412.2" x2="413.75" y2="410.59999999999997" stroke="#262626" stroke-width="1"/>
<line x1="423.90" y1="412.2" x2="423.90" y2="409.2" stroke="#262626" stroke-width="1"/>
<line x1="434.06" y1="412.2" x2="434.06" y2="410.59999999999997" stroke="#262626" stroke-width="1"/>
<line x1="444.21" y1="412.2" x2="444.21" y2="409.2" stroke="#262626" stroke-width="1"/>
<line x1="454.37" y1="412.2" x2="454.37" y2="410.59999999999997" stroke="#262626" stroke-width="1"/>
<line x1="464.52" y1="412.2" x2="464.52" y2="409.2" stroke="#262626" stroke-width="1"/>
<line x1="474.68" y1="412.2" x2="474.68" y2="410.59999999999997" stroke="#262626" stroke-width="1"/>
<line x1="484.83" y1="412.2" x2="484.83" y2="409.2" stroke="#262626" stroke-width="1"/>
<line x1="494.99" y1="412.2" x2="494.99" y2="410.59999999999997" stroke="#262626" stroke-width="1"/>
<line x1="505.14" y1="412.2" x2="505.14" y2="409.2" stroke="#262626" stroke-width="1"/>
<line x1="515.30" y1="412.2" x2="515.30" y2="410.59999999999997" stroke="#262626" stroke-width="1"/>
<line x1="525.45" y1="412.2" x2="525.45" y2="409.2" stroke="#262626" stroke-width="1"/>
<text x="322.35" y="424.70" font-size="11" text-anchor="middle" >0</text>
<text x="342.66" y="424.70" font-size="11" text-anchor="middle" >20</text>
<text x="362.97" y="424.70" font-size="11" text-anchor="middle" >40</text>
<text x="383.28" y="424.70" font-size="11" text-anchor="middle" >60</text>
<text x="403.59" y="424.70" font-size="11" text-anchor="middle" >80</text>
<text x="423.90" y="424.70" font-size="11" text-anchor="middle" >100</text>
<text x="444.21" y="424.70" font-size="11" text-anchor="middle" >120</text>
<text x="464.52" y="424.70" font-size="11" text-anchor="middle" >140</text>
<text x="484.83" y="424.70" font-size="11" text-anchor="middle" >160</text>
<text x="505.14" y="424.70" font-size="11" text-anchor="middle" >180</text>
<text x="525.45" y="424.70" font-size="11" text-anchor="middle" >200</text>
<line x1="312.30" y1="412.20" x2="315.30" y2="412.20" stroke="#262626" stroke-width="1"/>
<line x1="312.30" y1="394.18" x2="313.90" y2="394.18" stroke="#262626" stroke-width="0.8"/>
<line x1="312.30" y1="383.64" x2="313.90" y2="383.64" stroke="#262626" stroke-width="0.8"/>
<line x1="312.30" y1="376.16" x2="313.90" y2="376.16" stroke="#262626" stroke-width="0.8"/>
<line x1="312.30" y1="370.35" x2="313.90" y2="370.35" stroke="#262626" stroke-width="0.8"/>
<line x1="312.30" y1="365.61" x2="313.90" y2="365.61" stroke="#262626" stroke-width="0.8"/>
<line x1="312.30" y1="361.61" x2="313.90" y2="361.61" stroke="#262626" stroke-width="0.8"/>
<line x1="312.30" y1="358.14" x2="313.90" y2="358.14" stroke="#262626" stroke-width="0.8"/>
<line x1="312.30" y1="355.07" x2="313.90" y2="355.07" stroke="#262626" stroke-width="0.8"/>
<line x1="312.30" y1="352.33" x2="315.30" y2="352.33" stroke="#262626" stroke-width="1"/>
<line x1="312.30" y1="334.31" x2="313.90" y2="334.31" stroke="#262626" stroke-width="0.8"/>
<line x1="312.30" y1="323.77" x2="313.90" y2="323.77" stroke="#262626" stroke-width="0.8"/>
<line x1="312.30" y1="316.29" x2="313.90" y2="316.29" stroke="#262626" stroke-width="0.8"/>
<line x1="312.30" y1="310.49" x2="313.90" y2="310.49" stroke="#262626" stroke-width="0.8"/>
<line x1="312.30" y1="305.75" x2="313.90" y2="305.75" stroke="#262626" stroke-width="0.8"/>
<line x1="312.30" y1="301.74" x2="313.90" y2="301.74" stroke="#262626" stroke-width="0.8"/>
<line x1="312.30" y1="298.27" x2="313.90" y2="298.27" stroke="#262626" stroke-width="0.8"/>
<line x1="312.30" y1="295.21" x2="313.90" y2="295.21" stroke="#262626" stroke-width="0.8"/>
<line x1="312.30" y1="292.47" x2="315.30" y2="292.47" stroke="#262626" stroke-width="1"/>
<line x1="312.30" y1="274.45" x2="313.90" y2="274.45" stroke="#262626" stroke-width="0.8"/>
<line x1="312.30" y1="263.90" x2="313.90" y2="263.90" stroke="#262626" stroke-width="0.8"/>
<line x1="312.30" y1="256.42" x2="313.90" y2="256.42" stroke="#262626" stroke-width="0.8"/>
<line x1="312.30" y1="250.62" x2="313.90" y2="250.62" stroke="#262626" stroke-width="0.8"/>
<line x1="312.30" y1="245.88" x2="313.90" y2="245.88" stroke="#262626" stroke-width="0.8"/>
<line x1="312.30" y1="241.87" x2="313.90" y2="241.87" stroke="#262626" stroke-width="0.8"/>
<line x1="312.30" y1="238.40" x2="313.90" y2="238.40" stroke="#262626" stroke-width="0.8"/>
<line x1="312.30" y1="235.34" x2="313.90" y2="235.34" stroke="#262626" stroke-width="0.8"/>
<line x1="312.30" y1="232.60" x2="315.30" y2="232.60" stroke="#262626" stroke-width="1"/>
<text x="307.70" y="416.33" font-size="10.4" text-anchor="end">10<tspan font-size="6.94" dx="0.4" dy="-4.68">0</tspan></text>
<text x="307.70" y="356.47" font-size="10.4" text-anchor="end">10<tspan font-size="6.94" dx="0.4" dy="-4.68">1</tspan></text>
<text x="307.70" y="296.60" font-size="10.4" text-anchor="end">10<tspan font-size="6.94" dx="0.4" dy="-4.68">2</tspan></text>
<text x="307.70" y="236.73" font-size="10.4" text-anchor="end">10<tspan font-size="6.94" dx="0.4" dy="-4.68">3</tspan></text>
<text x="424.50" y="439.10" font-size="15" text-anchor="middle" >Time (s)</text>
<text transform="translate(288.40,322.10) rotate(-90)" font-size="15.3" text-anchor="middle" >Apparent Viscosity (Pa·s)</text>
<text x="274.30" y="238.40" font-size="16" text-anchor="start" >D</text>
<rect x="447.80" y="314.10" width="3.60" height="3.60" fill="#3a3a3a"/>
<text x="460.30" y="319.60" font-size="11.1" text-anchor="start" >WalPI-WPI 9:1</text>
<circle cx="449.60" cy="329.78" r="2.20" fill="#f52828"/>
<text x="460.30" y="333.48" font-size="11.1" text-anchor="start" >WalPI-WPI 8:2</text>
<polygon points="449.60,341.24 451.91,345.31 447.29,345.31" fill="#1a6fdf"/>
<text x="460.30" y="347.36" font-size="11.1" text-anchor="start" >WalPI-WPI 7:3</text>
<polygon points="449.60,359.96 451.91,355.89 447.29,355.89" fill="#0f9d58"/>
<text x="460.30" y="361.24" font-size="11.1" text-anchor="start" >WalPI-WPI 6:4</text>
<polygon points="449.60,368.89 452.13,371.42 449.60,373.95 447.07,371.42" fill="#b46ee8"/>
<text x="460.30" y="375.12" font-size="11.1" text-anchor="start" >WalPI-WPI 1:1</text>
<polygon points="447.18,385.30 451.25,382.99 451.25,387.61" fill="#dc8e0c"/>
<text x="460.30" y="389.00" font-size="11.1" text-anchor="start" >nano-WalPI</text>
<polygon points="452.02,399.18 447.95,396.87 447.95,401.49" fill="#19c6d6"/>
<text x="460.30" y="402.88" font-size="11.1" text-anchor="start" >nano-WPI</text>
</svg></body></html>
